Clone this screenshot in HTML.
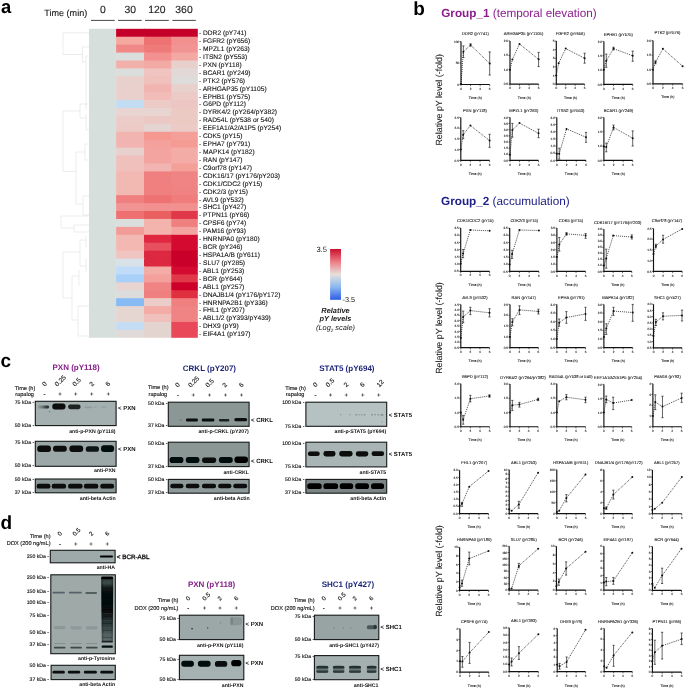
<!DOCTYPE html>
<html><head><meta charset="utf-8"><title>Figure</title>
<style>
html,body{margin:0;padding:0;background:#fff;}
body{width:685px;height:689px;overflow:hidden;}
svg{display:block;font-family:'Liberation Sans', Arial, sans-serif;text-rendering:geometricPrecision;}
</style></head>
<body>
<svg width="685" height="689" viewBox="0 0 685 689">
<defs><filter id="bl" x="-30%" y="-80%" width="160%" height="260%"><feGaussianBlur stdDeviation="0.55"/></filter><filter id="bl2" x="-100%" y="-100%" width="300%" height="300%"><feGaussianBlur stdDeviation="0.35"/></filter></defs>
<text x="0.90" y="12.60" font-size="18.4" font-weight="bold">a</text>
<text x="44.30" y="15.90" font-size="9.05" fill="#1a1a1a" stroke="#1a1a1a" stroke-width="0.12">Time (min)</text>
<text x="102.80" y="13.00" font-size="10.4" text-anchor="middle" fill="#1a1a1a" stroke="#1a1a1a" stroke-width="0.12">0</text>
<text x="130.30" y="13.00" font-size="10.4" text-anchor="middle" fill="#1a1a1a" stroke="#1a1a1a" stroke-width="0.12">30</text>
<text x="156.90" y="13.00" font-size="10.4" text-anchor="middle" fill="#1a1a1a" stroke="#1a1a1a" stroke-width="0.12">120</text>
<text x="184.00" y="13.00" font-size="10.4" text-anchor="middle" fill="#1a1a1a" stroke="#1a1a1a" stroke-width="0.12">360</text>
<rect x="91" y="19.9" width="23.7" height="0.9" fill="#333"/>
<rect x="118" y="19.9" width="23.7" height="0.9" fill="#333"/>
<rect x="145" y="19.9" width="23.8" height="0.9" fill="#333"/>
<rect x="172.4" y="19.9" width="23.4" height="0.9" fill="#333"/>
<rect x="89" y="28.8" width="27.1" height="309.0" fill="#d6dfdc"/>
<rect x="116.1" y="28.80" width="28.90" height="8.92" fill="#c4002a"/>
<rect x="144.0" y="28.80" width="28.30" height="8.92" fill="#c4002a"/>
<rect x="171.3" y="28.80" width="26.50" height="8.92" fill="#c4002a"/>
<text x="199.00" y="35.11" font-size="6.63" fill="#111" stroke="#111" stroke-width="0.1">- DDR2 (pY741)</text>
<rect x="116.1" y="36.72" width="28.90" height="8.92" fill="#f4a8a0"/>
<rect x="144.0" y="36.72" width="28.30" height="8.92" fill="#ee7272"/>
<rect x="171.3" y="36.72" width="26.50" height="8.92" fill="#f29090"/>
<text x="199.00" y="43.03" font-size="6.63" fill="#111" stroke="#111" stroke-width="0.1">- FGFR2 (pY656)</text>
<rect x="116.1" y="44.65" width="28.90" height="8.92" fill="#f08888"/>
<rect x="144.0" y="44.65" width="28.30" height="8.92" fill="#ef7a7a"/>
<rect x="171.3" y="44.65" width="26.50" height="8.92" fill="#f29494"/>
<text x="199.00" y="50.96" font-size="6.63" fill="#111" stroke="#111" stroke-width="0.1">- MPZL1 (pY263)</text>
<rect x="116.1" y="52.57" width="28.90" height="8.92" fill="#dadedc"/>
<rect x="144.0" y="52.57" width="28.30" height="8.92" fill="#f39090"/>
<rect x="171.3" y="52.57" width="26.50" height="8.92" fill="#f4a8a4"/>
<text x="199.00" y="58.88" font-size="6.63" fill="#111" stroke="#111" stroke-width="0.1">- ITSN2 (pY553)</text>
<rect x="116.1" y="60.49" width="28.90" height="8.92" fill="#f2b0aa"/>
<rect x="144.0" y="60.49" width="28.30" height="8.92" fill="#f2aaa4"/>
<rect x="171.3" y="60.49" width="26.50" height="8.92" fill="#e8d0cc"/>
<text x="199.00" y="66.80" font-size="6.63" fill="#111" stroke="#111" stroke-width="0.1">- PXN (pY118)</text>
<rect x="116.1" y="68.42" width="28.90" height="8.92" fill="#dcdedc"/>
<rect x="144.0" y="68.42" width="28.30" height="8.92" fill="#f0c4c0"/>
<rect x="171.3" y="68.42" width="26.50" height="8.92" fill="#e2d8d6"/>
<text x="199.00" y="74.73" font-size="6.63" fill="#111" stroke="#111" stroke-width="0.1">- BCAR1 (pY249)</text>
<rect x="116.1" y="76.34" width="28.90" height="8.92" fill="#e8d0cc"/>
<rect x="144.0" y="76.34" width="28.30" height="8.92" fill="#f0c0bc"/>
<rect x="171.3" y="76.34" width="26.50" height="8.92" fill="#dedcda"/>
<text x="199.00" y="82.65" font-size="6.63" fill="#111" stroke="#111" stroke-width="0.1">- PTK2 (pY576)</text>
<rect x="116.1" y="84.26" width="28.90" height="8.92" fill="#ead0cc"/>
<rect x="144.0" y="84.26" width="28.30" height="8.92" fill="#f2b4b0"/>
<rect x="171.3" y="84.26" width="26.50" height="8.92" fill="#e8d0cc"/>
<text x="199.00" y="90.57" font-size="6.63" fill="#111" stroke="#111" stroke-width="0.1">- ARHGAP35 (pY1105)</text>
<rect x="116.1" y="92.18" width="28.90" height="8.92" fill="#ead0cc"/>
<rect x="144.0" y="92.18" width="28.30" height="8.92" fill="#f2bcb8"/>
<rect x="171.3" y="92.18" width="26.50" height="8.92" fill="#eccac6"/>
<text x="199.00" y="98.50" font-size="6.63" fill="#111" stroke="#111" stroke-width="0.1">- EPHB1 (pY575)</text>
<rect x="116.1" y="100.11" width="28.90" height="8.92" fill="#c2dcf4"/>
<rect x="144.0" y="100.11" width="28.30" height="8.92" fill="#eccac6"/>
<rect x="171.3" y="100.11" width="26.50" height="8.92" fill="#ecc6c2"/>
<text x="199.00" y="106.42" font-size="6.63" fill="#111" stroke="#111" stroke-width="0.1">- G6PD (pY112)</text>
<rect x="116.1" y="108.03" width="28.90" height="8.92" fill="#e8d4d0"/>
<rect x="144.0" y="108.03" width="28.30" height="8.92" fill="#e8d4d0"/>
<rect x="171.3" y="108.03" width="26.50" height="8.92" fill="#eccac4"/>
<text x="199.00" y="114.34" font-size="6.63" fill="#111" stroke="#111" stroke-width="0.1">- DYRK4/2 (pY264/pY382)</text>
<rect x="116.1" y="115.95" width="28.90" height="8.92" fill="#ecccc8"/>
<rect x="144.0" y="115.95" width="28.30" height="8.92" fill="#ecc8c4"/>
<rect x="171.3" y="115.95" width="26.50" height="8.92" fill="#eccac4"/>
<text x="199.00" y="122.27" font-size="6.63" fill="#111" stroke="#111" stroke-width="0.1">- RAD54L (pY538 or 540)</text>
<rect x="116.1" y="123.88" width="28.90" height="8.92" fill="#eccac6"/>
<rect x="144.0" y="123.88" width="28.30" height="8.92" fill="#e4d4d2"/>
<rect x="171.3" y="123.88" width="26.50" height="8.92" fill="#eccac6"/>
<text x="199.00" y="130.19" font-size="6.63" fill="#111" stroke="#111" stroke-width="0.1">- EEF1A1/A2/A1P5 (pY254)</text>
<rect x="116.1" y="131.80" width="28.90" height="8.92" fill="#f2b4b0"/>
<rect x="144.0" y="131.80" width="28.30" height="8.92" fill="#f49890"/>
<rect x="171.3" y="131.80" width="26.50" height="8.92" fill="#f4a098"/>
<text x="199.00" y="138.11" font-size="6.63" fill="#111" stroke="#111" stroke-width="0.1">- CDK5 (pY15)</text>
<rect x="116.1" y="139.72" width="28.90" height="8.92" fill="#f2b4b0"/>
<rect x="144.0" y="139.72" width="28.30" height="8.92" fill="#f4a09c"/>
<rect x="171.3" y="139.72" width="26.50" height="8.92" fill="#f49c94"/>
<text x="199.00" y="146.03" font-size="6.63" fill="#111" stroke="#111" stroke-width="0.1">- EPHA7 (pY791)</text>
<rect x="116.1" y="147.65" width="28.90" height="8.92" fill="#e8d0cc"/>
<rect x="144.0" y="147.65" width="28.30" height="8.92" fill="#f4a4a0"/>
<rect x="171.3" y="147.65" width="26.50" height="8.92" fill="#f4aca6"/>
<text x="199.00" y="153.96" font-size="6.63" fill="#111" stroke="#111" stroke-width="0.1">- MAPK14 (pY182)</text>
<rect x="116.1" y="155.57" width="28.90" height="8.92" fill="#f0c0bc"/>
<rect x="144.0" y="155.57" width="28.30" height="8.92" fill="#f4a4a0"/>
<rect x="171.3" y="155.57" width="26.50" height="8.92" fill="#f4aca6"/>
<text x="199.00" y="161.88" font-size="6.63" fill="#111" stroke="#111" stroke-width="0.1">- RAN (pY147)</text>
<rect x="116.1" y="163.49" width="28.90" height="8.92" fill="#f0c0bc"/>
<rect x="144.0" y="163.49" width="28.30" height="8.92" fill="#f2b4b0"/>
<rect x="171.3" y="163.49" width="26.50" height="8.92" fill="#f4a098"/>
<text x="199.00" y="169.80" font-size="6.63" fill="#111" stroke="#111" stroke-width="0.1">- C9orf78 (pY147)</text>
<rect x="116.1" y="171.42" width="28.90" height="8.92" fill="#f2b8b2"/>
<rect x="144.0" y="171.42" width="28.30" height="8.92" fill="#f08080"/>
<rect x="171.3" y="171.42" width="26.50" height="8.92" fill="#f08484"/>
<text x="199.00" y="177.73" font-size="6.63" fill="#111" stroke="#111" stroke-width="0.1">- CDK16/17 (pY176/pY203)</text>
<rect x="116.1" y="179.34" width="28.90" height="8.92" fill="#f2b8b2"/>
<rect x="144.0" y="179.34" width="28.30" height="8.92" fill="#f08080"/>
<rect x="171.3" y="179.34" width="26.50" height="8.92" fill="#f08484"/>
<text x="199.00" y="185.65" font-size="6.63" fill="#111" stroke="#111" stroke-width="0.1">- CDK1/CDC2 (pY15)</text>
<rect x="116.1" y="187.26" width="28.90" height="8.92" fill="#f2b8b2"/>
<rect x="144.0" y="187.26" width="28.30" height="8.92" fill="#f08080"/>
<rect x="171.3" y="187.26" width="26.50" height="8.92" fill="#f08282"/>
<text x="199.00" y="193.57" font-size="6.63" fill="#111" stroke="#111" stroke-width="0.1">- CDK2/3 (pY15)</text>
<rect x="116.1" y="195.18" width="28.90" height="8.92" fill="#f08080"/>
<rect x="144.0" y="195.18" width="28.30" height="8.92" fill="#ee7272"/>
<rect x="171.3" y="195.18" width="26.50" height="8.92" fill="#f07c7c"/>
<text x="199.00" y="201.50" font-size="6.63" fill="#111" stroke="#111" stroke-width="0.1">- AVL9 (pY532)</text>
<rect x="116.1" y="203.11" width="28.90" height="8.92" fill="#f29494"/>
<rect x="144.0" y="203.11" width="28.30" height="8.92" fill="#f29090"/>
<rect x="171.3" y="203.11" width="26.50" height="8.92" fill="#f29090"/>
<text x="199.00" y="209.42" font-size="6.63" fill="#111" stroke="#111" stroke-width="0.1">- SHC1 (pY427)</text>
<rect x="116.1" y="211.03" width="28.90" height="8.92" fill="#ee7070"/>
<rect x="144.0" y="211.03" width="28.30" height="8.92" fill="#ea6060"/>
<rect x="171.3" y="211.03" width="26.50" height="8.92" fill="#e03848"/>
<text x="199.00" y="217.34" font-size="6.63" fill="#111" stroke="#111" stroke-width="0.1">- PTPN11 (pY66)</text>
<rect x="116.1" y="218.95" width="28.90" height="8.92" fill="#dadedc"/>
<rect x="144.0" y="218.95" width="28.30" height="8.92" fill="#f4b4ae"/>
<rect x="171.3" y="218.95" width="26.50" height="8.92" fill="#f08080"/>
<text x="199.00" y="225.27" font-size="6.63" fill="#111" stroke="#111" stroke-width="0.1">- CPSF6 (pY74)</text>
<rect x="116.1" y="226.88" width="28.90" height="8.92" fill="#f29c98"/>
<rect x="144.0" y="226.88" width="28.30" height="8.92" fill="#f4b4ae"/>
<rect x="171.3" y="226.88" width="26.50" height="8.92" fill="#f4a4a0"/>
<text x="199.00" y="233.19" font-size="6.63" fill="#111" stroke="#111" stroke-width="0.1">- PAM16 (pY93)</text>
<rect x="116.1" y="234.80" width="28.90" height="8.92" fill="#f2b8b2"/>
<rect x="144.0" y="234.80" width="28.30" height="8.92" fill="#e02840"/>
<rect x="171.3" y="234.80" width="26.50" height="8.92" fill="#d40a30"/>
<text x="199.00" y="241.11" font-size="6.63" fill="#111" stroke="#111" stroke-width="0.1">- HNRNPA0 (pY180)</text>
<rect x="116.1" y="242.72" width="28.90" height="8.92" fill="#f4b8b2"/>
<rect x="144.0" y="242.72" width="28.30" height="8.92" fill="#e85060"/>
<rect x="171.3" y="242.72" width="26.50" height="8.92" fill="#d40a30"/>
<text x="199.00" y="249.03" font-size="6.63" fill="#111" stroke="#111" stroke-width="0.1">- BCR (pY246)</text>
<rect x="116.1" y="250.65" width="28.90" height="8.92" fill="#f0c4c0"/>
<rect x="144.0" y="250.65" width="28.30" height="8.92" fill="#dc2840"/>
<rect x="171.3" y="250.65" width="26.50" height="8.92" fill="#c8002a"/>
<text x="199.00" y="256.96" font-size="6.63" fill="#111" stroke="#111" stroke-width="0.1">- HSPA1A/B (pY611)</text>
<rect x="116.1" y="258.57" width="28.90" height="8.92" fill="#d8e0e8"/>
<rect x="144.0" y="258.57" width="28.30" height="8.92" fill="#dc2840"/>
<rect x="171.3" y="258.57" width="26.50" height="8.92" fill="#c8002a"/>
<text x="199.00" y="264.88" font-size="6.63" fill="#111" stroke="#111" stroke-width="0.1">- SLU7 (pY285)</text>
<rect x="116.1" y="266.49" width="28.90" height="8.92" fill="#c0dcf8"/>
<rect x="144.0" y="266.49" width="28.30" height="8.92" fill="#f4aca6"/>
<rect x="171.3" y="266.49" width="26.50" height="8.92" fill="#d40a30"/>
<text x="199.00" y="272.80" font-size="6.63" fill="#111" stroke="#111" stroke-width="0.1">- ABL1 (pY253)</text>
<rect x="116.1" y="274.42" width="28.90" height="8.92" fill="#a8d0f8"/>
<rect x="144.0" y="274.42" width="28.30" height="8.92" fill="#f4a09c"/>
<rect x="171.3" y="274.42" width="26.50" height="8.92" fill="#e03848"/>
<text x="199.00" y="280.73" font-size="6.63" fill="#111" stroke="#111" stroke-width="0.1">- BCR (pY644)</text>
<rect x="116.1" y="282.34" width="28.90" height="8.92" fill="#e8d4d0"/>
<rect x="144.0" y="282.34" width="28.30" height="8.92" fill="#f08484"/>
<rect x="171.3" y="282.34" width="26.50" height="8.92" fill="#cc0028"/>
<text x="199.00" y="288.65" font-size="6.63" fill="#111" stroke="#111" stroke-width="0.1">- ABL1 (pY257)</text>
<rect x="116.1" y="290.26" width="28.90" height="8.92" fill="#dcdcdc"/>
<rect x="144.0" y="290.26" width="28.30" height="8.92" fill="#f08080"/>
<rect x="171.3" y="290.26" width="26.50" height="8.92" fill="#e03040"/>
<text x="199.00" y="296.57" font-size="6.63" fill="#111" stroke="#111" stroke-width="0.1">- DNAJB1/4 (pY176/pY172)</text>
<rect x="116.1" y="298.18" width="28.90" height="8.92" fill="#88bbf4"/>
<rect x="144.0" y="298.18" width="28.30" height="8.92" fill="#ecccc8"/>
<rect x="171.3" y="298.18" width="26.50" height="8.92" fill="#f08080"/>
<text x="199.00" y="304.50" font-size="6.63" fill="#111" stroke="#111" stroke-width="0.1">- HNRNPA2B1 (pY336)</text>
<rect x="116.1" y="306.11" width="28.90" height="8.92" fill="#e6d6d2"/>
<rect x="144.0" y="306.11" width="28.30" height="8.92" fill="#f4aca6"/>
<rect x="171.3" y="306.11" width="26.50" height="8.92" fill="#f08484"/>
<text x="199.00" y="312.42" font-size="6.63" fill="#111" stroke="#111" stroke-width="0.1">- FHL1 (pY207)</text>
<rect x="116.1" y="314.03" width="28.90" height="8.92" fill="#e6d6d2"/>
<rect x="144.0" y="314.03" width="28.30" height="8.92" fill="#f0c0bc"/>
<rect x="171.3" y="314.03" width="26.50" height="8.92" fill="#f08484"/>
<text x="199.00" y="320.34" font-size="6.63" fill="#111" stroke="#111" stroke-width="0.1">- ABL1/2 (pY393/pY439)</text>
<rect x="116.1" y="321.95" width="28.90" height="8.92" fill="#c4dcf4"/>
<rect x="144.0" y="321.95" width="28.30" height="8.92" fill="#e4d4d0"/>
<rect x="171.3" y="321.95" width="26.50" height="8.92" fill="#e84858"/>
<text x="199.00" y="328.27" font-size="6.63" fill="#111" stroke="#111" stroke-width="0.1">- DHX9 (pY9)</text>
<rect x="116.1" y="329.88" width="28.90" height="7.92" fill="#e0dad8"/>
<rect x="144.0" y="329.88" width="28.30" height="7.92" fill="#e4d4d0"/>
<rect x="171.3" y="329.88" width="26.50" height="7.92" fill="#e84858"/>
<text x="199.00" y="336.19" font-size="6.63" fill="#111" stroke="#111" stroke-width="0.1">- EIF4A1 (pY197)</text>
<path d="M63,32.8 V54.5 M63,32.8 H89 M63,54.5 H82.4 M82.4,47 V62 M82.4,47 H89 M82.4,62 H86 M86,56 V110 M86,56 H89 M63,111 V171.5 M63,111 H80 M80,104 V118 M80,104 H89 M80,118 H86 M86,114 V130 M86,130 H89 M63,171.5 H76 M76,152 V204 M76,152 H85 M85,144 V160 M85,144 H89 M85,160 H89 M76,204 H83 M83,196 V215 M83,196 H89 M83,215 H89 M61,216 V228 M61,216 H89 M61,228 H74 M74,225 V232 M74,225 H89 M74,232 H89 M63,252 V298 M63,252 H80 M80,240 V266 M80,240 H86 M86,236 V247 M80,266 H86 M86,258 V272 M63,298 H72 M72,276 V320 M72,276 H79 M79,270 V286 M72,320 H78 M78,306 V336 M78,336 H89 M78,306 H89" stroke="#d4d8d8" stroke-width="0.5" fill="none"/>
<defs><linearGradient id="lg" x1="0" y1="0" x2="0" y2="1"><stop offset="0" stop-color="#c8102e"/><stop offset="0.25" stop-color="#ee7c84"/><stop offset="0.5" stop-color="#e6e0dc"/><stop offset="0.75" stop-color="#8ab8f0"/><stop offset="1" stop-color="#2e5ce6"/></linearGradient></defs>
<rect x="330.1" y="249" width="10.9" height="50.8" fill="url(#lg)"/>
<text x="316.40" y="251.80" font-size="7.6" fill="#222">3.5</text>
<text x="342.60" y="302.40" font-size="7.3" fill="#222">-3.5</text>
<text x="335.50" y="312.60" font-size="7.4" text-anchor="middle" font-weight="bold" font-style="italic" fill="#222">Relative</text>
<text x="335.50" y="321.00" font-size="7.4" text-anchor="middle" font-weight="bold" font-style="italic" fill="#222">pY levels</text>
<text x="335.5" y="330" font-size="7.4" text-anchor="middle" font-style="italic" fill="#222">(Log<tspan font-size="4.5" dy="1.5">2</tspan><tspan dy="-1.5"> scale)</tspan></text>
<text x="413.30" y="14.90" font-size="19.0" font-weight="bold">b</text>
<text x="441.2" y="16.9" font-size="11.75" fill="#8b1c8e"><tspan font-weight="bold">Group_1</tspan> (temporal elevation)</text>
<text x="441.0" y="204.9" font-size="11.75" fill="#1f2088"><tspan font-weight="bold">Group_2</tspan> (accumulation)</text>
<text transform="translate(442.3,99.8) rotate(-90)" font-size="8.9" text-anchor="middle" fill="#1a1a1a" stroke="#1a1a1a" stroke-width="0.08">Relative pY level (-fold)</text>
<text transform="translate(442.3,328.0) rotate(-90)" font-size="8.9" text-anchor="middle" fill="#1a1a1a" stroke="#1a1a1a" stroke-width="0.08">Relative pY level (-fold)</text>
<text transform="translate(442.3,571.0) rotate(-90)" font-size="8.9" text-anchor="middle" fill="#1a1a1a" stroke="#1a1a1a" stroke-width="0.08">Relative pY level (-fold)</text>
<text x="475.40" y="35.10" font-size="4.1" text-anchor="middle" fill="#222" stroke="#222" stroke-width="0.1">DDR2 (pY741)</text>
<path d="M461.00,41.60 V84.50 H489.70" stroke="#111" stroke-width="1.15" fill="none"/>
<path d="M459.40,41.60 H461.00" stroke="#111" stroke-width="0.6"/>
<text x="459.10" y="42.70" font-size="3.1" text-anchor="end" fill="#222" stroke="#222" stroke-width="0.1">100</text>
<path d="M459.40,63.05 H461.00" stroke="#111" stroke-width="0.6"/>
<text x="459.10" y="64.15" font-size="3.1" text-anchor="end" fill="#222" stroke="#222" stroke-width="0.1">50</text>
<path d="M459.40,84.50 H461.00" stroke="#111" stroke-width="0.6"/>
<text x="459.10" y="85.60" font-size="3.1" text-anchor="end" fill="#222" stroke="#222" stroke-width="0.1">0</text>
<path d="M461.00,84.50 V86.20" stroke="#111" stroke-width="0.6"/>
<text x="461.00" y="89.60" font-size="3.1" text-anchor="middle" fill="#222" stroke="#222" stroke-width="0.1">0</text>
<path d="M470.57,84.50 V86.20" stroke="#111" stroke-width="0.6"/>
<text x="470.57" y="89.60" font-size="3.1" text-anchor="middle" fill="#222" stroke="#222" stroke-width="0.1">2</text>
<path d="M480.13,84.50 V86.20" stroke="#111" stroke-width="0.6"/>
<text x="480.13" y="89.60" font-size="3.1" text-anchor="middle" fill="#222" stroke="#222" stroke-width="0.1">4</text>
<path d="M489.70,84.50 V86.20" stroke="#111" stroke-width="0.6"/>
<text x="489.70" y="89.60" font-size="3.1" text-anchor="middle" fill="#222" stroke="#222" stroke-width="0.1">6</text>
<text x="475.35" y="98.50" font-size="3.55" text-anchor="middle" fill="#222" stroke="#222" stroke-width="0.1">Time (h)</text>
<path d="M461.00,84.00 L463.39,51.70 L470.57,45.00 L489.70,63.50" stroke="#1a1a1a" stroke-width="0.8" stroke-dasharray="1,1" fill="none"/>
<circle cx="461.00" cy="84.00" r="1.0" fill="#111"/>
<path d="M463.39,45.90 V57.50 M462.29,45.90 H464.49 M462.29,57.50 H464.49" stroke="#222" stroke-width="0.7"/>
<circle cx="463.39" cy="51.70" r="1.0" fill="#111"/>
<path d="M470.57,43.80 V46.20 M469.47,43.80 H471.67 M469.47,46.20 H471.67" stroke="#222" stroke-width="0.7"/>
<circle cx="470.57" cy="45.00" r="1.0" fill="#111"/>
<path d="M489.70,51.90 V75.10 M488.60,51.90 H490.80 M488.60,75.10 H490.80" stroke="#222" stroke-width="0.7"/>
<circle cx="489.70" cy="63.50" r="1.0" fill="#111"/>
<text x="523.50" y="35.20" font-size="4.1" text-anchor="middle" fill="#222" stroke="#222" stroke-width="0.1">ARHGAP35 (pY1105)</text>
<path d="M510.00,40.90 V84.10 H538.60" stroke="#111" stroke-width="1.15" fill="none"/>
<path d="M508.40,40.90 H510.00" stroke="#111" stroke-width="0.6"/>
<text x="508.10" y="42.00" font-size="3.1" text-anchor="end" fill="#222" stroke="#222" stroke-width="0.1">2.0</text>
<path d="M508.40,55.30 H510.00" stroke="#111" stroke-width="0.6"/>
<text x="508.10" y="56.40" font-size="3.1" text-anchor="end" fill="#222" stroke="#222" stroke-width="0.1">1.5</text>
<path d="M508.40,69.70 H510.00" stroke="#111" stroke-width="0.6"/>
<text x="508.10" y="70.80" font-size="3.1" text-anchor="end" fill="#222" stroke="#222" stroke-width="0.1">1.0</text>
<path d="M508.40,84.10 H510.00" stroke="#111" stroke-width="0.6"/>
<text x="508.10" y="85.20" font-size="3.1" text-anchor="end" fill="#222" stroke="#222" stroke-width="0.1">0.5</text>
<path d="M510.00,84.10 V85.80" stroke="#111" stroke-width="0.6"/>
<text x="510.00" y="89.20" font-size="3.1" text-anchor="middle" fill="#222" stroke="#222" stroke-width="0.1">0</text>
<path d="M519.53,84.10 V85.80" stroke="#111" stroke-width="0.6"/>
<text x="519.53" y="89.20" font-size="3.1" text-anchor="middle" fill="#222" stroke="#222" stroke-width="0.1">2</text>
<path d="M529.07,84.10 V85.80" stroke="#111" stroke-width="0.6"/>
<text x="529.07" y="89.20" font-size="3.1" text-anchor="middle" fill="#222" stroke="#222" stroke-width="0.1">4</text>
<path d="M538.60,84.10 V85.80" stroke="#111" stroke-width="0.6"/>
<text x="538.60" y="89.20" font-size="3.1" text-anchor="middle" fill="#222" stroke="#222" stroke-width="0.1">6</text>
<text x="524.30" y="98.50" font-size="3.55" text-anchor="middle" fill="#222" stroke="#222" stroke-width="0.1">Time (h)</text>
<path d="M510.00,69.80 L512.38,59.60 L519.53,44.00 L538.60,59.30" stroke="#1a1a1a" stroke-width="0.8" stroke-dasharray="1,1" fill="none"/>
<circle cx="510.00" cy="69.80" r="1.0" fill="#111"/>
<circle cx="512.38" cy="59.60" r="1.0" fill="#111"/>
<circle cx="519.53" cy="44.00" r="1.0" fill="#111"/>
<path d="M538.60,52.40 V66.60 M537.50,52.40 H539.70 M537.50,66.60 H539.70" stroke="#222" stroke-width="0.7"/>
<circle cx="538.60" cy="59.30" r="1.0" fill="#111"/>
<text x="570.20" y="35.20" font-size="4.1" text-anchor="middle" fill="#222" stroke="#222" stroke-width="0.1">FGFR2 (pY656)</text>
<path d="M556.30,41.00 V84.10 H584.60" stroke="#111" stroke-width="1.15" fill="none"/>
<path d="M554.70,41.00 H556.30" stroke="#111" stroke-width="0.6"/>
<text x="554.40" y="42.10" font-size="3.1" text-anchor="end" fill="#222" stroke="#222" stroke-width="0.1">5</text>
<path d="M554.70,49.62 H556.30" stroke="#111" stroke-width="0.6"/>
<text x="554.40" y="50.72" font-size="3.1" text-anchor="end" fill="#222" stroke="#222" stroke-width="0.1">4</text>
<path d="M554.70,58.24 H556.30" stroke="#111" stroke-width="0.6"/>
<text x="554.40" y="59.34" font-size="3.1" text-anchor="end" fill="#222" stroke="#222" stroke-width="0.1">3</text>
<path d="M554.70,66.86 H556.30" stroke="#111" stroke-width="0.6"/>
<text x="554.40" y="67.96" font-size="3.1" text-anchor="end" fill="#222" stroke="#222" stroke-width="0.1">2</text>
<path d="M554.70,75.48 H556.30" stroke="#111" stroke-width="0.6"/>
<text x="554.40" y="76.58" font-size="3.1" text-anchor="end" fill="#222" stroke="#222" stroke-width="0.1">1</text>
<path d="M554.70,84.10 H556.30" stroke="#111" stroke-width="0.6"/>
<text x="554.40" y="85.20" font-size="3.1" text-anchor="end" fill="#222" stroke="#222" stroke-width="0.1">0</text>
<path d="M556.30,84.10 V85.80" stroke="#111" stroke-width="0.6"/>
<text x="556.30" y="89.20" font-size="3.1" text-anchor="middle" fill="#222" stroke="#222" stroke-width="0.1">0</text>
<path d="M565.73,84.10 V85.80" stroke="#111" stroke-width="0.6"/>
<text x="565.73" y="89.20" font-size="3.1" text-anchor="middle" fill="#222" stroke="#222" stroke-width="0.1">2</text>
<path d="M575.17,84.10 V85.80" stroke="#111" stroke-width="0.6"/>
<text x="575.17" y="89.20" font-size="3.1" text-anchor="middle" fill="#222" stroke="#222" stroke-width="0.1">4</text>
<path d="M584.60,84.10 V85.80" stroke="#111" stroke-width="0.6"/>
<text x="584.60" y="89.20" font-size="3.1" text-anchor="middle" fill="#222" stroke="#222" stroke-width="0.1">6</text>
<text x="570.45" y="98.50" font-size="3.55" text-anchor="middle" fill="#222" stroke="#222" stroke-width="0.1">Time (h)</text>
<path d="M556.30,75.40 L558.66,63.20 L565.73,48.60 L584.60,58.30" stroke="#1a1a1a" stroke-width="0.8" stroke-dasharray="1,1" fill="none"/>
<circle cx="556.30" cy="75.40" r="1.0" fill="#111"/>
<circle cx="558.66" cy="63.20" r="1.0" fill="#111"/>
<circle cx="565.73" cy="48.60" r="1.0" fill="#111"/>
<path d="M584.60,53.20 V63.20 M583.50,53.20 H585.70 M583.50,63.20 H585.70" stroke="#222" stroke-width="0.7"/>
<circle cx="584.60" cy="58.30" r="1.0" fill="#111"/>
<text x="618.40" y="35.60" font-size="4.1" text-anchor="middle" fill="#222" stroke="#222" stroke-width="0.1">EPHB1 (pY575)</text>
<path d="M603.90,41.40 V84.40 H632.70" stroke="#111" stroke-width="1.15" fill="none"/>
<path d="M602.30,41.40 H603.90" stroke="#111" stroke-width="0.6"/>
<text x="602.00" y="42.50" font-size="3.1" text-anchor="end" fill="#222" stroke="#222" stroke-width="0.1">2.0</text>
<path d="M602.30,55.73 H603.90" stroke="#111" stroke-width="0.6"/>
<text x="602.00" y="56.83" font-size="3.1" text-anchor="end" fill="#222" stroke="#222" stroke-width="0.1">1.5</text>
<path d="M602.30,70.07 H603.90" stroke="#111" stroke-width="0.6"/>
<text x="602.00" y="71.17" font-size="3.1" text-anchor="end" fill="#222" stroke="#222" stroke-width="0.1">1.0</text>
<path d="M602.30,84.40 H603.90" stroke="#111" stroke-width="0.6"/>
<text x="602.00" y="85.50" font-size="3.1" text-anchor="end" fill="#222" stroke="#222" stroke-width="0.1">0.5</text>
<path d="M603.90,84.40 V86.10" stroke="#111" stroke-width="0.6"/>
<text x="603.90" y="89.50" font-size="3.1" text-anchor="middle" fill="#222" stroke="#222" stroke-width="0.1">0</text>
<path d="M613.50,84.40 V86.10" stroke="#111" stroke-width="0.6"/>
<text x="613.50" y="89.50" font-size="3.1" text-anchor="middle" fill="#222" stroke="#222" stroke-width="0.1">2</text>
<path d="M623.10,84.40 V86.10" stroke="#111" stroke-width="0.6"/>
<text x="623.10" y="89.50" font-size="3.1" text-anchor="middle" fill="#222" stroke="#222" stroke-width="0.1">4</text>
<path d="M632.70,84.40 V86.10" stroke="#111" stroke-width="0.6"/>
<text x="632.70" y="89.50" font-size="3.1" text-anchor="middle" fill="#222" stroke="#222" stroke-width="0.1">6</text>
<text x="618.30" y="98.50" font-size="3.55" text-anchor="middle" fill="#222" stroke="#222" stroke-width="0.1">Time (h)</text>
<path d="M603.90,69.70 L606.30,60.80 L613.50,48.60 L632.70,55.80" stroke="#1a1a1a" stroke-width="0.8" stroke-dasharray="1,1" fill="none"/>
<circle cx="603.90" cy="69.70" r="1.0" fill="#111"/>
<path d="M606.30,54.10 V67.30 M605.20,54.10 H607.40 M605.20,67.30 H607.40" stroke="#222" stroke-width="0.7"/>
<circle cx="606.30" cy="60.80" r="1.0" fill="#111"/>
<path d="M613.50,47.20 V50.00 M612.40,47.20 H614.60 M612.40,50.00 H614.60" stroke="#222" stroke-width="0.7"/>
<circle cx="613.50" cy="48.60" r="1.0" fill="#111"/>
<path d="M632.70,51.10 V61.30 M631.60,51.10 H633.80 M631.60,61.30 H633.80" stroke="#222" stroke-width="0.7"/>
<circle cx="632.70" cy="55.80" r="1.0" fill="#111"/>
<text x="667.50" y="33.60" font-size="4.1" text-anchor="middle" fill="#222" stroke="#222" stroke-width="0.1">PTK2 (pY576)</text>
<path d="M653.00,40.60 V83.80 H682.60" stroke="#111" stroke-width="1.15" fill="none"/>
<path d="M651.40,40.60 H653.00" stroke="#111" stroke-width="0.6"/>
<text x="651.10" y="41.70" font-size="3.1" text-anchor="end" fill="#222" stroke="#222" stroke-width="0.1">2.0</text>
<path d="M651.40,55.00 H653.00" stroke="#111" stroke-width="0.6"/>
<text x="651.10" y="56.10" font-size="3.1" text-anchor="end" fill="#222" stroke="#222" stroke-width="0.1">1.5</text>
<path d="M651.40,69.40 H653.00" stroke="#111" stroke-width="0.6"/>
<text x="651.10" y="70.50" font-size="3.1" text-anchor="end" fill="#222" stroke="#222" stroke-width="0.1">1.0</text>
<path d="M651.40,83.80 H653.00" stroke="#111" stroke-width="0.6"/>
<text x="651.10" y="84.90" font-size="3.1" text-anchor="end" fill="#222" stroke="#222" stroke-width="0.1">0.5</text>
<path d="M653.00,83.80 V85.50" stroke="#111" stroke-width="0.6"/>
<text x="653.00" y="88.90" font-size="3.1" text-anchor="middle" fill="#222" stroke="#222" stroke-width="0.1">0</text>
<path d="M662.87,83.80 V85.50" stroke="#111" stroke-width="0.6"/>
<text x="662.87" y="88.90" font-size="3.1" text-anchor="middle" fill="#222" stroke="#222" stroke-width="0.1">2</text>
<path d="M672.73,83.80 V85.50" stroke="#111" stroke-width="0.6"/>
<text x="672.73" y="88.90" font-size="3.1" text-anchor="middle" fill="#222" stroke="#222" stroke-width="0.1">4</text>
<path d="M682.60,83.80 V85.50" stroke="#111" stroke-width="0.6"/>
<text x="682.60" y="88.90" font-size="3.1" text-anchor="middle" fill="#222" stroke="#222" stroke-width="0.1">6</text>
<text x="667.80" y="98.30" font-size="3.55" text-anchor="middle" fill="#222" stroke="#222" stroke-width="0.1">Time (h)</text>
<path d="M653.00,69.70 L655.47,62.30 L662.87,48.80 L682.60,66.20" stroke="#1a1a1a" stroke-width="0.8" stroke-dasharray="1,1" fill="none"/>
<circle cx="653.00" cy="69.70" r="1.0" fill="#111"/>
<path d="M655.47,60.80 V63.80 M654.37,60.80 H656.57 M654.37,63.80 H656.57" stroke="#222" stroke-width="0.7"/>
<circle cx="655.47" cy="62.30" r="1.0" fill="#111"/>
<circle cx="662.87" cy="48.80" r="1.0" fill="#111"/>
<circle cx="682.60" cy="66.20" r="1.0" fill="#111"/>
<text x="475.00" y="111.60" font-size="4.1" text-anchor="middle" fill="#222" stroke="#222" stroke-width="0.1">PXN (pY118)</text>
<path d="M460.80,117.40 V160.40 H489.60" stroke="#111" stroke-width="1.15" fill="none"/>
<path d="M459.20,117.40 H460.80" stroke="#111" stroke-width="0.6"/>
<text x="458.90" y="118.50" font-size="3.1" text-anchor="end" fill="#222" stroke="#222" stroke-width="0.1">2.5</text>
<path d="M459.20,128.15 H460.80" stroke="#111" stroke-width="0.6"/>
<text x="458.90" y="129.25" font-size="3.1" text-anchor="end" fill="#222" stroke="#222" stroke-width="0.1">2.0</text>
<path d="M459.20,138.90 H460.80" stroke="#111" stroke-width="0.6"/>
<text x="458.90" y="140.00" font-size="3.1" text-anchor="end" fill="#222" stroke="#222" stroke-width="0.1">1.5</text>
<path d="M459.20,149.65 H460.80" stroke="#111" stroke-width="0.6"/>
<text x="458.90" y="150.75" font-size="3.1" text-anchor="end" fill="#222" stroke="#222" stroke-width="0.1">1.0</text>
<path d="M459.20,160.40 H460.80" stroke="#111" stroke-width="0.6"/>
<text x="458.90" y="161.50" font-size="3.1" text-anchor="end" fill="#222" stroke="#222" stroke-width="0.1">0.5</text>
<path d="M460.80,160.40 V162.10" stroke="#111" stroke-width="0.6"/>
<text x="460.80" y="165.50" font-size="3.1" text-anchor="middle" fill="#222" stroke="#222" stroke-width="0.1">0</text>
<path d="M470.40,160.40 V162.10" stroke="#111" stroke-width="0.6"/>
<text x="470.40" y="165.50" font-size="3.1" text-anchor="middle" fill="#222" stroke="#222" stroke-width="0.1">2</text>
<path d="M480.00,160.40 V162.10" stroke="#111" stroke-width="0.6"/>
<text x="480.00" y="165.50" font-size="3.1" text-anchor="middle" fill="#222" stroke="#222" stroke-width="0.1">4</text>
<path d="M489.60,160.40 V162.10" stroke="#111" stroke-width="0.6"/>
<text x="489.60" y="165.50" font-size="3.1" text-anchor="middle" fill="#222" stroke="#222" stroke-width="0.1">6</text>
<text x="475.20" y="174.80" font-size="3.55" text-anchor="middle" fill="#222" stroke="#222" stroke-width="0.1">Time (h)</text>
<path d="M460.80,149.60 L463.20,134.70 L470.40,125.50 L489.60,140.60" stroke="#1a1a1a" stroke-width="0.8" stroke-dasharray="1,1" fill="none"/>
<circle cx="460.80" cy="149.60" r="1.0" fill="#111"/>
<path d="M463.20,130.70 V138.70 M462.10,130.70 H464.30 M462.10,138.70 H464.30" stroke="#222" stroke-width="0.7"/>
<circle cx="463.20" cy="134.70" r="1.0" fill="#111"/>
<circle cx="470.40" cy="125.50" r="1.0" fill="#111"/>
<path d="M489.60,134.30 V147.40 M488.50,134.30 H490.70 M488.50,147.40 H490.70" stroke="#222" stroke-width="0.7"/>
<circle cx="489.60" cy="140.60" r="1.0" fill="#111"/>
<text x="523.80" y="111.60" font-size="4.1" text-anchor="middle" fill="#222" stroke="#222" stroke-width="0.1">MPZL1 (pY263)</text>
<path d="M510.00,117.40 V160.40 H538.50" stroke="#111" stroke-width="1.15" fill="none"/>
<path d="M508.40,117.40 H510.00" stroke="#111" stroke-width="0.6"/>
<text x="508.10" y="118.50" font-size="3.1" text-anchor="end" fill="#222" stroke="#222" stroke-width="0.1">4.0</text>
<path d="M508.40,123.54 H510.00" stroke="#111" stroke-width="0.6"/>
<text x="508.10" y="124.64" font-size="3.1" text-anchor="end" fill="#222" stroke="#222" stroke-width="0.1">3.5</text>
<path d="M508.40,129.69 H510.00" stroke="#111" stroke-width="0.6"/>
<text x="508.10" y="130.79" font-size="3.1" text-anchor="end" fill="#222" stroke="#222" stroke-width="0.1">3.0</text>
<path d="M508.40,135.83 H510.00" stroke="#111" stroke-width="0.6"/>
<text x="508.10" y="136.93" font-size="3.1" text-anchor="end" fill="#222" stroke="#222" stroke-width="0.1">2.5</text>
<path d="M508.40,141.97 H510.00" stroke="#111" stroke-width="0.6"/>
<text x="508.10" y="143.07" font-size="3.1" text-anchor="end" fill="#222" stroke="#222" stroke-width="0.1">2.0</text>
<path d="M508.40,148.11 H510.00" stroke="#111" stroke-width="0.6"/>
<text x="508.10" y="149.21" font-size="3.1" text-anchor="end" fill="#222" stroke="#222" stroke-width="0.1">1.5</text>
<path d="M508.40,154.26 H510.00" stroke="#111" stroke-width="0.6"/>
<text x="508.10" y="155.36" font-size="3.1" text-anchor="end" fill="#222" stroke="#222" stroke-width="0.1">1.0</text>
<path d="M508.40,160.40 H510.00" stroke="#111" stroke-width="0.6"/>
<text x="508.10" y="161.50" font-size="3.1" text-anchor="end" fill="#222" stroke="#222" stroke-width="0.1">0.5</text>
<path d="M510.00,160.40 V162.10" stroke="#111" stroke-width="0.6"/>
<text x="510.00" y="165.50" font-size="3.1" text-anchor="middle" fill="#222" stroke="#222" stroke-width="0.1">0</text>
<path d="M519.50,160.40 V162.10" stroke="#111" stroke-width="0.6"/>
<text x="519.50" y="165.50" font-size="3.1" text-anchor="middle" fill="#222" stroke="#222" stroke-width="0.1">2</text>
<path d="M529.00,160.40 V162.10" stroke="#111" stroke-width="0.6"/>
<text x="529.00" y="165.50" font-size="3.1" text-anchor="middle" fill="#222" stroke="#222" stroke-width="0.1">4</text>
<path d="M538.50,160.40 V162.10" stroke="#111" stroke-width="0.6"/>
<text x="538.50" y="165.50" font-size="3.1" text-anchor="middle" fill="#222" stroke="#222" stroke-width="0.1">6</text>
<text x="524.25" y="174.80" font-size="3.55" text-anchor="middle" fill="#222" stroke="#222" stroke-width="0.1">Time (h)</text>
<path d="M510.00,154.70 L512.38,129.90 L519.50,123.10 L538.50,133.30" stroke="#1a1a1a" stroke-width="0.8" stroke-dasharray="1,1" fill="none"/>
<circle cx="510.00" cy="154.70" r="1.0" fill="#111"/>
<path d="M512.38,123.40 V137.20 M511.27,123.40 H513.48 M511.27,137.20 H513.48" stroke="#222" stroke-width="0.7"/>
<circle cx="512.38" cy="129.90" r="1.0" fill="#111"/>
<circle cx="519.50" cy="123.10" r="1.0" fill="#111"/>
<path d="M538.50,129.20 V137.70 M537.40,129.20 H539.60 M537.40,137.70 H539.60" stroke="#222" stroke-width="0.7"/>
<circle cx="538.50" cy="133.30" r="1.0" fill="#111"/>
<text x="570.70" y="111.60" font-size="4.1" text-anchor="middle" fill="#222" stroke="#222" stroke-width="0.1">ITSN2 (pY553)</text>
<path d="M556.80,117.40 V160.40 H586.00" stroke="#111" stroke-width="1.15" fill="none"/>
<path d="M555.20,117.40 H556.80" stroke="#111" stroke-width="0.6"/>
<text x="554.90" y="118.50" font-size="3.1" text-anchor="end" fill="#222" stroke="#222" stroke-width="0.1">3.0</text>
<path d="M555.20,124.57 H556.80" stroke="#111" stroke-width="0.6"/>
<text x="554.90" y="125.67" font-size="3.1" text-anchor="end" fill="#222" stroke="#222" stroke-width="0.1">2.5</text>
<path d="M555.20,131.73 H556.80" stroke="#111" stroke-width="0.6"/>
<text x="554.90" y="132.83" font-size="3.1" text-anchor="end" fill="#222" stroke="#222" stroke-width="0.1">2.0</text>
<path d="M555.20,138.90 H556.80" stroke="#111" stroke-width="0.6"/>
<text x="554.90" y="140.00" font-size="3.1" text-anchor="end" fill="#222" stroke="#222" stroke-width="0.1">1.5</text>
<path d="M555.20,146.07 H556.80" stroke="#111" stroke-width="0.6"/>
<text x="554.90" y="147.17" font-size="3.1" text-anchor="end" fill="#222" stroke="#222" stroke-width="0.1">1.0</text>
<path d="M555.20,153.23 H556.80" stroke="#111" stroke-width="0.6"/>
<text x="554.90" y="154.33" font-size="3.1" text-anchor="end" fill="#222" stroke="#222" stroke-width="0.1">0.5</text>
<path d="M555.20,160.40 H556.80" stroke="#111" stroke-width="0.6"/>
<text x="554.90" y="161.50" font-size="3.1" text-anchor="end" fill="#222" stroke="#222" stroke-width="0.1">0.0</text>
<path d="M556.80,160.40 V162.10" stroke="#111" stroke-width="0.6"/>
<text x="556.80" y="165.50" font-size="3.1" text-anchor="middle" fill="#222" stroke="#222" stroke-width="0.1">0</text>
<path d="M566.53,160.40 V162.10" stroke="#111" stroke-width="0.6"/>
<text x="566.53" y="165.50" font-size="3.1" text-anchor="middle" fill="#222" stroke="#222" stroke-width="0.1">2</text>
<path d="M576.27,160.40 V162.10" stroke="#111" stroke-width="0.6"/>
<text x="576.27" y="165.50" font-size="3.1" text-anchor="middle" fill="#222" stroke="#222" stroke-width="0.1">4</text>
<path d="M586.00,160.40 V162.10" stroke="#111" stroke-width="0.6"/>
<text x="586.00" y="165.50" font-size="3.1" text-anchor="middle" fill="#222" stroke="#222" stroke-width="0.1">6</text>
<text x="571.40" y="174.80" font-size="3.55" text-anchor="middle" fill="#222" stroke="#222" stroke-width="0.1">Time (h)</text>
<path d="M556.80,153.70 L559.23,153.70 L566.53,128.90 L586.00,137.20" stroke="#1a1a1a" stroke-width="0.8" stroke-dasharray="1,1" fill="none"/>
<circle cx="556.80" cy="153.70" r="1.0" fill="#111"/>
<path d="M559.23,148.20 V159.10 M558.13,148.20 H560.33 M558.13,159.10 H560.33" stroke="#222" stroke-width="0.7"/>
<circle cx="559.23" cy="153.70" r="1.0" fill="#111"/>
<circle cx="566.53" cy="128.90" r="1.0" fill="#111"/>
<path d="M586.00,132.40 V142.30 M584.90,132.40 H587.10 M584.90,142.30 H587.10" stroke="#222" stroke-width="0.7"/>
<circle cx="586.00" cy="137.20" r="1.0" fill="#111"/>
<text x="618.50" y="111.60" font-size="4.1" text-anchor="middle" fill="#222" stroke="#222" stroke-width="0.1">BCAR1 (pY249)</text>
<path d="M603.90,117.40 V160.40 H632.70" stroke="#111" stroke-width="1.15" fill="none"/>
<path d="M602.30,117.40 H603.90" stroke="#111" stroke-width="0.6"/>
<text x="602.00" y="118.50" font-size="3.1" text-anchor="end" fill="#222" stroke="#222" stroke-width="0.1">2.0</text>
<path d="M602.30,131.73 H603.90" stroke="#111" stroke-width="0.6"/>
<text x="602.00" y="132.83" font-size="3.1" text-anchor="end" fill="#222" stroke="#222" stroke-width="0.1">1.5</text>
<path d="M602.30,146.07 H603.90" stroke="#111" stroke-width="0.6"/>
<text x="602.00" y="147.17" font-size="3.1" text-anchor="end" fill="#222" stroke="#222" stroke-width="0.1">1.0</text>
<path d="M602.30,160.40 H603.90" stroke="#111" stroke-width="0.6"/>
<text x="602.00" y="161.50" font-size="3.1" text-anchor="end" fill="#222" stroke="#222" stroke-width="0.1">0.5</text>
<path d="M603.90,160.40 V162.10" stroke="#111" stroke-width="0.6"/>
<text x="603.90" y="165.50" font-size="3.1" text-anchor="middle" fill="#222" stroke="#222" stroke-width="0.1">0</text>
<path d="M613.50,160.40 V162.10" stroke="#111" stroke-width="0.6"/>
<text x="613.50" y="165.50" font-size="3.1" text-anchor="middle" fill="#222" stroke="#222" stroke-width="0.1">2</text>
<path d="M623.10,160.40 V162.10" stroke="#111" stroke-width="0.6"/>
<text x="623.10" y="165.50" font-size="3.1" text-anchor="middle" fill="#222" stroke="#222" stroke-width="0.1">4</text>
<path d="M632.70,160.40 V162.10" stroke="#111" stroke-width="0.6"/>
<text x="632.70" y="165.50" font-size="3.1" text-anchor="middle" fill="#222" stroke="#222" stroke-width="0.1">6</text>
<text x="618.30" y="174.80" font-size="3.55" text-anchor="middle" fill="#222" stroke="#222" stroke-width="0.1">Time (h)</text>
<path d="M603.90,146.40 L606.30,147.00 L613.50,127.40 L632.70,138.20" stroke="#1a1a1a" stroke-width="0.8" stroke-dasharray="1,1" fill="none"/>
<circle cx="603.90" cy="146.40" r="1.0" fill="#111"/>
<path d="M606.30,143.10 V151.80 M605.20,143.10 H607.40 M605.20,151.80 H607.40" stroke="#222" stroke-width="0.7"/>
<circle cx="606.30" cy="147.00" r="1.0" fill="#111"/>
<path d="M613.50,125.10 V129.90 M612.40,125.10 H614.60 M612.40,129.90 H614.60" stroke="#222" stroke-width="0.7"/>
<circle cx="613.50" cy="127.40" r="1.0" fill="#111"/>
<path d="M632.70,130.90 V146.00 M631.60,130.90 H633.80 M631.60,146.00 H633.80" stroke="#222" stroke-width="0.7"/>
<circle cx="632.70" cy="138.20" r="1.0" fill="#111"/>
<text x="475.40" y="222.20" font-size="4.1" text-anchor="middle" fill="#222" stroke="#222" stroke-width="0.1">CDK1/CDC2 (pY15)</text>
<path d="M460.70,228.00 V271.30 H489.60" stroke="#111" stroke-width="1.15" fill="none"/>
<path d="M459.10,228.00 H460.70" stroke="#111" stroke-width="0.6"/>
<text x="458.80" y="229.10" font-size="3.1" text-anchor="end" fill="#222" stroke="#222" stroke-width="0.1">3.5</text>
<path d="M459.10,235.22 H460.70" stroke="#111" stroke-width="0.6"/>
<text x="458.80" y="236.32" font-size="3.1" text-anchor="end" fill="#222" stroke="#222" stroke-width="0.1">3.0</text>
<path d="M459.10,242.43 H460.70" stroke="#111" stroke-width="0.6"/>
<text x="458.80" y="243.53" font-size="3.1" text-anchor="end" fill="#222" stroke="#222" stroke-width="0.1">2.5</text>
<path d="M459.10,249.65 H460.70" stroke="#111" stroke-width="0.6"/>
<text x="458.80" y="250.75" font-size="3.1" text-anchor="end" fill="#222" stroke="#222" stroke-width="0.1">2.0</text>
<path d="M459.10,256.87 H460.70" stroke="#111" stroke-width="0.6"/>
<text x="458.80" y="257.97" font-size="3.1" text-anchor="end" fill="#222" stroke="#222" stroke-width="0.1">1.5</text>
<path d="M459.10,264.08 H460.70" stroke="#111" stroke-width="0.6"/>
<text x="458.80" y="265.18" font-size="3.1" text-anchor="end" fill="#222" stroke="#222" stroke-width="0.1">1.0</text>
<path d="M459.10,271.30 H460.70" stroke="#111" stroke-width="0.6"/>
<text x="458.80" y="272.40" font-size="3.1" text-anchor="end" fill="#222" stroke="#222" stroke-width="0.1">0.5</text>
<path d="M460.70,271.30 V273.00" stroke="#111" stroke-width="0.6"/>
<text x="460.70" y="276.40" font-size="3.1" text-anchor="middle" fill="#222" stroke="#222" stroke-width="0.1">0</text>
<path d="M470.33,271.30 V273.00" stroke="#111" stroke-width="0.6"/>
<text x="470.33" y="276.40" font-size="3.1" text-anchor="middle" fill="#222" stroke="#222" stroke-width="0.1">2</text>
<path d="M479.97,271.30 V273.00" stroke="#111" stroke-width="0.6"/>
<text x="479.97" y="276.40" font-size="3.1" text-anchor="middle" fill="#222" stroke="#222" stroke-width="0.1">4</text>
<path d="M489.60,271.30 V273.00" stroke="#111" stroke-width="0.6"/>
<text x="489.60" y="276.40" font-size="3.1" text-anchor="middle" fill="#222" stroke="#222" stroke-width="0.1">6</text>
<text x="475.15" y="285.60" font-size="3.55" text-anchor="middle" fill="#222" stroke="#222" stroke-width="0.1">Time (h)</text>
<path d="M460.70,263.80 L463.11,253.60 L470.33,230.00 L489.60,230.80" stroke="#1a1a1a" stroke-width="0.8" stroke-dasharray="1,1" fill="none"/>
<circle cx="460.70" cy="263.80" r="1.0" fill="#111"/>
<path d="M463.11,249.50 V257.70 M462.01,249.50 H464.21 M462.01,257.70 H464.21" stroke="#222" stroke-width="0.7"/>
<circle cx="463.11" cy="253.60" r="1.0" fill="#111"/>
<circle cx="470.33" cy="230.00" r="1.0" fill="#111"/>
<circle cx="489.60" cy="230.80" r="1.0" fill="#111"/>
<text x="524.30" y="222.20" font-size="4.1" text-anchor="middle" fill="#222" stroke="#222" stroke-width="0.1">CDK2/3 (pY15)</text>
<path d="M509.70,228.10 V271.40 H538.90" stroke="#111" stroke-width="1.15" fill="none"/>
<path d="M508.10,228.10 H509.70" stroke="#111" stroke-width="0.6"/>
<text x="507.80" y="229.20" font-size="3.1" text-anchor="end" fill="#222" stroke="#222" stroke-width="0.1">3.5</text>
<path d="M508.10,235.32 H509.70" stroke="#111" stroke-width="0.6"/>
<text x="507.80" y="236.42" font-size="3.1" text-anchor="end" fill="#222" stroke="#222" stroke-width="0.1">3.0</text>
<path d="M508.10,242.53 H509.70" stroke="#111" stroke-width="0.6"/>
<text x="507.80" y="243.63" font-size="3.1" text-anchor="end" fill="#222" stroke="#222" stroke-width="0.1">2.5</text>
<path d="M508.10,249.75 H509.70" stroke="#111" stroke-width="0.6"/>
<text x="507.80" y="250.85" font-size="3.1" text-anchor="end" fill="#222" stroke="#222" stroke-width="0.1">2.0</text>
<path d="M508.10,256.97 H509.70" stroke="#111" stroke-width="0.6"/>
<text x="507.80" y="258.07" font-size="3.1" text-anchor="end" fill="#222" stroke="#222" stroke-width="0.1">1.5</text>
<path d="M508.10,264.18 H509.70" stroke="#111" stroke-width="0.6"/>
<text x="507.80" y="265.28" font-size="3.1" text-anchor="end" fill="#222" stroke="#222" stroke-width="0.1">1.0</text>
<path d="M508.10,271.40 H509.70" stroke="#111" stroke-width="0.6"/>
<text x="507.80" y="272.50" font-size="3.1" text-anchor="end" fill="#222" stroke="#222" stroke-width="0.1">0.5</text>
<path d="M509.70,271.40 V273.10" stroke="#111" stroke-width="0.6"/>
<text x="509.70" y="276.50" font-size="3.1" text-anchor="middle" fill="#222" stroke="#222" stroke-width="0.1">0</text>
<path d="M519.43,271.40 V273.10" stroke="#111" stroke-width="0.6"/>
<text x="519.43" y="276.50" font-size="3.1" text-anchor="middle" fill="#222" stroke="#222" stroke-width="0.1">2</text>
<path d="M529.17,271.40 V273.10" stroke="#111" stroke-width="0.6"/>
<text x="529.17" y="276.50" font-size="3.1" text-anchor="middle" fill="#222" stroke="#222" stroke-width="0.1">4</text>
<path d="M538.90,271.40 V273.10" stroke="#111" stroke-width="0.6"/>
<text x="538.90" y="276.50" font-size="3.1" text-anchor="middle" fill="#222" stroke="#222" stroke-width="0.1">6</text>
<text x="524.30" y="285.60" font-size="3.55" text-anchor="middle" fill="#222" stroke="#222" stroke-width="0.1">Time (h)</text>
<path d="M509.70,264.40 L512.13,254.00 L519.43,230.00 L538.90,230.50" stroke="#1a1a1a" stroke-width="0.8" stroke-dasharray="1,1" fill="none"/>
<circle cx="509.70" cy="264.40" r="1.0" fill="#111"/>
<path d="M512.13,250.20 V258.40 M511.03,250.20 H513.23 M511.03,258.40 H513.23" stroke="#222" stroke-width="0.7"/>
<circle cx="512.13" cy="254.00" r="1.0" fill="#111"/>
<circle cx="519.43" cy="230.00" r="1.0" fill="#111"/>
<circle cx="538.90" cy="230.50" r="1.0" fill="#111"/>
<text x="571.00" y="222.20" font-size="4.1" text-anchor="middle" fill="#222" stroke="#222" stroke-width="0.1">CDK5 (pY15)</text>
<path d="M556.90,228.10 V271.40 H585.60" stroke="#111" stroke-width="1.15" fill="none"/>
<path d="M555.30,228.10 H556.90" stroke="#111" stroke-width="0.6"/>
<text x="555.00" y="229.20" font-size="3.1" text-anchor="end" fill="#222" stroke="#222" stroke-width="0.1">3.5</text>
<path d="M555.30,235.32 H556.90" stroke="#111" stroke-width="0.6"/>
<text x="555.00" y="236.42" font-size="3.1" text-anchor="end" fill="#222" stroke="#222" stroke-width="0.1">3.0</text>
<path d="M555.30,242.53 H556.90" stroke="#111" stroke-width="0.6"/>
<text x="555.00" y="243.63" font-size="3.1" text-anchor="end" fill="#222" stroke="#222" stroke-width="0.1">2.5</text>
<path d="M555.30,249.75 H556.90" stroke="#111" stroke-width="0.6"/>
<text x="555.00" y="250.85" font-size="3.1" text-anchor="end" fill="#222" stroke="#222" stroke-width="0.1">2.0</text>
<path d="M555.30,256.97 H556.90" stroke="#111" stroke-width="0.6"/>
<text x="555.00" y="258.07" font-size="3.1" text-anchor="end" fill="#222" stroke="#222" stroke-width="0.1">1.5</text>
<path d="M555.30,264.18 H556.90" stroke="#111" stroke-width="0.6"/>
<text x="555.00" y="265.28" font-size="3.1" text-anchor="end" fill="#222" stroke="#222" stroke-width="0.1">1.0</text>
<path d="M555.30,271.40 H556.90" stroke="#111" stroke-width="0.6"/>
<text x="555.00" y="272.50" font-size="3.1" text-anchor="end" fill="#222" stroke="#222" stroke-width="0.1">0.5</text>
<path d="M556.90,271.40 V273.10" stroke="#111" stroke-width="0.6"/>
<text x="556.90" y="276.50" font-size="3.1" text-anchor="middle" fill="#222" stroke="#222" stroke-width="0.1">0</text>
<path d="M566.47,271.40 V273.10" stroke="#111" stroke-width="0.6"/>
<text x="566.47" y="276.50" font-size="3.1" text-anchor="middle" fill="#222" stroke="#222" stroke-width="0.1">2</text>
<path d="M576.03,271.40 V273.10" stroke="#111" stroke-width="0.6"/>
<text x="576.03" y="276.50" font-size="3.1" text-anchor="middle" fill="#222" stroke="#222" stroke-width="0.1">4</text>
<path d="M585.60,271.40 V273.10" stroke="#111" stroke-width="0.6"/>
<text x="585.60" y="276.50" font-size="3.1" text-anchor="middle" fill="#222" stroke="#222" stroke-width="0.1">6</text>
<text x="571.25" y="285.60" font-size="3.55" text-anchor="middle" fill="#222" stroke="#222" stroke-width="0.1">Time (h)</text>
<path d="M556.90,257.00 L559.29,244.40 L566.47,233.90 L585.60,235.40" stroke="#1a1a1a" stroke-width="0.8" stroke-dasharray="1,1" fill="none"/>
<circle cx="556.90" cy="257.00" r="1.0" fill="#111"/>
<path d="M559.29,237.50 V251.10 M558.19,237.50 H560.39 M558.19,251.10 H560.39" stroke="#222" stroke-width="0.7"/>
<circle cx="559.29" cy="244.40" r="1.0" fill="#111"/>
<path d="M566.47,232.60 V235.20 M565.37,232.60 H567.57 M565.37,235.20 H567.57" stroke="#222" stroke-width="0.7"/>
<circle cx="566.47" cy="233.90" r="1.0" fill="#111"/>
<path d="M585.60,233.60 V238.30 M584.50,233.60 H586.70 M584.50,238.30 H586.70" stroke="#222" stroke-width="0.7"/>
<circle cx="585.60" cy="235.40" r="1.0" fill="#111"/>
<text x="617.70" y="223.80" font-size="4.1" text-anchor="middle" fill="#222" stroke="#222" stroke-width="0.1">CDK16/17 (pY176/pY203)</text>
<path d="M603.90,229.30 V271.40 H631.80" stroke="#111" stroke-width="1.15" fill="none"/>
<path d="M602.30,229.30 H603.90" stroke="#111" stroke-width="0.6"/>
<text x="602.00" y="230.40" font-size="3.1" text-anchor="end" fill="#222" stroke="#222" stroke-width="0.1">4.0</text>
<path d="M602.30,235.31 H603.90" stroke="#111" stroke-width="0.6"/>
<text x="602.00" y="236.41" font-size="3.1" text-anchor="end" fill="#222" stroke="#222" stroke-width="0.1">3.5</text>
<path d="M602.30,241.33 H603.90" stroke="#111" stroke-width="0.6"/>
<text x="602.00" y="242.43" font-size="3.1" text-anchor="end" fill="#222" stroke="#222" stroke-width="0.1">3.0</text>
<path d="M602.30,247.34 H603.90" stroke="#111" stroke-width="0.6"/>
<text x="602.00" y="248.44" font-size="3.1" text-anchor="end" fill="#222" stroke="#222" stroke-width="0.1">2.5</text>
<path d="M602.30,253.36 H603.90" stroke="#111" stroke-width="0.6"/>
<text x="602.00" y="254.46" font-size="3.1" text-anchor="end" fill="#222" stroke="#222" stroke-width="0.1">2.0</text>
<path d="M602.30,259.37 H603.90" stroke="#111" stroke-width="0.6"/>
<text x="602.00" y="260.47" font-size="3.1" text-anchor="end" fill="#222" stroke="#222" stroke-width="0.1">1.5</text>
<path d="M602.30,265.39 H603.90" stroke="#111" stroke-width="0.6"/>
<text x="602.00" y="266.49" font-size="3.1" text-anchor="end" fill="#222" stroke="#222" stroke-width="0.1">1.0</text>
<path d="M602.30,271.40 H603.90" stroke="#111" stroke-width="0.6"/>
<text x="602.00" y="272.50" font-size="3.1" text-anchor="end" fill="#222" stroke="#222" stroke-width="0.1">0.5</text>
<path d="M603.90,271.40 V273.10" stroke="#111" stroke-width="0.6"/>
<text x="603.90" y="276.50" font-size="3.1" text-anchor="middle" fill="#222" stroke="#222" stroke-width="0.1">0</text>
<path d="M613.20,271.40 V273.10" stroke="#111" stroke-width="0.6"/>
<text x="613.20" y="276.50" font-size="3.1" text-anchor="middle" fill="#222" stroke="#222" stroke-width="0.1">2</text>
<path d="M622.50,271.40 V273.10" stroke="#111" stroke-width="0.6"/>
<text x="622.50" y="276.50" font-size="3.1" text-anchor="middle" fill="#222" stroke="#222" stroke-width="0.1">4</text>
<path d="M631.80,271.40 V273.10" stroke="#111" stroke-width="0.6"/>
<text x="631.80" y="276.50" font-size="3.1" text-anchor="middle" fill="#222" stroke="#222" stroke-width="0.1">6</text>
<text x="617.85" y="285.60" font-size="3.55" text-anchor="middle" fill="#222" stroke="#222" stroke-width="0.1">Time (h)</text>
<path d="M603.90,265.40 L606.23,258.50 L613.20,235.60 L631.80,237.00" stroke="#1a1a1a" stroke-width="0.8" stroke-dasharray="1,1" fill="none"/>
<circle cx="603.90" cy="265.40" r="1.0" fill="#111"/>
<path d="M606.23,249.20 V268.20 M605.12,249.20 H607.33 M605.12,268.20 H607.33" stroke="#222" stroke-width="0.7"/>
<circle cx="606.23" cy="258.50" r="1.0" fill="#111"/>
<circle cx="613.20" cy="235.60" r="1.0" fill="#111"/>
<path d="M631.80,234.90 V239.00 M630.70,234.90 H632.90 M630.70,239.00 H632.90" stroke="#222" stroke-width="0.7"/>
<circle cx="631.80" cy="237.00" r="1.0" fill="#111"/>
<text x="667.00" y="222.00" font-size="4.1" text-anchor="middle" fill="#222" stroke="#222" stroke-width="0.1">C9orf78 (pY147)</text>
<path d="M653.50,228.40 V271.40 H682.20" stroke="#111" stroke-width="1.15" fill="none"/>
<path d="M651.90,228.40 H653.50" stroke="#111" stroke-width="0.6"/>
<text x="651.60" y="229.50" font-size="3.1" text-anchor="end" fill="#222" stroke="#222" stroke-width="0.1">2.5</text>
<path d="M651.90,239.15 H653.50" stroke="#111" stroke-width="0.6"/>
<text x="651.60" y="240.25" font-size="3.1" text-anchor="end" fill="#222" stroke="#222" stroke-width="0.1">2.0</text>
<path d="M651.90,249.90 H653.50" stroke="#111" stroke-width="0.6"/>
<text x="651.60" y="251.00" font-size="3.1" text-anchor="end" fill="#222" stroke="#222" stroke-width="0.1">1.5</text>
<path d="M651.90,260.65 H653.50" stroke="#111" stroke-width="0.6"/>
<text x="651.60" y="261.75" font-size="3.1" text-anchor="end" fill="#222" stroke="#222" stroke-width="0.1">1.0</text>
<path d="M651.90,271.40 H653.50" stroke="#111" stroke-width="0.6"/>
<text x="651.60" y="272.50" font-size="3.1" text-anchor="end" fill="#222" stroke="#222" stroke-width="0.1">0.5</text>
<path d="M653.50,271.40 V273.10" stroke="#111" stroke-width="0.6"/>
<text x="653.50" y="276.50" font-size="3.1" text-anchor="middle" fill="#222" stroke="#222" stroke-width="0.1">0</text>
<path d="M663.07,271.40 V273.10" stroke="#111" stroke-width="0.6"/>
<text x="663.07" y="276.50" font-size="3.1" text-anchor="middle" fill="#222" stroke="#222" stroke-width="0.1">2</text>
<path d="M672.63,271.40 V273.10" stroke="#111" stroke-width="0.6"/>
<text x="672.63" y="276.50" font-size="3.1" text-anchor="middle" fill="#222" stroke="#222" stroke-width="0.1">4</text>
<path d="M682.20,271.40 V273.10" stroke="#111" stroke-width="0.6"/>
<text x="682.20" y="276.50" font-size="3.1" text-anchor="middle" fill="#222" stroke="#222" stroke-width="0.1">6</text>
<text x="667.85" y="285.60" font-size="3.55" text-anchor="middle" fill="#222" stroke="#222" stroke-width="0.1">Time (h)</text>
<path d="M653.50,254.00 L655.89,246.00 L663.07,239.50 L682.20,228.90" stroke="#1a1a1a" stroke-width="0.8" stroke-dasharray="1,1" fill="none"/>
<circle cx="653.50" cy="254.00" r="1.0" fill="#111"/>
<path d="M655.89,244.20 V247.80 M654.79,244.20 H656.99 M654.79,247.80 H656.99" stroke="#222" stroke-width="0.7"/>
<circle cx="655.89" cy="246.00" r="1.0" fill="#111"/>
<path d="M663.07,235.30 V243.20 M661.97,235.30 H664.17 M661.97,243.20 H664.17" stroke="#222" stroke-width="0.7"/>
<circle cx="663.07" cy="239.50" r="1.0" fill="#111"/>
<circle cx="682.20" cy="228.90" r="1.0" fill="#111"/>
<text x="474.90" y="298.90" font-size="4.1" text-anchor="middle" fill="#222" stroke="#222" stroke-width="0.1">AVL9 (pY532)</text>
<path d="M460.80,304.40 V347.60 H489.50" stroke="#111" stroke-width="1.15" fill="none"/>
<path d="M459.20,304.40 H460.80" stroke="#111" stroke-width="0.6"/>
<text x="458.90" y="305.50" font-size="3.1" text-anchor="end" fill="#222" stroke="#222" stroke-width="0.1">4.5</text>
<path d="M459.20,309.80 H460.80" stroke="#111" stroke-width="0.6"/>
<text x="458.90" y="310.90" font-size="3.1" text-anchor="end" fill="#222" stroke="#222" stroke-width="0.1">4.0</text>
<path d="M459.20,315.20 H460.80" stroke="#111" stroke-width="0.6"/>
<text x="458.90" y="316.30" font-size="3.1" text-anchor="end" fill="#222" stroke="#222" stroke-width="0.1">3.5</text>
<path d="M459.20,320.60 H460.80" stroke="#111" stroke-width="0.6"/>
<text x="458.90" y="321.70" font-size="3.1" text-anchor="end" fill="#222" stroke="#222" stroke-width="0.1">3.0</text>
<path d="M459.20,326.00 H460.80" stroke="#111" stroke-width="0.6"/>
<text x="458.90" y="327.10" font-size="3.1" text-anchor="end" fill="#222" stroke="#222" stroke-width="0.1">2.5</text>
<path d="M459.20,331.40 H460.80" stroke="#111" stroke-width="0.6"/>
<text x="458.90" y="332.50" font-size="3.1" text-anchor="end" fill="#222" stroke="#222" stroke-width="0.1">2.0</text>
<path d="M459.20,336.80 H460.80" stroke="#111" stroke-width="0.6"/>
<text x="458.90" y="337.90" font-size="3.1" text-anchor="end" fill="#222" stroke="#222" stroke-width="0.1">1.5</text>
<path d="M459.20,342.20 H460.80" stroke="#111" stroke-width="0.6"/>
<text x="458.90" y="343.30" font-size="3.1" text-anchor="end" fill="#222" stroke="#222" stroke-width="0.1">1.0</text>
<path d="M459.20,347.60 H460.80" stroke="#111" stroke-width="0.6"/>
<text x="458.90" y="348.70" font-size="3.1" text-anchor="end" fill="#222" stroke="#222" stroke-width="0.1">0.5</text>
<path d="M460.80,347.60 V349.30" stroke="#111" stroke-width="0.6"/>
<text x="460.80" y="352.70" font-size="3.1" text-anchor="middle" fill="#222" stroke="#222" stroke-width="0.1">0</text>
<path d="M470.37,347.60 V349.30" stroke="#111" stroke-width="0.6"/>
<text x="470.37" y="352.70" font-size="3.1" text-anchor="middle" fill="#222" stroke="#222" stroke-width="0.1">2</text>
<path d="M479.93,347.60 V349.30" stroke="#111" stroke-width="0.6"/>
<text x="479.93" y="352.70" font-size="3.1" text-anchor="middle" fill="#222" stroke="#222" stroke-width="0.1">4</text>
<path d="M489.50,347.60 V349.30" stroke="#111" stroke-width="0.6"/>
<text x="489.50" y="352.70" font-size="3.1" text-anchor="middle" fill="#222" stroke="#222" stroke-width="0.1">6</text>
<text x="475.15" y="362.20" font-size="3.55" text-anchor="middle" fill="#222" stroke="#222" stroke-width="0.1">Time (h)</text>
<path d="M460.80,337.90 L463.19,316.90 L470.37,310.60 L489.50,312.80" stroke="#1a1a1a" stroke-width="0.8" stroke-dasharray="1,1" fill="none"/>
<circle cx="460.80" cy="337.90" r="1.0" fill="#111"/>
<path d="M463.19,311.10 V322.70 M462.09,311.10 H464.29 M462.09,322.70 H464.29" stroke="#222" stroke-width="0.7"/>
<circle cx="463.19" cy="316.90" r="1.0" fill="#111"/>
<path d="M470.37,307.30 V314.60 M469.27,307.30 H471.47 M469.27,314.60 H471.47" stroke="#222" stroke-width="0.7"/>
<circle cx="470.37" cy="310.60" r="1.0" fill="#111"/>
<path d="M489.50,308.70 V316.90 M488.40,308.70 H490.60 M488.40,316.90 H490.60" stroke="#222" stroke-width="0.7"/>
<circle cx="489.50" cy="312.80" r="1.0" fill="#111"/>
<text x="523.80" y="298.90" font-size="4.1" text-anchor="middle" fill="#222" stroke="#222" stroke-width="0.1">RAN (pY147)</text>
<path d="M510.00,304.40 V347.60 H538.40" stroke="#111" stroke-width="1.15" fill="none"/>
<path d="M508.40,304.40 H510.00" stroke="#111" stroke-width="0.6"/>
<text x="508.10" y="305.50" font-size="3.1" text-anchor="end" fill="#222" stroke="#222" stroke-width="0.1">2.5</text>
<path d="M508.40,315.20 H510.00" stroke="#111" stroke-width="0.6"/>
<text x="508.10" y="316.30" font-size="3.1" text-anchor="end" fill="#222" stroke="#222" stroke-width="0.1">2.0</text>
<path d="M508.40,326.00 H510.00" stroke="#111" stroke-width="0.6"/>
<text x="508.10" y="327.10" font-size="3.1" text-anchor="end" fill="#222" stroke="#222" stroke-width="0.1">1.5</text>
<path d="M508.40,336.80 H510.00" stroke="#111" stroke-width="0.6"/>
<text x="508.10" y="337.90" font-size="3.1" text-anchor="end" fill="#222" stroke="#222" stroke-width="0.1">1.0</text>
<path d="M508.40,347.60 H510.00" stroke="#111" stroke-width="0.6"/>
<text x="508.10" y="348.70" font-size="3.1" text-anchor="end" fill="#222" stroke="#222" stroke-width="0.1">0.5</text>
<path d="M510.00,347.60 V349.30" stroke="#111" stroke-width="0.6"/>
<text x="510.00" y="352.70" font-size="3.1" text-anchor="middle" fill="#222" stroke="#222" stroke-width="0.1">0</text>
<path d="M519.47,347.60 V349.30" stroke="#111" stroke-width="0.6"/>
<text x="519.47" y="352.70" font-size="3.1" text-anchor="middle" fill="#222" stroke="#222" stroke-width="0.1">2</text>
<path d="M528.93,347.60 V349.30" stroke="#111" stroke-width="0.6"/>
<text x="528.93" y="352.70" font-size="3.1" text-anchor="middle" fill="#222" stroke="#222" stroke-width="0.1">4</text>
<path d="M538.40,347.60 V349.30" stroke="#111" stroke-width="0.6"/>
<text x="538.40" y="352.70" font-size="3.1" text-anchor="middle" fill="#222" stroke="#222" stroke-width="0.1">6</text>
<text x="524.20" y="362.20" font-size="3.55" text-anchor="middle" fill="#222" stroke="#222" stroke-width="0.1">Time (h)</text>
<path d="M510.00,336.90 L512.37,321.90 L519.47,309.90 L538.40,311.40" stroke="#1a1a1a" stroke-width="0.8" stroke-dasharray="1,1" fill="none"/>
<circle cx="510.00" cy="336.90" r="1.0" fill="#111"/>
<path d="M512.37,318.70 V325.70 M511.27,318.70 H513.47 M511.27,325.70 H513.47" stroke="#222" stroke-width="0.7"/>
<circle cx="512.37" cy="321.90" r="1.0" fill="#111"/>
<path d="M519.47,305.80 V314.60 M518.37,305.80 H520.57 M518.37,314.60 H520.57" stroke="#222" stroke-width="0.7"/>
<circle cx="519.47" cy="309.90" r="1.0" fill="#111"/>
<path d="M538.40,309.20 V314.00 M537.30,309.20 H539.50 M537.30,314.00 H539.50" stroke="#222" stroke-width="0.7"/>
<circle cx="538.40" cy="311.40" r="1.0" fill="#111"/>
<text x="571.40" y="298.90" font-size="4.1" text-anchor="middle" fill="#222" stroke="#222" stroke-width="0.1">EPHA (pY791)</text>
<path d="M556.80,304.40 V347.60 H585.50" stroke="#111" stroke-width="1.15" fill="none"/>
<path d="M555.20,304.40 H556.80" stroke="#111" stroke-width="0.6"/>
<text x="554.90" y="305.50" font-size="3.1" text-anchor="end" fill="#222" stroke="#222" stroke-width="0.1">3.0</text>
<path d="M555.20,313.04 H556.80" stroke="#111" stroke-width="0.6"/>
<text x="554.90" y="314.14" font-size="3.1" text-anchor="end" fill="#222" stroke="#222" stroke-width="0.1">2.5</text>
<path d="M555.20,321.68 H556.80" stroke="#111" stroke-width="0.6"/>
<text x="554.90" y="322.78" font-size="3.1" text-anchor="end" fill="#222" stroke="#222" stroke-width="0.1">2.0</text>
<path d="M555.20,330.32 H556.80" stroke="#111" stroke-width="0.6"/>
<text x="554.90" y="331.42" font-size="3.1" text-anchor="end" fill="#222" stroke="#222" stroke-width="0.1">1.5</text>
<path d="M555.20,338.96 H556.80" stroke="#111" stroke-width="0.6"/>
<text x="554.90" y="340.06" font-size="3.1" text-anchor="end" fill="#222" stroke="#222" stroke-width="0.1">1.0</text>
<path d="M555.20,347.60 H556.80" stroke="#111" stroke-width="0.6"/>
<text x="554.90" y="348.70" font-size="3.1" text-anchor="end" fill="#222" stroke="#222" stroke-width="0.1">0.5</text>
<path d="M556.80,347.60 V349.30" stroke="#111" stroke-width="0.6"/>
<text x="556.80" y="352.70" font-size="3.1" text-anchor="middle" fill="#222" stroke="#222" stroke-width="0.1">0</text>
<path d="M566.37,347.60 V349.30" stroke="#111" stroke-width="0.6"/>
<text x="566.37" y="352.70" font-size="3.1" text-anchor="middle" fill="#222" stroke="#222" stroke-width="0.1">2</text>
<path d="M575.93,347.60 V349.30" stroke="#111" stroke-width="0.6"/>
<text x="575.93" y="352.70" font-size="3.1" text-anchor="middle" fill="#222" stroke="#222" stroke-width="0.1">4</text>
<path d="M585.50,347.60 V349.30" stroke="#111" stroke-width="0.6"/>
<text x="585.50" y="352.70" font-size="3.1" text-anchor="middle" fill="#222" stroke="#222" stroke-width="0.1">6</text>
<text x="571.15" y="362.20" font-size="3.55" text-anchor="middle" fill="#222" stroke="#222" stroke-width="0.1">Time (h)</text>
<path d="M556.80,339.10 L559.19,322.70 L566.37,317.50 L585.50,314.00" stroke="#1a1a1a" stroke-width="0.8" stroke-dasharray="1,1" fill="none"/>
<circle cx="556.80" cy="339.10" r="1.0" fill="#111"/>
<path d="M559.19,319.00 V326.20 M558.09,319.00 H560.29 M558.09,326.20 H560.29" stroke="#222" stroke-width="0.7"/>
<circle cx="559.19" cy="322.70" r="1.0" fill="#111"/>
<path d="M566.37,311.60 V323.30 M565.27,311.60 H567.47 M565.27,323.30 H567.47" stroke="#222" stroke-width="0.7"/>
<circle cx="566.37" cy="317.50" r="1.0" fill="#111"/>
<path d="M585.50,307.30 V320.40 M584.40,307.30 H586.60 M584.40,320.40 H586.60" stroke="#222" stroke-width="0.7"/>
<circle cx="585.50" cy="314.00" r="1.0" fill="#111"/>
<text x="618.10" y="298.90" font-size="4.1" text-anchor="middle" fill="#222" stroke="#222" stroke-width="0.1">MAPK14 (pY182)</text>
<path d="M603.90,304.40 V347.60 H632.70" stroke="#111" stroke-width="1.15" fill="none"/>
<path d="M602.30,304.40 H603.90" stroke="#111" stroke-width="0.6"/>
<text x="602.00" y="305.50" font-size="3.1" text-anchor="end" fill="#222" stroke="#222" stroke-width="0.1">3.0</text>
<path d="M602.30,313.04 H603.90" stroke="#111" stroke-width="0.6"/>
<text x="602.00" y="314.14" font-size="3.1" text-anchor="end" fill="#222" stroke="#222" stroke-width="0.1">2.5</text>
<path d="M602.30,321.68 H603.90" stroke="#111" stroke-width="0.6"/>
<text x="602.00" y="322.78" font-size="3.1" text-anchor="end" fill="#222" stroke="#222" stroke-width="0.1">2.0</text>
<path d="M602.30,330.32 H603.90" stroke="#111" stroke-width="0.6"/>
<text x="602.00" y="331.42" font-size="3.1" text-anchor="end" fill="#222" stroke="#222" stroke-width="0.1">1.5</text>
<path d="M602.30,338.96 H603.90" stroke="#111" stroke-width="0.6"/>
<text x="602.00" y="340.06" font-size="3.1" text-anchor="end" fill="#222" stroke="#222" stroke-width="0.1">1.0</text>
<path d="M602.30,347.60 H603.90" stroke="#111" stroke-width="0.6"/>
<text x="602.00" y="348.70" font-size="3.1" text-anchor="end" fill="#222" stroke="#222" stroke-width="0.1">0.5</text>
<path d="M603.90,347.60 V349.30" stroke="#111" stroke-width="0.6"/>
<text x="603.90" y="352.70" font-size="3.1" text-anchor="middle" fill="#222" stroke="#222" stroke-width="0.1">0</text>
<path d="M613.50,347.60 V349.30" stroke="#111" stroke-width="0.6"/>
<text x="613.50" y="352.70" font-size="3.1" text-anchor="middle" fill="#222" stroke="#222" stroke-width="0.1">2</text>
<path d="M623.10,347.60 V349.30" stroke="#111" stroke-width="0.6"/>
<text x="623.10" y="352.70" font-size="3.1" text-anchor="middle" fill="#222" stroke="#222" stroke-width="0.1">4</text>
<path d="M632.70,347.60 V349.30" stroke="#111" stroke-width="0.6"/>
<text x="632.70" y="352.70" font-size="3.1" text-anchor="middle" fill="#222" stroke="#222" stroke-width="0.1">6</text>
<text x="618.30" y="362.20" font-size="3.55" text-anchor="middle" fill="#222" stroke="#222" stroke-width="0.1">Time (h)</text>
<path d="M603.90,336.90 L606.30,328.60 L613.50,311.10 L632.70,312.50" stroke="#1a1a1a" stroke-width="0.8" stroke-dasharray="1,1" fill="none"/>
<circle cx="603.90" cy="336.90" r="1.0" fill="#111"/>
<path d="M606.30,323.80 V334.40 M605.20,323.80 H607.40 M605.20,334.40 H607.40" stroke="#222" stroke-width="0.7"/>
<circle cx="606.30" cy="328.60" r="1.0" fill="#111"/>
<path d="M613.50,307.30 V315.40 M612.40,307.30 H614.60 M612.40,315.40 H614.60" stroke="#222" stroke-width="0.7"/>
<circle cx="613.50" cy="311.10" r="1.0" fill="#111"/>
<path d="M632.70,304.40 V321.30 M631.60,304.40 H633.80 M631.60,321.30 H633.80" stroke="#222" stroke-width="0.7"/>
<circle cx="632.70" cy="312.50" r="1.0" fill="#111"/>
<text x="667.50" y="298.90" font-size="4.1" text-anchor="middle" fill="#222" stroke="#222" stroke-width="0.1">SHC1 (pY427)</text>
<path d="M653.50,304.20 V347.80 H682.00" stroke="#111" stroke-width="1.15" fill="none"/>
<path d="M651.90,304.20 H653.50" stroke="#111" stroke-width="0.6"/>
<text x="651.60" y="305.30" font-size="3.1" text-anchor="end" fill="#222" stroke="#222" stroke-width="0.1">4.0</text>
<path d="M651.90,310.43 H653.50" stroke="#111" stroke-width="0.6"/>
<text x="651.60" y="311.53" font-size="3.1" text-anchor="end" fill="#222" stroke="#222" stroke-width="0.1">3.5</text>
<path d="M651.90,316.66 H653.50" stroke="#111" stroke-width="0.6"/>
<text x="651.60" y="317.76" font-size="3.1" text-anchor="end" fill="#222" stroke="#222" stroke-width="0.1">3.0</text>
<path d="M651.90,322.89 H653.50" stroke="#111" stroke-width="0.6"/>
<text x="651.60" y="323.99" font-size="3.1" text-anchor="end" fill="#222" stroke="#222" stroke-width="0.1">2.5</text>
<path d="M651.90,329.11 H653.50" stroke="#111" stroke-width="0.6"/>
<text x="651.60" y="330.21" font-size="3.1" text-anchor="end" fill="#222" stroke="#222" stroke-width="0.1">2.0</text>
<path d="M651.90,335.34 H653.50" stroke="#111" stroke-width="0.6"/>
<text x="651.60" y="336.44" font-size="3.1" text-anchor="end" fill="#222" stroke="#222" stroke-width="0.1">1.5</text>
<path d="M651.90,341.57 H653.50" stroke="#111" stroke-width="0.6"/>
<text x="651.60" y="342.67" font-size="3.1" text-anchor="end" fill="#222" stroke="#222" stroke-width="0.1">1.0</text>
<path d="M651.90,347.80 H653.50" stroke="#111" stroke-width="0.6"/>
<text x="651.60" y="348.90" font-size="3.1" text-anchor="end" fill="#222" stroke="#222" stroke-width="0.1">0.5</text>
<path d="M653.50,347.80 V349.50" stroke="#111" stroke-width="0.6"/>
<text x="653.50" y="352.90" font-size="3.1" text-anchor="middle" fill="#222" stroke="#222" stroke-width="0.1">0</text>
<path d="M663.00,347.80 V349.50" stroke="#111" stroke-width="0.6"/>
<text x="663.00" y="352.90" font-size="3.1" text-anchor="middle" fill="#222" stroke="#222" stroke-width="0.1">2</text>
<path d="M672.50,347.80 V349.50" stroke="#111" stroke-width="0.6"/>
<text x="672.50" y="352.90" font-size="3.1" text-anchor="middle" fill="#222" stroke="#222" stroke-width="0.1">4</text>
<path d="M682.00,347.80 V349.50" stroke="#111" stroke-width="0.6"/>
<text x="682.00" y="352.90" font-size="3.1" text-anchor="middle" fill="#222" stroke="#222" stroke-width="0.1">6</text>
<text x="667.75" y="362.20" font-size="3.55" text-anchor="middle" fill="#222" stroke="#222" stroke-width="0.1">Time (h)</text>
<path d="M653.50,336.00 L655.88,322.10 L663.00,316.20 L682.00,315.40" stroke="#1a1a1a" stroke-width="0.8" stroke-dasharray="1,1" fill="none"/>
<circle cx="653.50" cy="336.00" r="1.0" fill="#111"/>
<path d="M655.88,319.30 V325.50 M654.77,319.30 H656.98 M654.77,325.50 H656.98" stroke="#222" stroke-width="0.7"/>
<circle cx="655.88" cy="322.10" r="1.0" fill="#111"/>
<path d="M663.00,312.80 V319.90 M661.90,312.80 H664.10 M661.90,319.90 H664.10" stroke="#222" stroke-width="0.7"/>
<circle cx="663.00" cy="316.20" r="1.0" fill="#111"/>
<path d="M682.00,310.10 V321.00 M680.90,310.10 H683.10 M680.90,321.00 H683.10" stroke="#222" stroke-width="0.7"/>
<circle cx="682.00" cy="315.40" r="1.0" fill="#111"/>
<text x="474.90" y="378.20" font-size="4.1" text-anchor="middle" fill="#222" stroke="#222" stroke-width="0.1">G6PD (pY112)</text>
<path d="M460.80,383.80 V426.70 H489.50" stroke="#111" stroke-width="1.15" fill="none"/>
<path d="M459.20,383.80 H460.80" stroke="#111" stroke-width="0.6"/>
<text x="458.90" y="384.90" font-size="3.1" text-anchor="end" fill="#222" stroke="#222" stroke-width="0.1">2.0</text>
<path d="M459.20,398.10 H460.80" stroke="#111" stroke-width="0.6"/>
<text x="458.90" y="399.20" font-size="3.1" text-anchor="end" fill="#222" stroke="#222" stroke-width="0.1">1.5</text>
<path d="M459.20,412.40 H460.80" stroke="#111" stroke-width="0.6"/>
<text x="458.90" y="413.50" font-size="3.1" text-anchor="end" fill="#222" stroke="#222" stroke-width="0.1">1.0</text>
<path d="M459.20,426.70 H460.80" stroke="#111" stroke-width="0.6"/>
<text x="458.90" y="427.80" font-size="3.1" text-anchor="end" fill="#222" stroke="#222" stroke-width="0.1">0.5</text>
<path d="M460.80,426.70 V428.40" stroke="#111" stroke-width="0.6"/>
<text x="460.80" y="431.80" font-size="3.1" text-anchor="middle" fill="#222" stroke="#222" stroke-width="0.1">0</text>
<path d="M470.37,426.70 V428.40" stroke="#111" stroke-width="0.6"/>
<text x="470.37" y="431.80" font-size="3.1" text-anchor="middle" fill="#222" stroke="#222" stroke-width="0.1">2</text>
<path d="M479.93,426.70 V428.40" stroke="#111" stroke-width="0.6"/>
<text x="479.93" y="431.80" font-size="3.1" text-anchor="middle" fill="#222" stroke="#222" stroke-width="0.1">4</text>
<path d="M489.50,426.70 V428.40" stroke="#111" stroke-width="0.6"/>
<text x="489.50" y="431.80" font-size="3.1" text-anchor="middle" fill="#222" stroke="#222" stroke-width="0.1">6</text>
<text x="475.15" y="441.10" font-size="3.55" text-anchor="middle" fill="#222" stroke="#222" stroke-width="0.1">Time (h)</text>
<path d="M460.80,412.50 L463.19,419.80 L470.37,398.70 L489.50,396.00" stroke="#1a1a1a" stroke-width="0.8" stroke-dasharray="1,1" fill="none"/>
<circle cx="460.80" cy="412.50" r="1.0" fill="#111"/>
<path d="M463.19,415.40 V424.20 M462.09,415.40 H464.29 M462.09,424.20 H464.29" stroke="#222" stroke-width="0.7"/>
<circle cx="463.19" cy="419.80" r="1.0" fill="#111"/>
<path d="M470.37,395.40 V401.90 M469.27,395.40 H471.47 M469.27,401.90 H471.47" stroke="#222" stroke-width="0.7"/>
<circle cx="470.37" cy="398.70" r="1.0" fill="#111"/>
<path d="M489.50,394.80 V397.20 M488.40,394.80 H490.60 M488.40,397.20 H490.60" stroke="#222" stroke-width="0.7"/>
<circle cx="489.50" cy="396.00" r="1.0" fill="#111"/>
<text x="523.10" y="378.90" font-size="4.1" text-anchor="middle" fill="#222" stroke="#222" stroke-width="0.1">DYRK4/2 (pY264/pY382)</text>
<path d="M510.00,384.10 V426.70 H538.10" stroke="#111" stroke-width="1.15" fill="none"/>
<path d="M508.40,384.10 H510.00" stroke="#111" stroke-width="0.6"/>
<text x="508.10" y="385.20" font-size="3.1" text-anchor="end" fill="#222" stroke="#222" stroke-width="0.1">2.0</text>
<path d="M508.40,398.30 H510.00" stroke="#111" stroke-width="0.6"/>
<text x="508.10" y="399.40" font-size="3.1" text-anchor="end" fill="#222" stroke="#222" stroke-width="0.1">1.5</text>
<path d="M508.40,412.50 H510.00" stroke="#111" stroke-width="0.6"/>
<text x="508.10" y="413.60" font-size="3.1" text-anchor="end" fill="#222" stroke="#222" stroke-width="0.1">1.0</text>
<path d="M508.40,426.70 H510.00" stroke="#111" stroke-width="0.6"/>
<text x="508.10" y="427.80" font-size="3.1" text-anchor="end" fill="#222" stroke="#222" stroke-width="0.1">0.5</text>
<path d="M510.00,426.70 V428.40" stroke="#111" stroke-width="0.6"/>
<text x="510.00" y="431.80" font-size="3.1" text-anchor="middle" fill="#222" stroke="#222" stroke-width="0.1">0</text>
<path d="M519.37,426.70 V428.40" stroke="#111" stroke-width="0.6"/>
<text x="519.37" y="431.80" font-size="3.1" text-anchor="middle" fill="#222" stroke="#222" stroke-width="0.1">2</text>
<path d="M528.73,426.70 V428.40" stroke="#111" stroke-width="0.6"/>
<text x="528.73" y="431.80" font-size="3.1" text-anchor="middle" fill="#222" stroke="#222" stroke-width="0.1">4</text>
<path d="M538.10,426.70 V428.40" stroke="#111" stroke-width="0.6"/>
<text x="538.10" y="431.80" font-size="3.1" text-anchor="middle" fill="#222" stroke="#222" stroke-width="0.1">6</text>
<text x="524.05" y="441.10" font-size="3.55" text-anchor="middle" fill="#222" stroke="#222" stroke-width="0.1">Time (h)</text>
<path d="M510.00,412.50 L512.34,405.20 L519.37,404.50 L538.10,399.40" stroke="#1a1a1a" stroke-width="0.8" stroke-dasharray="1,1" fill="none"/>
<circle cx="510.00" cy="412.50" r="1.0" fill="#111"/>
<path d="M512.34,400.40 V410.60 M511.24,400.40 H513.44 M511.24,410.60 H513.44" stroke="#222" stroke-width="0.7"/>
<circle cx="512.34" cy="405.20" r="1.0" fill="#111"/>
<path d="M519.37,402.30 V407.10 M518.27,402.30 H520.47 M518.27,407.10 H520.47" stroke="#222" stroke-width="0.7"/>
<circle cx="519.37" cy="404.50" r="1.0" fill="#111"/>
<path d="M538.10,398.20 V400.60 M537.00,398.20 H539.20 M537.00,400.60 H539.20" stroke="#222" stroke-width="0.7"/>
<circle cx="538.10" cy="399.40" r="1.0" fill="#111"/>
<text x="570.70" y="377.90" font-size="4.1" text-anchor="middle" fill="#222" stroke="#222" stroke-width="0.1">RAD54L (pY538 or 540)</text>
<path d="M556.80,383.80 V426.70 H585.50" stroke="#111" stroke-width="1.15" fill="none"/>
<path d="M555.20,383.80 H556.80" stroke="#111" stroke-width="0.6"/>
<text x="554.90" y="384.90" font-size="3.1" text-anchor="end" fill="#222" stroke="#222" stroke-width="0.1">2.0</text>
<path d="M555.20,398.10 H556.80" stroke="#111" stroke-width="0.6"/>
<text x="554.90" y="399.20" font-size="3.1" text-anchor="end" fill="#222" stroke="#222" stroke-width="0.1">1.5</text>
<path d="M555.20,412.40 H556.80" stroke="#111" stroke-width="0.6"/>
<text x="554.90" y="413.50" font-size="3.1" text-anchor="end" fill="#222" stroke="#222" stroke-width="0.1">1.0</text>
<path d="M555.20,426.70 H556.80" stroke="#111" stroke-width="0.6"/>
<text x="554.90" y="427.80" font-size="3.1" text-anchor="end" fill="#222" stroke="#222" stroke-width="0.1">0.5</text>
<path d="M556.80,426.70 V428.40" stroke="#111" stroke-width="0.6"/>
<text x="556.80" y="431.80" font-size="3.1" text-anchor="middle" fill="#222" stroke="#222" stroke-width="0.1">0</text>
<path d="M566.37,426.70 V428.40" stroke="#111" stroke-width="0.6"/>
<text x="566.37" y="431.80" font-size="3.1" text-anchor="middle" fill="#222" stroke="#222" stroke-width="0.1">2</text>
<path d="M575.93,426.70 V428.40" stroke="#111" stroke-width="0.6"/>
<text x="575.93" y="431.80" font-size="3.1" text-anchor="middle" fill="#222" stroke="#222" stroke-width="0.1">4</text>
<path d="M585.50,426.70 V428.40" stroke="#111" stroke-width="0.6"/>
<text x="585.50" y="431.80" font-size="3.1" text-anchor="middle" fill="#222" stroke="#222" stroke-width="0.1">6</text>
<text x="571.15" y="441.10" font-size="3.55" text-anchor="middle" fill="#222" stroke="#222" stroke-width="0.1">Time (h)</text>
<path d="M556.80,412.50 L559.19,401.30 L566.37,397.20 L585.50,399.80" stroke="#1a1a1a" stroke-width="0.8" stroke-dasharray="1,1" fill="none"/>
<circle cx="556.80" cy="412.50" r="1.0" fill="#111"/>
<circle cx="559.19" cy="401.30" r="1.0" fill="#111"/>
<path d="M566.37,394.60 V399.80 M565.27,394.60 H567.47 M565.27,399.80 H567.47" stroke="#222" stroke-width="0.7"/>
<circle cx="566.37" cy="397.20" r="1.0" fill="#111"/>
<path d="M585.50,397.20 V402.70 M584.40,397.20 H586.60 M584.40,402.70 H586.60" stroke="#222" stroke-width="0.7"/>
<circle cx="585.50" cy="399.80" r="1.0" fill="#111"/>
<text x="618.10" y="379.30" font-size="4.1" text-anchor="middle" fill="#222" stroke="#222" stroke-width="0.1">EEF1A1/A2/A1P5 (pY254)</text>
<path d="M603.90,384.40 V426.70 H631.70" stroke="#111" stroke-width="1.15" fill="none"/>
<path d="M602.30,384.40 H603.90" stroke="#111" stroke-width="0.6"/>
<text x="602.00" y="385.50" font-size="3.1" text-anchor="end" fill="#222" stroke="#222" stroke-width="0.1">2.0</text>
<path d="M602.30,398.50 H603.90" stroke="#111" stroke-width="0.6"/>
<text x="602.00" y="399.60" font-size="3.1" text-anchor="end" fill="#222" stroke="#222" stroke-width="0.1">1.5</text>
<path d="M602.30,412.60 H603.90" stroke="#111" stroke-width="0.6"/>
<text x="602.00" y="413.70" font-size="3.1" text-anchor="end" fill="#222" stroke="#222" stroke-width="0.1">1.0</text>
<path d="M602.30,426.70 H603.90" stroke="#111" stroke-width="0.6"/>
<text x="602.00" y="427.80" font-size="3.1" text-anchor="end" fill="#222" stroke="#222" stroke-width="0.1">0.5</text>
<path d="M603.90,426.70 V428.40" stroke="#111" stroke-width="0.6"/>
<text x="603.90" y="431.80" font-size="3.1" text-anchor="middle" fill="#222" stroke="#222" stroke-width="0.1">0</text>
<path d="M613.17,426.70 V428.40" stroke="#111" stroke-width="0.6"/>
<text x="613.17" y="431.80" font-size="3.1" text-anchor="middle" fill="#222" stroke="#222" stroke-width="0.1">2</text>
<path d="M622.43,426.70 V428.40" stroke="#111" stroke-width="0.6"/>
<text x="622.43" y="431.80" font-size="3.1" text-anchor="middle" fill="#222" stroke="#222" stroke-width="0.1">4</text>
<path d="M631.70,426.70 V428.40" stroke="#111" stroke-width="0.6"/>
<text x="631.70" y="431.80" font-size="3.1" text-anchor="middle" fill="#222" stroke="#222" stroke-width="0.1">6</text>
<text x="617.80" y="441.10" font-size="3.55" text-anchor="middle" fill="#222" stroke="#222" stroke-width="0.1">Time (h)</text>
<path d="M603.90,412.50 L606.22,399.40 L613.17,403.00 L631.70,400.10" stroke="#1a1a1a" stroke-width="0.8" stroke-dasharray="1,1" fill="none"/>
<circle cx="603.90" cy="412.50" r="1.0" fill="#111"/>
<path d="M606.22,396.00 V402.70 M605.12,396.00 H607.32 M605.12,402.70 H607.32" stroke="#222" stroke-width="0.7"/>
<circle cx="606.22" cy="399.40" r="1.0" fill="#111"/>
<path d="M613.17,397.20 V409.60 M612.07,397.20 H614.27 M612.07,409.60 H614.27" stroke="#222" stroke-width="0.7"/>
<circle cx="613.17" cy="403.00" r="1.0" fill="#111"/>
<circle cx="631.70" cy="400.10" r="1.0" fill="#111"/>
<text x="667.50" y="378.10" font-size="4.1" text-anchor="middle" fill="#222" stroke="#222" stroke-width="0.1">PAM16 (pY93)</text>
<path d="M652.90,383.70 V426.70 H681.60" stroke="#111" stroke-width="1.15" fill="none"/>
<path d="M651.30,383.70 H652.90" stroke="#111" stroke-width="0.6"/>
<text x="651.00" y="384.80" font-size="3.1" text-anchor="end" fill="#222" stroke="#222" stroke-width="0.1">4</text>
<path d="M651.30,394.45 H652.90" stroke="#111" stroke-width="0.6"/>
<text x="651.00" y="395.55" font-size="3.1" text-anchor="end" fill="#222" stroke="#222" stroke-width="0.1">3</text>
<path d="M651.30,405.20 H652.90" stroke="#111" stroke-width="0.6"/>
<text x="651.00" y="406.30" font-size="3.1" text-anchor="end" fill="#222" stroke="#222" stroke-width="0.1">2</text>
<path d="M651.30,415.95 H652.90" stroke="#111" stroke-width="0.6"/>
<text x="651.00" y="417.05" font-size="3.1" text-anchor="end" fill="#222" stroke="#222" stroke-width="0.1">1</text>
<path d="M651.30,426.70 H652.90" stroke="#111" stroke-width="0.6"/>
<text x="651.00" y="427.80" font-size="3.1" text-anchor="end" fill="#222" stroke="#222" stroke-width="0.1">0</text>
<path d="M652.90,426.70 V428.40" stroke="#111" stroke-width="0.6"/>
<text x="652.90" y="431.80" font-size="3.1" text-anchor="middle" fill="#222" stroke="#222" stroke-width="0.1">0</text>
<path d="M662.47,426.70 V428.40" stroke="#111" stroke-width="0.6"/>
<text x="662.47" y="431.80" font-size="3.1" text-anchor="middle" fill="#222" stroke="#222" stroke-width="0.1">2</text>
<path d="M672.03,426.70 V428.40" stroke="#111" stroke-width="0.6"/>
<text x="672.03" y="431.80" font-size="3.1" text-anchor="middle" fill="#222" stroke="#222" stroke-width="0.1">4</text>
<path d="M681.60,426.70 V428.40" stroke="#111" stroke-width="0.6"/>
<text x="681.60" y="431.80" font-size="3.1" text-anchor="middle" fill="#222" stroke="#222" stroke-width="0.1">6</text>
<text x="667.25" y="441.10" font-size="3.55" text-anchor="middle" fill="#222" stroke="#222" stroke-width="0.1">Time (h)</text>
<path d="M652.90,416.10 L655.29,402.10 L662.47,406.60 L681.60,398.00" stroke="#1a1a1a" stroke-width="0.8" stroke-dasharray="1,1" fill="none"/>
<circle cx="652.90" cy="416.10" r="1.0" fill="#111"/>
<path d="M655.29,394.80 V409.60 M654.19,394.80 H656.39 M654.19,409.60 H656.39" stroke="#222" stroke-width="0.7"/>
<circle cx="655.29" cy="402.10" r="1.0" fill="#111"/>
<path d="M662.47,396.20 V417.70 M661.37,396.20 H663.57 M661.37,417.70 H663.57" stroke="#222" stroke-width="0.7"/>
<circle cx="662.47" cy="406.60" r="1.0" fill="#111"/>
<path d="M681.60,393.20 V402.40 M680.50,393.20 H682.70 M680.50,402.40 H682.70" stroke="#222" stroke-width="0.7"/>
<circle cx="681.60" cy="398.00" r="1.0" fill="#111"/>
<text x="474.20" y="464.40" font-size="4.1" text-anchor="middle" fill="#222" stroke="#222" stroke-width="0.1">FHL1 (pY207)</text>
<path d="M459.60,470.20 V513.60 H488.50" stroke="#111" stroke-width="1.15" fill="none"/>
<path d="M458.00,470.20 H459.60" stroke="#111" stroke-width="0.6"/>
<text x="457.70" y="471.30" font-size="3.1" text-anchor="end" fill="#222" stroke="#222" stroke-width="0.1">3.0</text>
<path d="M458.00,477.43 H459.60" stroke="#111" stroke-width="0.6"/>
<text x="457.70" y="478.53" font-size="3.1" text-anchor="end" fill="#222" stroke="#222" stroke-width="0.1">2.5</text>
<path d="M458.00,484.67 H459.60" stroke="#111" stroke-width="0.6"/>
<text x="457.70" y="485.77" font-size="3.1" text-anchor="end" fill="#222" stroke="#222" stroke-width="0.1">2.0</text>
<path d="M458.00,491.90 H459.60" stroke="#111" stroke-width="0.6"/>
<text x="457.70" y="493.00" font-size="3.1" text-anchor="end" fill="#222" stroke="#222" stroke-width="0.1">1.5</text>
<path d="M458.00,499.13 H459.60" stroke="#111" stroke-width="0.6"/>
<text x="457.70" y="500.23" font-size="3.1" text-anchor="end" fill="#222" stroke="#222" stroke-width="0.1">1.0</text>
<path d="M458.00,506.37 H459.60" stroke="#111" stroke-width="0.6"/>
<text x="457.70" y="507.47" font-size="3.1" text-anchor="end" fill="#222" stroke="#222" stroke-width="0.1">0.5</text>
<path d="M458.00,513.60 H459.60" stroke="#111" stroke-width="0.6"/>
<text x="457.70" y="514.70" font-size="3.1" text-anchor="end" fill="#222" stroke="#222" stroke-width="0.1">0.0</text>
<path d="M459.60,513.60 V515.30" stroke="#111" stroke-width="0.6"/>
<text x="459.60" y="518.70" font-size="3.1" text-anchor="middle" fill="#222" stroke="#222" stroke-width="0.1">0</text>
<path d="M469.23,513.60 V515.30" stroke="#111" stroke-width="0.6"/>
<text x="469.23" y="518.70" font-size="3.1" text-anchor="middle" fill="#222" stroke="#222" stroke-width="0.1">2</text>
<path d="M478.87,513.60 V515.30" stroke="#111" stroke-width="0.6"/>
<text x="478.87" y="518.70" font-size="3.1" text-anchor="middle" fill="#222" stroke="#222" stroke-width="0.1">4</text>
<path d="M488.50,513.60 V515.30" stroke="#111" stroke-width="0.6"/>
<text x="488.50" y="518.70" font-size="3.1" text-anchor="middle" fill="#222" stroke="#222" stroke-width="0.1">6</text>
<text x="474.05" y="527.80" font-size="3.55" text-anchor="middle" fill="#222" stroke="#222" stroke-width="0.1">Time (h)</text>
<path d="M459.60,506.00 L462.01,503.80 L469.23,486.70 L488.50,471.00" stroke="#1a1a1a" stroke-width="0.8" stroke-dasharray="1,1" fill="none"/>
<circle cx="459.60" cy="506.00" r="1.0" fill="#111"/>
<path d="M462.01,502.40 V506.30 M460.91,502.40 H463.11 M460.91,506.30 H463.11" stroke="#222" stroke-width="0.7"/>
<circle cx="462.01" cy="503.80" r="1.0" fill="#111"/>
<circle cx="469.23" cy="486.70" r="1.0" fill="#111"/>
<circle cx="488.50" cy="471.00" r="1.0" fill="#111"/>
<text x="523.80" y="464.40" font-size="4.1" text-anchor="middle" fill="#222" stroke="#222" stroke-width="0.1">ABL1 (pY253)</text>
<path d="M509.20,469.80 V513.60 H538.10" stroke="#111" stroke-width="1.15" fill="none"/>
<path d="M507.60,469.80 H509.20" stroke="#111" stroke-width="0.6"/>
<text x="507.30" y="470.90" font-size="3.1" text-anchor="end" fill="#222" stroke="#222" stroke-width="0.1">10</text>
<path d="M507.60,474.18 H509.20" stroke="#111" stroke-width="0.6"/>
<text x="507.30" y="475.28" font-size="3.1" text-anchor="end" fill="#222" stroke="#222" stroke-width="0.1">9</text>
<path d="M507.60,478.56 H509.20" stroke="#111" stroke-width="0.6"/>
<text x="507.30" y="479.66" font-size="3.1" text-anchor="end" fill="#222" stroke="#222" stroke-width="0.1">8</text>
<path d="M507.60,482.94 H509.20" stroke="#111" stroke-width="0.6"/>
<text x="507.30" y="484.04" font-size="3.1" text-anchor="end" fill="#222" stroke="#222" stroke-width="0.1">7</text>
<path d="M507.60,487.32 H509.20" stroke="#111" stroke-width="0.6"/>
<text x="507.30" y="488.42" font-size="3.1" text-anchor="end" fill="#222" stroke="#222" stroke-width="0.1">6</text>
<path d="M507.60,491.70 H509.20" stroke="#111" stroke-width="0.6"/>
<text x="507.30" y="492.80" font-size="3.1" text-anchor="end" fill="#222" stroke="#222" stroke-width="0.1">5</text>
<path d="M507.60,496.08 H509.20" stroke="#111" stroke-width="0.6"/>
<text x="507.30" y="497.18" font-size="3.1" text-anchor="end" fill="#222" stroke="#222" stroke-width="0.1">4</text>
<path d="M507.60,500.46 H509.20" stroke="#111" stroke-width="0.6"/>
<text x="507.30" y="501.56" font-size="3.1" text-anchor="end" fill="#222" stroke="#222" stroke-width="0.1">3</text>
<path d="M507.60,504.84 H509.20" stroke="#111" stroke-width="0.6"/>
<text x="507.30" y="505.94" font-size="3.1" text-anchor="end" fill="#222" stroke="#222" stroke-width="0.1">2</text>
<path d="M507.60,509.22 H509.20" stroke="#111" stroke-width="0.6"/>
<text x="507.30" y="510.32" font-size="3.1" text-anchor="end" fill="#222" stroke="#222" stroke-width="0.1">1</text>
<path d="M507.60,513.60 H509.20" stroke="#111" stroke-width="0.6"/>
<text x="507.30" y="514.70" font-size="3.1" text-anchor="end" fill="#222" stroke="#222" stroke-width="0.1">0</text>
<path d="M509.20,513.60 V515.30" stroke="#111" stroke-width="0.6"/>
<text x="509.20" y="518.70" font-size="3.1" text-anchor="middle" fill="#222" stroke="#222" stroke-width="0.1">0</text>
<path d="M518.83,513.60 V515.30" stroke="#111" stroke-width="0.6"/>
<text x="518.83" y="518.70" font-size="3.1" text-anchor="middle" fill="#222" stroke="#222" stroke-width="0.1">2</text>
<path d="M528.47,513.60 V515.30" stroke="#111" stroke-width="0.6"/>
<text x="528.47" y="518.70" font-size="3.1" text-anchor="middle" fill="#222" stroke="#222" stroke-width="0.1">4</text>
<path d="M538.10,513.60 V515.30" stroke="#111" stroke-width="0.6"/>
<text x="538.10" y="518.70" font-size="3.1" text-anchor="middle" fill="#222" stroke="#222" stroke-width="0.1">6</text>
<text x="523.65" y="527.80" font-size="3.55" text-anchor="middle" fill="#222" stroke="#222" stroke-width="0.1">Time (h)</text>
<path d="M509.20,509.20 L511.61,510.70 L518.83,504.60 L538.10,472.70" stroke="#1a1a1a" stroke-width="0.8" stroke-dasharray="1,1" fill="none"/>
<circle cx="509.20" cy="509.20" r="1.0" fill="#111"/>
<circle cx="511.61" cy="510.70" r="1.0" fill="#111"/>
<path d="M518.83,501.30 V508.20 M517.73,501.30 H519.93 M517.73,508.20 H519.93" stroke="#222" stroke-width="0.7"/>
<circle cx="518.83" cy="504.60" r="1.0" fill="#111"/>
<circle cx="538.10" cy="472.70" r="1.0" fill="#111"/>
<text x="570.70" y="463.90" font-size="4.1" text-anchor="middle" fill="#222" stroke="#222" stroke-width="0.1">HSPA1A/B (pY611)</text>
<path d="M556.80,469.80 V513.60 H585.50" stroke="#111" stroke-width="1.15" fill="none"/>
<path d="M555.20,469.80 H556.80" stroke="#111" stroke-width="0.6"/>
<text x="554.90" y="470.90" font-size="3.1" text-anchor="end" fill="#222" stroke="#222" stroke-width="0.1">200</text>
<path d="M555.20,480.75 H556.80" stroke="#111" stroke-width="0.6"/>
<text x="554.90" y="481.85" font-size="3.1" text-anchor="end" fill="#222" stroke="#222" stroke-width="0.1">150</text>
<path d="M555.20,491.70 H556.80" stroke="#111" stroke-width="0.6"/>
<text x="554.90" y="492.80" font-size="3.1" text-anchor="end" fill="#222" stroke="#222" stroke-width="0.1">100</text>
<path d="M555.20,502.65 H556.80" stroke="#111" stroke-width="0.6"/>
<text x="554.90" y="503.75" font-size="3.1" text-anchor="end" fill="#222" stroke="#222" stroke-width="0.1">50</text>
<path d="M555.20,513.60 H556.80" stroke="#111" stroke-width="0.6"/>
<text x="554.90" y="514.70" font-size="3.1" text-anchor="end" fill="#222" stroke="#222" stroke-width="0.1">0</text>
<path d="M556.80,513.60 V515.30" stroke="#111" stroke-width="0.6"/>
<text x="556.80" y="518.70" font-size="3.1" text-anchor="middle" fill="#222" stroke="#222" stroke-width="0.1">0</text>
<path d="M566.37,513.60 V515.30" stroke="#111" stroke-width="0.6"/>
<text x="566.37" y="518.70" font-size="3.1" text-anchor="middle" fill="#222" stroke="#222" stroke-width="0.1">2</text>
<path d="M575.93,513.60 V515.30" stroke="#111" stroke-width="0.6"/>
<text x="575.93" y="518.70" font-size="3.1" text-anchor="middle" fill="#222" stroke="#222" stroke-width="0.1">4</text>
<path d="M585.50,513.60 V515.30" stroke="#111" stroke-width="0.6"/>
<text x="585.50" y="518.70" font-size="3.1" text-anchor="middle" fill="#222" stroke="#222" stroke-width="0.1">6</text>
<text x="571.15" y="527.80" font-size="3.55" text-anchor="middle" fill="#222" stroke="#222" stroke-width="0.1">Time (h)</text>
<path d="M556.80,512.00 L559.19,510.70 L566.37,498.00 L585.50,474.60" stroke="#1a1a1a" stroke-width="0.8" stroke-dasharray="1,1" fill="none"/>
<circle cx="556.80" cy="512.00" r="1.0" fill="#111"/>
<circle cx="559.19" cy="510.70" r="1.0" fill="#111"/>
<path d="M566.37,494.60 V501.90 M565.27,494.60 H567.47 M565.27,501.90 H567.47" stroke="#222" stroke-width="0.7"/>
<circle cx="566.37" cy="498.00" r="1.0" fill="#111"/>
<circle cx="585.50" cy="474.60" r="1.0" fill="#111"/>
<text x="618.80" y="463.90" font-size="4.1" text-anchor="middle" fill="#222" stroke="#222" stroke-width="0.1">DNAJB1/4 (pY176/pY172)</text>
<path d="M603.90,469.80 V513.60 H632.30" stroke="#111" stroke-width="1.15" fill="none"/>
<path d="M602.30,469.80 H603.90" stroke="#111" stroke-width="0.6"/>
<text x="602.00" y="470.90" font-size="3.1" text-anchor="end" fill="#222" stroke="#222" stroke-width="0.1">8</text>
<path d="M602.30,480.75 H603.90" stroke="#111" stroke-width="0.6"/>
<text x="602.00" y="481.85" font-size="3.1" text-anchor="end" fill="#222" stroke="#222" stroke-width="0.1">6</text>
<path d="M602.30,491.70 H603.90" stroke="#111" stroke-width="0.6"/>
<text x="602.00" y="492.80" font-size="3.1" text-anchor="end" fill="#222" stroke="#222" stroke-width="0.1">4</text>
<path d="M602.30,502.65 H603.90" stroke="#111" stroke-width="0.6"/>
<text x="602.00" y="503.75" font-size="3.1" text-anchor="end" fill="#222" stroke="#222" stroke-width="0.1">2</text>
<path d="M602.30,513.60 H603.90" stroke="#111" stroke-width="0.6"/>
<text x="602.00" y="514.70" font-size="3.1" text-anchor="end" fill="#222" stroke="#222" stroke-width="0.1">0</text>
<path d="M603.90,513.60 V515.30" stroke="#111" stroke-width="0.6"/>
<text x="603.90" y="518.70" font-size="3.1" text-anchor="middle" fill="#222" stroke="#222" stroke-width="0.1">0</text>
<path d="M613.37,513.60 V515.30" stroke="#111" stroke-width="0.6"/>
<text x="613.37" y="518.70" font-size="3.1" text-anchor="middle" fill="#222" stroke="#222" stroke-width="0.1">2</text>
<path d="M622.83,513.60 V515.30" stroke="#111" stroke-width="0.6"/>
<text x="622.83" y="518.70" font-size="3.1" text-anchor="middle" fill="#222" stroke="#222" stroke-width="0.1">4</text>
<path d="M632.30,513.60 V515.30" stroke="#111" stroke-width="0.6"/>
<text x="632.30" y="518.70" font-size="3.1" text-anchor="middle" fill="#222" stroke="#222" stroke-width="0.1">6</text>
<text x="618.10" y="527.80" font-size="3.55" text-anchor="middle" fill="#222" stroke="#222" stroke-width="0.1">Time (h)</text>
<path d="M603.90,508.20 L606.27,508.20 L613.37,494.60 L632.30,477.10" stroke="#1a1a1a" stroke-width="0.8" stroke-dasharray="1,1" fill="none"/>
<circle cx="603.90" cy="508.20" r="1.0" fill="#111"/>
<path d="M606.27,507.00 V509.40 M605.17,507.00 H607.37 M605.17,509.40 H607.37" stroke="#222" stroke-width="0.7"/>
<circle cx="606.27" cy="508.20" r="1.0" fill="#111"/>
<path d="M613.37,490.20 V499.00 M612.27,490.20 H614.47 M612.27,499.00 H614.47" stroke="#222" stroke-width="0.7"/>
<circle cx="613.37" cy="494.60" r="1.0" fill="#111"/>
<circle cx="632.30" cy="477.10" r="1.0" fill="#111"/>
<text x="666.80" y="464.20" font-size="4.1" text-anchor="middle" fill="#222" stroke="#222" stroke-width="0.1">ABL1 (pY257)</text>
<path d="M652.40,469.90 V513.70 H681.80" stroke="#111" stroke-width="1.15" fill="none"/>
<path d="M650.80,469.90 H652.40" stroke="#111" stroke-width="0.6"/>
<text x="650.50" y="471.00" font-size="3.1" text-anchor="end" fill="#222" stroke="#222" stroke-width="0.1">12</text>
<path d="M650.80,477.20 H652.40" stroke="#111" stroke-width="0.6"/>
<text x="650.50" y="478.30" font-size="3.1" text-anchor="end" fill="#222" stroke="#222" stroke-width="0.1">10</text>
<path d="M650.80,484.50 H652.40" stroke="#111" stroke-width="0.6"/>
<text x="650.50" y="485.60" font-size="3.1" text-anchor="end" fill="#222" stroke="#222" stroke-width="0.1">8</text>
<path d="M650.80,491.80 H652.40" stroke="#111" stroke-width="0.6"/>
<text x="650.50" y="492.90" font-size="3.1" text-anchor="end" fill="#222" stroke="#222" stroke-width="0.1">6</text>
<path d="M650.80,499.10 H652.40" stroke="#111" stroke-width="0.6"/>
<text x="650.50" y="500.20" font-size="3.1" text-anchor="end" fill="#222" stroke="#222" stroke-width="0.1">4</text>
<path d="M650.80,506.40 H652.40" stroke="#111" stroke-width="0.6"/>
<text x="650.50" y="507.50" font-size="3.1" text-anchor="end" fill="#222" stroke="#222" stroke-width="0.1">2</text>
<path d="M650.80,513.70 H652.40" stroke="#111" stroke-width="0.6"/>
<text x="650.50" y="514.80" font-size="3.1" text-anchor="end" fill="#222" stroke="#222" stroke-width="0.1">0</text>
<path d="M652.40,513.70 V515.40" stroke="#111" stroke-width="0.6"/>
<text x="652.40" y="518.80" font-size="3.1" text-anchor="middle" fill="#222" stroke="#222" stroke-width="0.1">0</text>
<path d="M662.20,513.70 V515.40" stroke="#111" stroke-width="0.6"/>
<text x="662.20" y="518.80" font-size="3.1" text-anchor="middle" fill="#222" stroke="#222" stroke-width="0.1">2</text>
<path d="M672.00,513.70 V515.40" stroke="#111" stroke-width="0.6"/>
<text x="672.00" y="518.80" font-size="3.1" text-anchor="middle" fill="#222" stroke="#222" stroke-width="0.1">4</text>
<path d="M681.80,513.70 V515.40" stroke="#111" stroke-width="0.6"/>
<text x="681.80" y="518.80" font-size="3.1" text-anchor="middle" fill="#222" stroke="#222" stroke-width="0.1">6</text>
<text x="667.10" y="527.80" font-size="3.55" text-anchor="middle" fill="#222" stroke="#222" stroke-width="0.1">Time (h)</text>
<path d="M652.40,510.00 L654.85,508.80 L662.20,502.70 L681.80,477.10" stroke="#1a1a1a" stroke-width="0.8" stroke-dasharray="1,1" fill="none"/>
<circle cx="652.40" cy="510.00" r="1.0" fill="#111"/>
<circle cx="654.85" cy="508.80" r="1.0" fill="#111"/>
<circle cx="662.20" cy="502.70" r="1.0" fill="#111"/>
<circle cx="681.80" cy="477.10" r="1.0" fill="#111"/>
<text x="474.20" y="541.40" font-size="4.1" text-anchor="middle" fill="#222" stroke="#222" stroke-width="0.1">HNRNPA0 (pY180)</text>
<path d="M459.60,547.30 V590.40 H488.50" stroke="#111" stroke-width="1.15" fill="none"/>
<path d="M458.00,547.30 H459.60" stroke="#111" stroke-width="0.6"/>
<text x="457.70" y="548.40" font-size="3.1" text-anchor="end" fill="#222" stroke="#222" stroke-width="0.1">10</text>
<path d="M458.00,555.92 H459.60" stroke="#111" stroke-width="0.6"/>
<text x="457.70" y="557.02" font-size="3.1" text-anchor="end" fill="#222" stroke="#222" stroke-width="0.1">8</text>
<path d="M458.00,564.54 H459.60" stroke="#111" stroke-width="0.6"/>
<text x="457.70" y="565.64" font-size="3.1" text-anchor="end" fill="#222" stroke="#222" stroke-width="0.1">6</text>
<path d="M458.00,573.16 H459.60" stroke="#111" stroke-width="0.6"/>
<text x="457.70" y="574.26" font-size="3.1" text-anchor="end" fill="#222" stroke="#222" stroke-width="0.1">4</text>
<path d="M458.00,581.78 H459.60" stroke="#111" stroke-width="0.6"/>
<text x="457.70" y="582.88" font-size="3.1" text-anchor="end" fill="#222" stroke="#222" stroke-width="0.1">2</text>
<path d="M458.00,590.40 H459.60" stroke="#111" stroke-width="0.6"/>
<text x="457.70" y="591.50" font-size="3.1" text-anchor="end" fill="#222" stroke="#222" stroke-width="0.1">0</text>
<path d="M459.60,590.40 V592.10" stroke="#111" stroke-width="0.6"/>
<text x="459.60" y="595.50" font-size="3.1" text-anchor="middle" fill="#222" stroke="#222" stroke-width="0.1">0</text>
<path d="M469.23,590.40 V592.10" stroke="#111" stroke-width="0.6"/>
<text x="469.23" y="595.50" font-size="3.1" text-anchor="middle" fill="#222" stroke="#222" stroke-width="0.1">2</text>
<path d="M478.87,590.40 V592.10" stroke="#111" stroke-width="0.6"/>
<text x="478.87" y="595.50" font-size="3.1" text-anchor="middle" fill="#222" stroke="#222" stroke-width="0.1">4</text>
<path d="M488.50,590.40 V592.10" stroke="#111" stroke-width="0.6"/>
<text x="488.50" y="595.50" font-size="3.1" text-anchor="middle" fill="#222" stroke="#222" stroke-width="0.1">6</text>
<text x="474.05" y="604.90" font-size="3.55" text-anchor="middle" fill="#222" stroke="#222" stroke-width="0.1">Time (h)</text>
<path d="M459.60,587.50 L462.01,583.40 L469.23,558.60 L488.50,551.00" stroke="#1a1a1a" stroke-width="0.8" stroke-dasharray="1,1" fill="none"/>
<circle cx="459.60" cy="587.50" r="1.0" fill="#111"/>
<path d="M462.01,580.20 V586.30 M460.91,580.20 H463.11 M460.91,586.30 H463.11" stroke="#222" stroke-width="0.7"/>
<circle cx="462.01" cy="583.40" r="1.0" fill="#111"/>
<path d="M469.23,552.10 V564.80 M468.13,552.10 H470.33 M468.13,564.80 H470.33" stroke="#222" stroke-width="0.7"/>
<circle cx="469.23" cy="558.60" r="1.0" fill="#111"/>
<circle cx="488.50" cy="551.00" r="1.0" fill="#111"/>
<text x="523.80" y="540.70" font-size="4.1" text-anchor="middle" fill="#222" stroke="#222" stroke-width="0.1">SLU7 (pY285)</text>
<path d="M509.20,546.30 V590.10 H538.10" stroke="#111" stroke-width="1.15" fill="none"/>
<path d="M507.60,546.30 H509.20" stroke="#111" stroke-width="0.6"/>
<text x="507.30" y="547.40" font-size="3.1" text-anchor="end" fill="#222" stroke="#222" stroke-width="0.1">210</text>
<path d="M507.60,552.56 H509.20" stroke="#111" stroke-width="0.6"/>
<text x="507.30" y="553.66" font-size="3.1" text-anchor="end" fill="#222" stroke="#222" stroke-width="0.1">180</text>
<path d="M507.60,558.81 H509.20" stroke="#111" stroke-width="0.6"/>
<text x="507.30" y="559.91" font-size="3.1" text-anchor="end" fill="#222" stroke="#222" stroke-width="0.1">150</text>
<path d="M507.60,565.07 H509.20" stroke="#111" stroke-width="0.6"/>
<text x="507.30" y="566.17" font-size="3.1" text-anchor="end" fill="#222" stroke="#222" stroke-width="0.1">120</text>
<path d="M507.60,571.33 H509.20" stroke="#111" stroke-width="0.6"/>
<text x="507.30" y="572.43" font-size="3.1" text-anchor="end" fill="#222" stroke="#222" stroke-width="0.1">90</text>
<path d="M507.60,577.59 H509.20" stroke="#111" stroke-width="0.6"/>
<text x="507.30" y="578.69" font-size="3.1" text-anchor="end" fill="#222" stroke="#222" stroke-width="0.1">60</text>
<path d="M507.60,583.84 H509.20" stroke="#111" stroke-width="0.6"/>
<text x="507.30" y="584.94" font-size="3.1" text-anchor="end" fill="#222" stroke="#222" stroke-width="0.1">30</text>
<path d="M507.60,590.10 H509.20" stroke="#111" stroke-width="0.6"/>
<text x="507.30" y="591.20" font-size="3.1" text-anchor="end" fill="#222" stroke="#222" stroke-width="0.1">0</text>
<path d="M509.20,590.10 V591.80" stroke="#111" stroke-width="0.6"/>
<text x="509.20" y="595.20" font-size="3.1" text-anchor="middle" fill="#222" stroke="#222" stroke-width="0.1">0</text>
<path d="M518.83,590.10 V591.80" stroke="#111" stroke-width="0.6"/>
<text x="518.83" y="595.20" font-size="3.1" text-anchor="middle" fill="#222" stroke="#222" stroke-width="0.1">2</text>
<path d="M528.47,590.10 V591.80" stroke="#111" stroke-width="0.6"/>
<text x="528.47" y="595.20" font-size="3.1" text-anchor="middle" fill="#222" stroke="#222" stroke-width="0.1">4</text>
<path d="M538.10,590.10 V591.80" stroke="#111" stroke-width="0.6"/>
<text x="538.10" y="595.20" font-size="3.1" text-anchor="middle" fill="#222" stroke="#222" stroke-width="0.1">6</text>
<text x="523.65" y="604.90" font-size="3.55" text-anchor="middle" fill="#222" stroke="#222" stroke-width="0.1">Time (h)</text>
<path d="M509.20,589.00 L511.61,588.60 L518.83,565.90 L538.10,548.80" stroke="#1a1a1a" stroke-width="0.8" stroke-dasharray="1,1" fill="none"/>
<circle cx="509.20" cy="589.00" r="1.0" fill="#111"/>
<circle cx="511.61" cy="588.60" r="1.0" fill="#111"/>
<path d="M518.83,563.40 V567.80 M517.73,563.40 H519.93 M517.73,567.80 H519.93" stroke="#222" stroke-width="0.7"/>
<circle cx="518.83" cy="565.90" r="1.0" fill="#111"/>
<circle cx="538.10" cy="548.80" r="1.0" fill="#111"/>
<text x="570.70" y="541.00" font-size="4.1" text-anchor="middle" fill="#222" stroke="#222" stroke-width="0.1">BCR (pY246)</text>
<path d="M556.40,546.30 V590.10 H585.50" stroke="#111" stroke-width="1.15" fill="none"/>
<path d="M554.80,546.30 H556.40" stroke="#111" stroke-width="0.6"/>
<text x="554.50" y="547.40" font-size="3.1" text-anchor="end" fill="#222" stroke="#222" stroke-width="0.1">10</text>
<path d="M554.80,555.06 H556.40" stroke="#111" stroke-width="0.6"/>
<text x="554.50" y="556.16" font-size="3.1" text-anchor="end" fill="#222" stroke="#222" stroke-width="0.1">8</text>
<path d="M554.80,563.82 H556.40" stroke="#111" stroke-width="0.6"/>
<text x="554.50" y="564.92" font-size="3.1" text-anchor="end" fill="#222" stroke="#222" stroke-width="0.1">6</text>
<path d="M554.80,572.58 H556.40" stroke="#111" stroke-width="0.6"/>
<text x="554.50" y="573.68" font-size="3.1" text-anchor="end" fill="#222" stroke="#222" stroke-width="0.1">4</text>
<path d="M554.80,581.34 H556.40" stroke="#111" stroke-width="0.6"/>
<text x="554.50" y="582.44" font-size="3.1" text-anchor="end" fill="#222" stroke="#222" stroke-width="0.1">2</text>
<path d="M554.80,590.10 H556.40" stroke="#111" stroke-width="0.6"/>
<text x="554.50" y="591.20" font-size="3.1" text-anchor="end" fill="#222" stroke="#222" stroke-width="0.1">0</text>
<path d="M556.40,590.10 V591.80" stroke="#111" stroke-width="0.6"/>
<text x="556.40" y="595.20" font-size="3.1" text-anchor="middle" fill="#222" stroke="#222" stroke-width="0.1">0</text>
<path d="M566.10,590.10 V591.80" stroke="#111" stroke-width="0.6"/>
<text x="566.10" y="595.20" font-size="3.1" text-anchor="middle" fill="#222" stroke="#222" stroke-width="0.1">2</text>
<path d="M575.80,590.10 V591.80" stroke="#111" stroke-width="0.6"/>
<text x="575.80" y="595.20" font-size="3.1" text-anchor="middle" fill="#222" stroke="#222" stroke-width="0.1">4</text>
<path d="M585.50,590.10 V591.80" stroke="#111" stroke-width="0.6"/>
<text x="585.50" y="595.20" font-size="3.1" text-anchor="middle" fill="#222" stroke="#222" stroke-width="0.1">6</text>
<text x="570.95" y="604.90" font-size="3.55" text-anchor="middle" fill="#222" stroke="#222" stroke-width="0.1">Time (h)</text>
<path d="M556.40,586.30 L558.82,581.90 L566.10,568.50 L585.50,551.70" stroke="#1a1a1a" stroke-width="0.8" stroke-dasharray="1,1" fill="none"/>
<circle cx="556.40" cy="586.30" r="1.0" fill="#111"/>
<path d="M558.82,579.00 V585.30 M557.72,579.00 H559.92 M557.72,585.30 H559.92" stroke="#222" stroke-width="0.7"/>
<circle cx="558.82" cy="581.90" r="1.0" fill="#111"/>
<path d="M566.10,561.90 V575.10 M565.00,561.90 H567.20 M565.00,575.10 H567.20" stroke="#222" stroke-width="0.7"/>
<circle cx="566.10" cy="568.50" r="1.0" fill="#111"/>
<circle cx="585.50" cy="551.70" r="1.0" fill="#111"/>
<text x="618.10" y="541.00" font-size="4.1" text-anchor="middle" fill="#222" stroke="#222" stroke-width="0.1">EIF4A1 (pY197)</text>
<path d="M603.90,546.30 V590.10 H632.30" stroke="#111" stroke-width="1.15" fill="none"/>
<path d="M602.30,546.30 H603.90" stroke="#111" stroke-width="0.6"/>
<text x="602.00" y="547.40" font-size="3.1" text-anchor="end" fill="#222" stroke="#222" stroke-width="0.1">6</text>
<path d="M602.30,553.60 H603.90" stroke="#111" stroke-width="0.6"/>
<text x="602.00" y="554.70" font-size="3.1" text-anchor="end" fill="#222" stroke="#222" stroke-width="0.1">5</text>
<path d="M602.30,560.90 H603.90" stroke="#111" stroke-width="0.6"/>
<text x="602.00" y="562.00" font-size="3.1" text-anchor="end" fill="#222" stroke="#222" stroke-width="0.1">4</text>
<path d="M602.30,568.20 H603.90" stroke="#111" stroke-width="0.6"/>
<text x="602.00" y="569.30" font-size="3.1" text-anchor="end" fill="#222" stroke="#222" stroke-width="0.1">3</text>
<path d="M602.30,575.50 H603.90" stroke="#111" stroke-width="0.6"/>
<text x="602.00" y="576.60" font-size="3.1" text-anchor="end" fill="#222" stroke="#222" stroke-width="0.1">2</text>
<path d="M602.30,582.80 H603.90" stroke="#111" stroke-width="0.6"/>
<text x="602.00" y="583.90" font-size="3.1" text-anchor="end" fill="#222" stroke="#222" stroke-width="0.1">1</text>
<path d="M602.30,590.10 H603.90" stroke="#111" stroke-width="0.6"/>
<text x="602.00" y="591.20" font-size="3.1" text-anchor="end" fill="#222" stroke="#222" stroke-width="0.1">0</text>
<path d="M603.90,590.10 V591.80" stroke="#111" stroke-width="0.6"/>
<text x="603.90" y="595.20" font-size="3.1" text-anchor="middle" fill="#222" stroke="#222" stroke-width="0.1">0</text>
<path d="M613.37,590.10 V591.80" stroke="#111" stroke-width="0.6"/>
<text x="613.37" y="595.20" font-size="3.1" text-anchor="middle" fill="#222" stroke="#222" stroke-width="0.1">2</text>
<path d="M622.83,590.10 V591.80" stroke="#111" stroke-width="0.6"/>
<text x="622.83" y="595.20" font-size="3.1" text-anchor="middle" fill="#222" stroke="#222" stroke-width="0.1">4</text>
<path d="M632.30,590.10 V591.80" stroke="#111" stroke-width="0.6"/>
<text x="632.30" y="595.20" font-size="3.1" text-anchor="middle" fill="#222" stroke="#222" stroke-width="0.1">6</text>
<text x="618.10" y="604.90" font-size="3.55" text-anchor="middle" fill="#222" stroke="#222" stroke-width="0.1">Time (h)</text>
<path d="M603.90,582.40 L606.27,581.60 L613.37,580.90 L632.30,552.70" stroke="#1a1a1a" stroke-width="0.8" stroke-dasharray="1,1" fill="none"/>
<circle cx="603.90" cy="582.40" r="1.0" fill="#111"/>
<path d="M606.27,577.50 V585.70 M605.17,577.50 H607.37 M605.17,585.70 H607.37" stroke="#222" stroke-width="0.7"/>
<circle cx="606.27" cy="581.60" r="1.0" fill="#111"/>
<path d="M613.37,577.50 V584.30 M612.27,577.50 H614.47 M612.27,584.30 H614.47" stroke="#222" stroke-width="0.7"/>
<circle cx="613.37" cy="580.90" r="1.0" fill="#111"/>
<circle cx="632.30" cy="552.70" r="1.0" fill="#111"/>
<text x="666.80" y="541.30" font-size="4.1" text-anchor="middle" fill="#222" stroke="#222" stroke-width="0.1">BCR (pY644)</text>
<path d="M652.40,546.50 V590.30 H681.50" stroke="#111" stroke-width="1.15" fill="none"/>
<path d="M650.80,546.50 H652.40" stroke="#111" stroke-width="0.6"/>
<text x="650.50" y="547.60" font-size="3.1" text-anchor="end" fill="#222" stroke="#222" stroke-width="0.1">7</text>
<path d="M650.80,552.76 H652.40" stroke="#111" stroke-width="0.6"/>
<text x="650.50" y="553.86" font-size="3.1" text-anchor="end" fill="#222" stroke="#222" stroke-width="0.1">6</text>
<path d="M650.80,559.01 H652.40" stroke="#111" stroke-width="0.6"/>
<text x="650.50" y="560.11" font-size="3.1" text-anchor="end" fill="#222" stroke="#222" stroke-width="0.1">5</text>
<path d="M650.80,565.27 H652.40" stroke="#111" stroke-width="0.6"/>
<text x="650.50" y="566.37" font-size="3.1" text-anchor="end" fill="#222" stroke="#222" stroke-width="0.1">4</text>
<path d="M650.80,571.53 H652.40" stroke="#111" stroke-width="0.6"/>
<text x="650.50" y="572.63" font-size="3.1" text-anchor="end" fill="#222" stroke="#222" stroke-width="0.1">3</text>
<path d="M650.80,577.79 H652.40" stroke="#111" stroke-width="0.6"/>
<text x="650.50" y="578.89" font-size="3.1" text-anchor="end" fill="#222" stroke="#222" stroke-width="0.1">2</text>
<path d="M650.80,584.04 H652.40" stroke="#111" stroke-width="0.6"/>
<text x="650.50" y="585.14" font-size="3.1" text-anchor="end" fill="#222" stroke="#222" stroke-width="0.1">1</text>
<path d="M650.80,590.30 H652.40" stroke="#111" stroke-width="0.6"/>
<text x="650.50" y="591.40" font-size="3.1" text-anchor="end" fill="#222" stroke="#222" stroke-width="0.1">0</text>
<path d="M652.40,590.30 V592.00" stroke="#111" stroke-width="0.6"/>
<text x="652.40" y="595.40" font-size="3.1" text-anchor="middle" fill="#222" stroke="#222" stroke-width="0.1">0</text>
<path d="M662.10,590.30 V592.00" stroke="#111" stroke-width="0.6"/>
<text x="662.10" y="595.40" font-size="3.1" text-anchor="middle" fill="#222" stroke="#222" stroke-width="0.1">2</text>
<path d="M671.80,590.30 V592.00" stroke="#111" stroke-width="0.6"/>
<text x="671.80" y="595.40" font-size="3.1" text-anchor="middle" fill="#222" stroke="#222" stroke-width="0.1">4</text>
<path d="M681.50,590.30 V592.00" stroke="#111" stroke-width="0.6"/>
<text x="681.50" y="595.40" font-size="3.1" text-anchor="middle" fill="#222" stroke="#222" stroke-width="0.1">6</text>
<text x="666.95" y="604.90" font-size="3.55" text-anchor="middle" fill="#222" stroke="#222" stroke-width="0.1">Time (h)</text>
<path d="M652.40,583.80 L654.82,587.70 L662.10,575.60 L681.50,548.70" stroke="#1a1a1a" stroke-width="0.8" stroke-dasharray="1,1" fill="none"/>
<circle cx="652.40" cy="583.80" r="1.0" fill="#111"/>
<circle cx="654.82" cy="587.70" r="1.0" fill="#111"/>
<path d="M662.10,568.20 V583.50 M661.00,568.20 H663.20 M661.00,583.50 H663.20" stroke="#222" stroke-width="0.7"/>
<circle cx="662.10" cy="575.60" r="1.0" fill="#111"/>
<circle cx="681.50" cy="548.70" r="1.0" fill="#111"/>
<text x="474.20" y="623.30" font-size="4.1" text-anchor="middle" fill="#222" stroke="#222" stroke-width="0.1">CPSF6 (pY74)</text>
<path d="M460.00,628.80 V672.10 H488.80" stroke="#111" stroke-width="1.15" fill="none"/>
<path d="M458.40,628.80 H460.00" stroke="#111" stroke-width="0.6"/>
<text x="458.10" y="629.90" font-size="3.1" text-anchor="end" fill="#222" stroke="#222" stroke-width="0.1">4</text>
<path d="M458.40,639.62 H460.00" stroke="#111" stroke-width="0.6"/>
<text x="458.10" y="640.73" font-size="3.1" text-anchor="end" fill="#222" stroke="#222" stroke-width="0.1">3</text>
<path d="M458.40,650.45 H460.00" stroke="#111" stroke-width="0.6"/>
<text x="458.10" y="651.55" font-size="3.1" text-anchor="end" fill="#222" stroke="#222" stroke-width="0.1">2</text>
<path d="M458.40,661.27 H460.00" stroke="#111" stroke-width="0.6"/>
<text x="458.10" y="662.38" font-size="3.1" text-anchor="end" fill="#222" stroke="#222" stroke-width="0.1">1</text>
<path d="M458.40,672.10 H460.00" stroke="#111" stroke-width="0.6"/>
<text x="458.10" y="673.20" font-size="3.1" text-anchor="end" fill="#222" stroke="#222" stroke-width="0.1">0</text>
<path d="M460.00,672.10 V673.80" stroke="#111" stroke-width="0.6"/>
<text x="460.00" y="677.20" font-size="3.1" text-anchor="middle" fill="#222" stroke="#222" stroke-width="0.1">0</text>
<path d="M469.60,672.10 V673.80" stroke="#111" stroke-width="0.6"/>
<text x="469.60" y="677.20" font-size="3.1" text-anchor="middle" fill="#222" stroke="#222" stroke-width="0.1">2</text>
<path d="M479.20,672.10 V673.80" stroke="#111" stroke-width="0.6"/>
<text x="479.20" y="677.20" font-size="3.1" text-anchor="middle" fill="#222" stroke="#222" stroke-width="0.1">4</text>
<path d="M488.80,672.10 V673.80" stroke="#111" stroke-width="0.6"/>
<text x="488.80" y="677.20" font-size="3.1" text-anchor="middle" fill="#222" stroke="#222" stroke-width="0.1">6</text>
<text x="474.40" y="686.60" font-size="3.55" text-anchor="middle" fill="#222" stroke="#222" stroke-width="0.1">Time (h)</text>
<path d="M460.00,661.30 L462.40,661.60 L469.60,652.60 L488.80,632.10" stroke="#1a1a1a" stroke-width="0.8" stroke-dasharray="1,1" fill="none"/>
<circle cx="460.00" cy="661.30" r="1.0" fill="#111"/>
<path d="M462.40,656.50 V667.20 M461.30,656.50 H463.50 M461.30,667.20 H463.50" stroke="#222" stroke-width="0.7"/>
<circle cx="462.40" cy="661.60" r="1.0" fill="#111"/>
<path d="M469.60,642.40 V663.40 M468.50,642.40 H470.70 M468.50,663.40 H470.70" stroke="#222" stroke-width="0.7"/>
<circle cx="469.60" cy="652.60" r="1.0" fill="#111"/>
<circle cx="488.80" cy="632.10" r="1.0" fill="#111"/>
<text x="523.80" y="621.90" font-size="4.1" text-anchor="middle" fill="#222" stroke="#222" stroke-width="0.1">ABL1 (pY393)</text>
<path d="M509.20,627.80 V671.60 H538.40" stroke="#111" stroke-width="1.15" fill="none"/>
<path d="M507.60,627.80 H509.20" stroke="#111" stroke-width="0.6"/>
<text x="507.30" y="628.90" font-size="3.1" text-anchor="end" fill="#222" stroke="#222" stroke-width="0.1">3.5</text>
<path d="M507.60,635.10 H509.20" stroke="#111" stroke-width="0.6"/>
<text x="507.30" y="636.20" font-size="3.1" text-anchor="end" fill="#222" stroke="#222" stroke-width="0.1">3.0</text>
<path d="M507.60,642.40 H509.20" stroke="#111" stroke-width="0.6"/>
<text x="507.30" y="643.50" font-size="3.1" text-anchor="end" fill="#222" stroke="#222" stroke-width="0.1">2.5</text>
<path d="M507.60,649.70 H509.20" stroke="#111" stroke-width="0.6"/>
<text x="507.30" y="650.80" font-size="3.1" text-anchor="end" fill="#222" stroke="#222" stroke-width="0.1">2.0</text>
<path d="M507.60,657.00 H509.20" stroke="#111" stroke-width="0.6"/>
<text x="507.30" y="658.10" font-size="3.1" text-anchor="end" fill="#222" stroke="#222" stroke-width="0.1">1.5</text>
<path d="M507.60,664.30 H509.20" stroke="#111" stroke-width="0.6"/>
<text x="507.30" y="665.40" font-size="3.1" text-anchor="end" fill="#222" stroke="#222" stroke-width="0.1">1.0</text>
<path d="M507.60,671.60 H509.20" stroke="#111" stroke-width="0.6"/>
<text x="507.30" y="672.70" font-size="3.1" text-anchor="end" fill="#222" stroke="#222" stroke-width="0.1">0.5</text>
<path d="M509.20,671.60 V673.30" stroke="#111" stroke-width="0.6"/>
<text x="509.20" y="676.70" font-size="3.1" text-anchor="middle" fill="#222" stroke="#222" stroke-width="0.1">0</text>
<path d="M518.93,671.60 V673.30" stroke="#111" stroke-width="0.6"/>
<text x="518.93" y="676.70" font-size="3.1" text-anchor="middle" fill="#222" stroke="#222" stroke-width="0.1">2</text>
<path d="M528.67,671.60 V673.30" stroke="#111" stroke-width="0.6"/>
<text x="528.67" y="676.70" font-size="3.1" text-anchor="middle" fill="#222" stroke="#222" stroke-width="0.1">4</text>
<path d="M538.40,671.60 V673.30" stroke="#111" stroke-width="0.6"/>
<text x="538.40" y="676.70" font-size="3.1" text-anchor="middle" fill="#222" stroke="#222" stroke-width="0.1">6</text>
<text x="523.80" y="686.60" font-size="3.55" text-anchor="middle" fill="#222" stroke="#222" stroke-width="0.1">Time (h)</text>
<path d="M509.20,664.60 L511.63,661.60 L518.93,653.20 L538.40,634.20" stroke="#1a1a1a" stroke-width="0.8" stroke-dasharray="1,1" fill="none"/>
<circle cx="509.20" cy="664.60" r="1.0" fill="#111"/>
<path d="M511.63,658.00 V666.00 M510.53,658.00 H512.73 M510.53,666.00 H512.73" stroke="#222" stroke-width="0.7"/>
<circle cx="511.63" cy="661.60" r="1.0" fill="#111"/>
<path d="M518.93,646.70 V659.40 M517.83,646.70 H520.03 M517.83,659.40 H520.03" stroke="#222" stroke-width="0.7"/>
<circle cx="518.93" cy="653.20" r="1.0" fill="#111"/>
<circle cx="538.40" cy="634.20" r="1.0" fill="#111"/>
<text x="571.00" y="622.90" font-size="4.1" text-anchor="middle" fill="#222" stroke="#222" stroke-width="0.1">DHX9 (pY9)</text>
<path d="M557.20,628.40 V671.60 H585.50" stroke="#111" stroke-width="1.15" fill="none"/>
<path d="M555.60,628.40 H557.20" stroke="#111" stroke-width="0.6"/>
<text x="555.30" y="629.50" font-size="3.1" text-anchor="end" fill="#222" stroke="#222" stroke-width="0.1">6</text>
<path d="M555.60,635.60 H557.20" stroke="#111" stroke-width="0.6"/>
<text x="555.30" y="636.70" font-size="3.1" text-anchor="end" fill="#222" stroke="#222" stroke-width="0.1">5</text>
<path d="M555.60,642.80 H557.20" stroke="#111" stroke-width="0.6"/>
<text x="555.30" y="643.90" font-size="3.1" text-anchor="end" fill="#222" stroke="#222" stroke-width="0.1">4</text>
<path d="M555.60,650.00 H557.20" stroke="#111" stroke-width="0.6"/>
<text x="555.30" y="651.10" font-size="3.1" text-anchor="end" fill="#222" stroke="#222" stroke-width="0.1">3</text>
<path d="M555.60,657.20 H557.20" stroke="#111" stroke-width="0.6"/>
<text x="555.30" y="658.30" font-size="3.1" text-anchor="end" fill="#222" stroke="#222" stroke-width="0.1">2</text>
<path d="M555.60,664.40 H557.20" stroke="#111" stroke-width="0.6"/>
<text x="555.30" y="665.50" font-size="3.1" text-anchor="end" fill="#222" stroke="#222" stroke-width="0.1">1</text>
<path d="M555.60,671.60 H557.20" stroke="#111" stroke-width="0.6"/>
<text x="555.30" y="672.70" font-size="3.1" text-anchor="end" fill="#222" stroke="#222" stroke-width="0.1">0</text>
<path d="M557.20,671.60 V673.30" stroke="#111" stroke-width="0.6"/>
<text x="557.20" y="676.70" font-size="3.1" text-anchor="middle" fill="#222" stroke="#222" stroke-width="0.1">0</text>
<path d="M566.63,671.60 V673.30" stroke="#111" stroke-width="0.6"/>
<text x="566.63" y="676.70" font-size="3.1" text-anchor="middle" fill="#222" stroke="#222" stroke-width="0.1">2</text>
<path d="M576.07,671.60 V673.30" stroke="#111" stroke-width="0.6"/>
<text x="576.07" y="676.70" font-size="3.1" text-anchor="middle" fill="#222" stroke="#222" stroke-width="0.1">4</text>
<path d="M585.50,671.60 V673.30" stroke="#111" stroke-width="0.6"/>
<text x="585.50" y="676.70" font-size="3.1" text-anchor="middle" fill="#222" stroke="#222" stroke-width="0.1">6</text>
<text x="571.35" y="686.60" font-size="3.55" text-anchor="middle" fill="#222" stroke="#222" stroke-width="0.1">Time (h)</text>
<path d="M557.20,664.80 L559.56,666.30 L566.63,661.90 L585.50,629.80" stroke="#1a1a1a" stroke-width="0.8" stroke-dasharray="1,1" fill="none"/>
<circle cx="557.20" cy="664.80" r="1.0" fill="#111"/>
<path d="M559.56,663.40 V669.20 M558.46,663.40 H560.66 M558.46,669.20 H560.66" stroke="#222" stroke-width="0.7"/>
<circle cx="559.56" cy="666.30" r="1.0" fill="#111"/>
<path d="M566.63,657.00 V667.20 M565.53,657.00 H567.73 M565.53,667.20 H567.73" stroke="#222" stroke-width="0.7"/>
<circle cx="566.63" cy="661.90" r="1.0" fill="#111"/>
<circle cx="585.50" cy="629.80" r="1.0" fill="#111"/>
<text x="618.10" y="622.90" font-size="4.1" text-anchor="middle" fill="#222" stroke="#222" stroke-width="0.1">HNRNPA2B1 (pY336)</text>
<path d="M604.20,628.40 V671.60 H632.30" stroke="#111" stroke-width="1.15" fill="none"/>
<path d="M602.60,628.40 H604.20" stroke="#111" stroke-width="0.6"/>
<text x="602.30" y="629.50" font-size="3.1" text-anchor="end" fill="#222" stroke="#222" stroke-width="0.1">8</text>
<path d="M602.60,639.20 H604.20" stroke="#111" stroke-width="0.6"/>
<text x="602.30" y="640.30" font-size="3.1" text-anchor="end" fill="#222" stroke="#222" stroke-width="0.1">6</text>
<path d="M602.60,650.00 H604.20" stroke="#111" stroke-width="0.6"/>
<text x="602.30" y="651.10" font-size="3.1" text-anchor="end" fill="#222" stroke="#222" stroke-width="0.1">4</text>
<path d="M602.60,660.80 H604.20" stroke="#111" stroke-width="0.6"/>
<text x="602.30" y="661.90" font-size="3.1" text-anchor="end" fill="#222" stroke="#222" stroke-width="0.1">2</text>
<path d="M602.60,671.60 H604.20" stroke="#111" stroke-width="0.6"/>
<text x="602.30" y="672.70" font-size="3.1" text-anchor="end" fill="#222" stroke="#222" stroke-width="0.1">0</text>
<path d="M604.20,671.60 V673.30" stroke="#111" stroke-width="0.6"/>
<text x="604.20" y="676.70" font-size="3.1" text-anchor="middle" fill="#222" stroke="#222" stroke-width="0.1">0</text>
<path d="M613.57,671.60 V673.30" stroke="#111" stroke-width="0.6"/>
<text x="613.57" y="676.70" font-size="3.1" text-anchor="middle" fill="#222" stroke="#222" stroke-width="0.1">2</text>
<path d="M622.93,671.60 V673.30" stroke="#111" stroke-width="0.6"/>
<text x="622.93" y="676.70" font-size="3.1" text-anchor="middle" fill="#222" stroke="#222" stroke-width="0.1">4</text>
<path d="M632.30,671.60 V673.30" stroke="#111" stroke-width="0.6"/>
<text x="632.30" y="676.70" font-size="3.1" text-anchor="middle" fill="#222" stroke="#222" stroke-width="0.1">6</text>
<text x="618.25" y="686.60" font-size="3.55" text-anchor="middle" fill="#222" stroke="#222" stroke-width="0.1">Time (h)</text>
<path d="M604.20,666.30 L606.54,667.80 L613.57,655.50 L632.30,632.40" stroke="#1a1a1a" stroke-width="0.8" stroke-dasharray="1,1" fill="none"/>
<circle cx="604.20" cy="666.30" r="1.0" fill="#111"/>
<circle cx="606.54" cy="667.80" r="1.0" fill="#111"/>
<path d="M613.57,645.30 V666.30 M612.47,645.30 H614.67 M612.47,666.30 H614.67" stroke="#222" stroke-width="0.7"/>
<circle cx="613.57" cy="655.50" r="1.0" fill="#111"/>
<circle cx="632.30" cy="632.40" r="1.0" fill="#111"/>
<text x="666.90" y="623.20" font-size="4.1" text-anchor="middle" fill="#222" stroke="#222" stroke-width="0.1">PTPN11 (pY66)</text>
<path d="M652.40,628.50 V672.10 H681.60" stroke="#111" stroke-width="1.15" fill="none"/>
<path d="M650.80,628.50 H652.40" stroke="#111" stroke-width="0.6"/>
<text x="650.50" y="629.60" font-size="3.1" text-anchor="end" fill="#222" stroke="#222" stroke-width="0.1">8</text>
<path d="M650.80,633.95 H652.40" stroke="#111" stroke-width="0.6"/>
<text x="650.50" y="635.05" font-size="3.1" text-anchor="end" fill="#222" stroke="#222" stroke-width="0.1">7</text>
<path d="M650.80,639.40 H652.40" stroke="#111" stroke-width="0.6"/>
<text x="650.50" y="640.50" font-size="3.1" text-anchor="end" fill="#222" stroke="#222" stroke-width="0.1">6</text>
<path d="M650.80,644.85 H652.40" stroke="#111" stroke-width="0.6"/>
<text x="650.50" y="645.95" font-size="3.1" text-anchor="end" fill="#222" stroke="#222" stroke-width="0.1">5</text>
<path d="M650.80,650.30 H652.40" stroke="#111" stroke-width="0.6"/>
<text x="650.50" y="651.40" font-size="3.1" text-anchor="end" fill="#222" stroke="#222" stroke-width="0.1">4</text>
<path d="M650.80,655.75 H652.40" stroke="#111" stroke-width="0.6"/>
<text x="650.50" y="656.85" font-size="3.1" text-anchor="end" fill="#222" stroke="#222" stroke-width="0.1">3</text>
<path d="M650.80,661.20 H652.40" stroke="#111" stroke-width="0.6"/>
<text x="650.50" y="662.30" font-size="3.1" text-anchor="end" fill="#222" stroke="#222" stroke-width="0.1">2</text>
<path d="M650.80,666.65 H652.40" stroke="#111" stroke-width="0.6"/>
<text x="650.50" y="667.75" font-size="3.1" text-anchor="end" fill="#222" stroke="#222" stroke-width="0.1">1</text>
<path d="M650.80,672.10 H652.40" stroke="#111" stroke-width="0.6"/>
<text x="650.50" y="673.20" font-size="3.1" text-anchor="end" fill="#222" stroke="#222" stroke-width="0.1">0</text>
<path d="M652.40,672.10 V673.80" stroke="#111" stroke-width="0.6"/>
<text x="652.40" y="677.20" font-size="3.1" text-anchor="middle" fill="#222" stroke="#222" stroke-width="0.1">0</text>
<path d="M662.13,672.10 V673.80" stroke="#111" stroke-width="0.6"/>
<text x="662.13" y="677.20" font-size="3.1" text-anchor="middle" fill="#222" stroke="#222" stroke-width="0.1">2</text>
<path d="M671.87,672.10 V673.80" stroke="#111" stroke-width="0.6"/>
<text x="671.87" y="677.20" font-size="3.1" text-anchor="middle" fill="#222" stroke="#222" stroke-width="0.1">4</text>
<path d="M681.60,672.10 V673.80" stroke="#111" stroke-width="0.6"/>
<text x="681.60" y="677.20" font-size="3.1" text-anchor="middle" fill="#222" stroke="#222" stroke-width="0.1">6</text>
<text x="667.00" y="686.60" font-size="3.55" text-anchor="middle" fill="#222" stroke="#222" stroke-width="0.1">Time (h)</text>
<path d="M652.40,661.20 L654.83,652.20 L662.13,645.80 L681.60,639.10" stroke="#1a1a1a" stroke-width="0.8" stroke-dasharray="1,1" fill="none"/>
<circle cx="652.40" cy="661.20" r="1.0" fill="#111"/>
<path d="M654.83,640.20 V664.30 M653.73,640.20 H655.93 M653.73,664.30 H655.93" stroke="#222" stroke-width="0.7"/>
<circle cx="654.83" cy="652.20" r="1.0" fill="#111"/>
<path d="M662.13,632.30 V659.00 M661.03,632.30 H663.23 M661.03,659.00 H663.23" stroke="#222" stroke-width="0.7"/>
<circle cx="662.13" cy="645.80" r="1.0" fill="#111"/>
<path d="M681.60,633.00 V644.60 M680.50,633.00 H682.70 M680.50,644.60 H682.70" stroke="#222" stroke-width="0.7"/>
<circle cx="681.60" cy="639.10" r="1.0" fill="#111"/>
<text x="0.60" y="366.80" font-size="19.0" font-weight="bold">c</text>
<defs><linearGradient id="l1g" x1="0" y1="0" x2="1" y2="0"><stop offset="0" stop-color="#9aa6a6"/><stop offset="0.45" stop-color="#6a7676"/><stop offset="0.8" stop-color="#2a3434"/><stop offset="1" stop-color="#3a4444"/></linearGradient></defs>
<text x="76.10" y="370.30" font-size="8.0" text-anchor="middle" font-weight="bold" fill="#86208a">PXN (pY118)</text>
<text x="25.00" y="389.90" font-size="5.6" text-anchor="middle" fill="#1a1a1a" stroke="#1a1a1a" stroke-width="0.15">Time (h)</text>
<text x="24.60" y="396.20" font-size="5.6" text-anchor="middle" fill="#1a1a1a" stroke="#1a1a1a" stroke-width="0.15">rapalog</text>
<text transform="translate(44.80,386.80) rotate(-45)" font-size="6.5" fill="#1a1a1a" stroke="#1a1a1a" stroke-width="0.15">0</text>
<text x="44.50" y="395.60" font-size="6.0" text-anchor="middle" fill="#1a1a1a" stroke="#1a1a1a" stroke-width="0.15">-</text>
<text transform="translate(57.30,386.80) rotate(-45)" font-size="6.5" fill="#1a1a1a" stroke="#1a1a1a" stroke-width="0.15">0.25</text>
<text x="60.00" y="395.60" font-size="6.0" text-anchor="middle" fill="#1a1a1a" stroke="#1a1a1a" stroke-width="0.15">+</text>
<text transform="translate(75.00,386.80) rotate(-45)" font-size="6.5" fill="#1a1a1a" stroke="#1a1a1a" stroke-width="0.15">0.5</text>
<text x="75.70" y="395.60" font-size="6.0" text-anchor="middle" fill="#1a1a1a" stroke="#1a1a1a" stroke-width="0.15">+</text>
<text transform="translate(92.10,386.80) rotate(-45)" font-size="6.5" fill="#1a1a1a" stroke="#1a1a1a" stroke-width="0.15">2</text>
<text x="91.80" y="395.60" font-size="6.0" text-anchor="middle" fill="#1a1a1a" stroke="#1a1a1a" stroke-width="0.15">+</text>
<text transform="translate(107.90,386.80) rotate(-45)" font-size="6.5" fill="#1a1a1a" stroke="#1a1a1a" stroke-width="0.15">6</text>
<text x="108.20" y="395.60" font-size="6.0" text-anchor="middle" fill="#1a1a1a" stroke="#1a1a1a" stroke-width="0.15">+</text>
<rect x="35.30" y="401.30" width="80.80" height="24.30" fill="#a3b0af" stroke="#151818" stroke-width="1.1"/>
<rect x="37.30" y="405.40" width="11.90" height="3.00" rx="1.36" fill="url(#l1g)" filter="url(#bl)"/>
<rect x="52.30" y="403.50" width="13.20" height="6.00" rx="2.73" fill="#0a0c0c" filter="url(#bl)"/>
<rect x="68.10" y="404.60" width="12.50" height="4.60" rx="2.09" fill="#1c2222" filter="url(#bl)"/>
<rect x="84.50" y="406.40" width="7.30" height="1.80" rx="0.82" fill="#8e9a9a" filter="url(#bl)"/>
<rect x="93.00" y="406.60" width="4.00" height="1.40" rx="0.64" fill="#98a4a4" filter="url(#bl)"/>
<rect x="101.00" y="406.60" width="5.00" height="1.40" rx="0.64" fill="#96a2a2" filter="url(#bl)"/>
<rect x="49.20" y="411.30" width="1.00" height="1.00" rx="0.45" fill="#333" filter="url(#bl2)"/>
<text x="34.20" y="404.40" font-size="5.15" text-anchor="end" fill="#1a1a1a" stroke="#1a1a1a" stroke-width="0.15">75 kDa -</text>
<text x="34.20" y="426.80" font-size="5.15" text-anchor="end" fill="#1a1a1a" stroke="#1a1a1a" stroke-width="0.15">50 kDa -</text>
<text x="118.00" y="409.80" font-size="6.0" font-weight="bold" fill="#111">&lt; PXN</text>
<text x="115.60" y="432.60" font-size="5.2" text-anchor="end" font-weight="bold" fill="#111">anti-p-PXN (pY118)</text>
<rect x="35.30" y="441.30" width="80.80" height="25.00" fill="#9ca8a7" stroke="#151818" stroke-width="1.1"/>
<rect x="37.20" y="445.60" width="13.80" height="6.40" rx="2.91" fill="#080a0a" filter="url(#bl)"/>
<rect x="53.00" y="445.80" width="13.80" height="6.00" rx="2.73" fill="#0c0e0e" filter="url(#bl)"/>
<rect x="69.40" y="445.60" width="13.80" height="6.40" rx="2.91" fill="#080a0a" filter="url(#bl)"/>
<rect x="85.80" y="446.20" width="13.20" height="5.60" rx="2.55" fill="#101414" filter="url(#bl)"/>
<rect x="101.00" y="445.30" width="13.10" height="6.60" rx="3.00" fill="#060808" filter="url(#bl)"/>
<text x="34.20" y="444.30" font-size="5.15" text-anchor="end" fill="#1a1a1a" stroke="#1a1a1a" stroke-width="0.15">75 kDa -</text>
<text x="34.20" y="467.20" font-size="5.15" text-anchor="end" fill="#1a1a1a" stroke="#1a1a1a" stroke-width="0.15">50 kDa -</text>
<text x="118.00" y="451.40" font-size="6.0" font-weight="bold" fill="#111">&lt; PXN</text>
<text x="115.60" y="472.30" font-size="5.2" text-anchor="end" font-weight="bold" fill="#111">anti-PXN</text>
<rect x="35.30" y="479.00" width="80.80" height="13.80" fill="#8a9595" stroke="#151818" stroke-width="1.1"/>
<rect x="36.60" y="483.80" width="13.80" height="4.80" rx="2.18" fill="#070909" filter="url(#bl)"/>
<rect x="51.70" y="483.80" width="14.40" height="4.80" rx="2.18" fill="#070909" filter="url(#bl)"/>
<rect x="68.10" y="483.80" width="14.50" height="4.80" rx="2.18" fill="#070909" filter="url(#bl)"/>
<rect x="83.90" y="483.80" width="14.40" height="4.80" rx="2.18" fill="#070909" filter="url(#bl)"/>
<rect x="100.30" y="483.80" width="13.80" height="4.80" rx="2.18" fill="#070909" filter="url(#bl)"/>
<text x="34.20" y="480.70" font-size="5.15" text-anchor="end" fill="#1a1a1a" stroke="#1a1a1a" stroke-width="0.15">50 kDa -</text>
<text x="34.20" y="494.40" font-size="5.15" text-anchor="end" fill="#1a1a1a" stroke="#1a1a1a" stroke-width="0.15">37 kDa -</text>
<text x="115.60" y="499.90" font-size="5.2" text-anchor="end" font-weight="bold" fill="#111">anti-beta Actin</text>
<text x="209.40" y="370.80" font-size="8.0" text-anchor="middle" font-weight="bold" fill="#1f2678">CRKL (pY207)</text>
<text x="158.30" y="389.40" font-size="5.6" text-anchor="middle" fill="#1a1a1a" stroke="#1a1a1a" stroke-width="0.15">Time (h)</text>
<text x="157.90" y="396.40" font-size="5.6" text-anchor="middle" fill="#1a1a1a" stroke="#1a1a1a" stroke-width="0.15">rapalog</text>
<text transform="translate(177.80,387.80) rotate(-45)" font-size="6.5" fill="#1a1a1a" stroke="#1a1a1a" stroke-width="0.15">0</text>
<text x="177.90" y="396.80" font-size="6.0" text-anchor="middle" fill="#1a1a1a" stroke="#1a1a1a" stroke-width="0.15">-</text>
<text transform="translate(190.70,387.80) rotate(-45)" font-size="6.5" fill="#1a1a1a" stroke="#1a1a1a" stroke-width="0.15">0.25</text>
<text x="193.30" y="396.80" font-size="6.0" text-anchor="middle" fill="#1a1a1a" stroke="#1a1a1a" stroke-width="0.15">+</text>
<text transform="translate(208.00,387.80) rotate(-45)" font-size="6.5" fill="#1a1a1a" stroke="#1a1a1a" stroke-width="0.15">0.5</text>
<text x="209.40" y="396.80" font-size="6.0" text-anchor="middle" fill="#1a1a1a" stroke="#1a1a1a" stroke-width="0.15">+</text>
<text transform="translate(224.90,387.80) rotate(-45)" font-size="6.5" fill="#1a1a1a" stroke="#1a1a1a" stroke-width="0.15">2</text>
<text x="225.40" y="396.80" font-size="6.0" text-anchor="middle" fill="#1a1a1a" stroke="#1a1a1a" stroke-width="0.15">+</text>
<text transform="translate(241.50,387.80) rotate(-45)" font-size="6.5" fill="#1a1a1a" stroke="#1a1a1a" stroke-width="0.15">6</text>
<text x="241.50" y="396.80" font-size="6.0" text-anchor="middle" fill="#1a1a1a" stroke="#1a1a1a" stroke-width="0.15">+</text>
<rect x="168.30" y="402.20" width="80.80" height="24.10" fill="#8b9795" stroke="#151818" stroke-width="1.1"/>
<rect x="178.80" y="419.40" width="3.30" height="1.20" rx="0.55" fill="#6e7a78" filter="url(#bl)"/>
<rect x="186.00" y="418.60" width="11.90" height="2.80" rx="1.27" fill="#0c1010" filter="url(#bl)"/>
<rect x="201.80" y="418.60" width="12.50" height="2.80" rx="1.27" fill="#0c1010" filter="url(#bl)"/>
<rect x="218.90" y="419.00" width="10.50" height="2.40" rx="1.09" fill="#1c2222" filter="url(#bl)"/>
<rect x="234.40" y="417.90" width="12.70" height="3.40" rx="1.55" fill="#080b0b" filter="url(#bl)"/>
<text x="167.50" y="404.60" font-size="5.15" text-anchor="end" fill="#1a1a1a" stroke="#1a1a1a" stroke-width="0.15">50 kDa -</text>
<text x="167.50" y="427.40" font-size="5.15" text-anchor="end" fill="#1a1a1a" stroke="#1a1a1a" stroke-width="0.15">37 kDa -</text>
<text x="251.00" y="422.40" font-size="6.0" font-weight="bold" fill="#111">&lt; CRKL</text>
<text x="248.80" y="433.30" font-size="5.2" text-anchor="end" font-weight="bold" fill="#111">anti-p-CRKL (pY207)</text>
<rect x="168.30" y="442.20" width="80.80" height="24.40" fill="#8b9795" stroke="#151818" stroke-width="1.1"/>
<rect x="169.60" y="456.90" width="13.80" height="6.20" rx="2.82" fill="#050707" filter="url(#bl)"/>
<rect x="185.80" y="457.10" width="13.60" height="5.80" rx="2.64" fill="#060808" filter="url(#bl)"/>
<rect x="202.00" y="457.50" width="14.20" height="5.40" rx="2.45" fill="#070909" filter="url(#bl)"/>
<rect x="218.90" y="457.10" width="13.80" height="5.80" rx="2.64" fill="#060808" filter="url(#bl)"/>
<rect x="234.40" y="456.50" width="13.60" height="6.60" rx="3.00" fill="#040606" filter="url(#bl)"/>
<text x="167.50" y="445.10" font-size="5.15" text-anchor="end" fill="#1a1a1a" stroke="#1a1a1a" stroke-width="0.15">50 kDa -</text>
<text x="167.50" y="468.20" font-size="5.15" text-anchor="end" fill="#1a1a1a" stroke="#1a1a1a" stroke-width="0.15">37 kDa -</text>
<text x="251.00" y="463.30" font-size="6.0" font-weight="bold" fill="#111">&lt; CRKL</text>
<text x="248.80" y="473.50" font-size="5.2" text-anchor="end" font-weight="bold" fill="#111">anti-CRKL</text>
<rect x="168.30" y="479.40" width="80.80" height="13.80" fill="#8e9a9a" stroke="#151818" stroke-width="1.1"/>
<rect x="170.30" y="483.70" width="13.10" height="4.60" rx="2.09" fill="#070909" filter="url(#bl)"/>
<rect x="185.80" y="483.70" width="13.60" height="4.60" rx="2.09" fill="#070909" filter="url(#bl)"/>
<rect x="202.00" y="483.70" width="14.00" height="4.60" rx="2.09" fill="#070909" filter="url(#bl)"/>
<rect x="218.20" y="483.70" width="13.20" height="4.60" rx="2.09" fill="#070909" filter="url(#bl)"/>
<rect x="233.30" y="483.70" width="13.80" height="4.60" rx="2.09" fill="#070909" filter="url(#bl)"/>
<text x="167.50" y="481.10" font-size="5.15" text-anchor="end" fill="#1a1a1a" stroke="#1a1a1a" stroke-width="0.15">50 kDa -</text>
<text x="167.50" y="494.40" font-size="5.15" text-anchor="end" fill="#1a1a1a" stroke="#1a1a1a" stroke-width="0.15">37 kDa -</text>
<text x="249.70" y="499.60" font-size="5.2" text-anchor="end" font-weight="bold" fill="#111">anti-beta Actin</text>
<text x="346.90" y="370.80" font-size="8.0" text-anchor="middle" font-weight="bold" fill="#1f2678">STAT5 (pY694)</text>
<text x="295.50" y="390.00" font-size="5.6" text-anchor="middle" fill="#1a1a1a" stroke="#1a1a1a" stroke-width="0.15">Time (h)</text>
<text x="295.10" y="396.40" font-size="5.6" text-anchor="middle" fill="#1a1a1a" stroke="#1a1a1a" stroke-width="0.15">rapalog</text>
<text transform="translate(315.40,387.40) rotate(-45)" font-size="6.5" fill="#1a1a1a" stroke="#1a1a1a" stroke-width="0.15">0</text>
<text x="315.50" y="397.20" font-size="6.0" text-anchor="middle" fill="#1a1a1a" stroke="#1a1a1a" stroke-width="0.15">-</text>
<text transform="translate(328.30,387.40) rotate(-45)" font-size="6.5" fill="#1a1a1a" stroke="#1a1a1a" stroke-width="0.15">0.5</text>
<text x="330.50" y="397.20" font-size="6.0" text-anchor="middle" fill="#1a1a1a" stroke="#1a1a1a" stroke-width="0.15">+</text>
<text transform="translate(346.30,387.40) rotate(-45)" font-size="6.5" fill="#1a1a1a" stroke="#1a1a1a" stroke-width="0.15">2</text>
<text x="346.30" y="397.20" font-size="6.0" text-anchor="middle" fill="#1a1a1a" stroke="#1a1a1a" stroke-width="0.15">+</text>
<text transform="translate(362.50,387.40) rotate(-45)" font-size="6.5" fill="#1a1a1a" stroke="#1a1a1a" stroke-width="0.15">6</text>
<text x="362.80" y="397.20" font-size="6.0" text-anchor="middle" fill="#1a1a1a" stroke="#1a1a1a" stroke-width="0.15">+</text>
<text transform="translate(379.20,387.40) rotate(-45)" font-size="6.5" fill="#1a1a1a" stroke="#1a1a1a" stroke-width="0.15">12</text>
<text x="378.80" y="397.20" font-size="6.0" text-anchor="middle" fill="#1a1a1a" stroke="#1a1a1a" stroke-width="0.15">+</text>
<rect x="305.90" y="402.20" width="80.80" height="24.10" fill="#b6c2c2" stroke="#151818" stroke-width="1.1"/>
<rect x="340.00" y="414.05" width="1.40" height="1.50" rx="0.68" fill="#8a9696" filter="url(#bl2)"/>
<rect x="349.20" y="414.05" width="1.40" height="1.50" rx="0.68" fill="#8a9696" filter="url(#bl2)"/>
<rect x="355.20" y="414.00" width="2.40" height="1.60" rx="0.73" fill="#8a9696" filter="url(#bl2)"/>
<rect x="358.40" y="414.15" width="2.00" height="1.30" rx="0.59" fill="#98a4a4" filter="url(#bl2)"/>
<rect x="361.00" y="414.05" width="1.60" height="1.50" rx="0.68" fill="#8a9696" filter="url(#bl2)"/>
<rect x="363.60" y="414.00" width="2.00" height="1.60" rx="0.73" fill="#889494" filter="url(#bl2)"/>
<rect x="371.00" y="414.00" width="2.20" height="1.60" rx="0.73" fill="#889494" filter="url(#bl2)"/>
<rect x="374.20" y="414.05" width="1.80" height="1.50" rx="0.68" fill="#8e9a9a" filter="url(#bl2)"/>
<rect x="377.40" y="414.00" width="2.00" height="1.60" rx="0.73" fill="#889494" filter="url(#bl2)"/>
<rect x="380.60" y="413.95" width="2.80" height="1.70" rx="0.77" fill="#849090" filter="url(#bl2)"/>
<rect x="381.50" y="421.45" width="1.10" height="1.10" rx="0.50" fill="#7a8686" filter="url(#bl2)"/>
<text x="304.50" y="404.30" font-size="5.15" text-anchor="end" fill="#1a1a1a" stroke="#1a1a1a" stroke-width="0.15">100 kDa -</text>
<text x="304.50" y="427.80" font-size="5.15" text-anchor="end" fill="#1a1a1a" stroke="#1a1a1a" stroke-width="0.15">75 kDa -</text>
<text x="388.70" y="417.30" font-size="6.0" font-weight="bold" fill="#111">&lt; STAT5</text>
<text x="386.20" y="433.30" font-size="5.2" text-anchor="end" font-weight="bold" fill="#111">anti-p-STAT5 (pY694)</text>
<rect x="305.90" y="442.20" width="80.80" height="24.70" fill="#a9b5b4" stroke="#151818" stroke-width="1.1"/>
<rect x="307.90" y="451.40" width="11.80" height="4.60" rx="2.09" fill="#0a0d0d" filter="url(#bl)"/>
<rect x="323.40" y="451.10" width="12.10" height="5.40" rx="2.45" fill="#080b0b" filter="url(#bl)"/>
<rect x="339.20" y="451.10" width="13.40" height="5.40" rx="2.45" fill="#080b0b" filter="url(#bl)"/>
<rect x="355.80" y="451.20" width="12.50" height="5.20" rx="2.36" fill="#0a0d0d" filter="url(#bl)"/>
<rect x="371.60" y="451.20" width="12.50" height="4.80" rx="2.18" fill="#0a0d0d" filter="url(#bl)"/>
<text x="304.50" y="445.10" font-size="5.15" text-anchor="end" fill="#1a1a1a" stroke="#1a1a1a" stroke-width="0.15">100 kDa -</text>
<text x="304.50" y="468.20" font-size="5.15" text-anchor="end" fill="#1a1a1a" stroke="#1a1a1a" stroke-width="0.15">75 kDa -</text>
<text x="388.70" y="455.90" font-size="6.0" font-weight="bold" fill="#111">&lt; STAT5</text>
<text x="386.20" y="473.70" font-size="5.2" text-anchor="end" font-weight="bold" fill="#111">anti-STAT5</text>
<rect x="305.90" y="479.40" width="80.80" height="13.80" fill="#7b8585" stroke="#151818" stroke-width="1.1"/>
<rect x="307.20" y="483.30" width="14.50" height="5.80" rx="2.64" fill="#040606" filter="url(#bl)"/>
<rect x="323.40" y="483.30" width="14.70" height="5.80" rx="2.64" fill="#040606" filter="url(#bl)"/>
<rect x="339.70" y="483.30" width="13.50" height="5.80" rx="2.64" fill="#040606" filter="url(#bl)"/>
<rect x="355.20" y="483.30" width="13.80" height="5.80" rx="2.64" fill="#040606" filter="url(#bl)"/>
<rect x="371.00" y="483.30" width="13.10" height="5.80" rx="2.64" fill="#040606" filter="url(#bl)"/>
<text x="304.50" y="481.10" font-size="5.15" text-anchor="end" fill="#1a1a1a" stroke="#1a1a1a" stroke-width="0.15">50 kDa -</text>
<text x="304.50" y="494.40" font-size="5.15" text-anchor="end" fill="#1a1a1a" stroke="#1a1a1a" stroke-width="0.15">37 kDa -</text>
<text x="386.20" y="499.90" font-size="5.2" text-anchor="end" font-weight="bold" fill="#111">anti-beta Actin</text>
<text x="0.60" y="528.60" font-size="19.0" font-weight="bold">d</text>
<text x="50.50" y="537.60" font-size="5.6" text-anchor="end" fill="#1a1a1a" stroke="#1a1a1a" stroke-width="0.15">Time (h)</text>
<text x="50.50" y="545.30" font-size="5.6" text-anchor="end" fill="#1a1a1a" stroke="#1a1a1a" stroke-width="0.15">DOX (200 ng/mL)</text>
<text transform="translate(60.10,536.20) rotate(-45)" font-size="6.0" fill="#1a1a1a" stroke="#1a1a1a" stroke-width="0.15">0</text>
<text x="59.90" y="545.60" font-size="6.0" text-anchor="middle" fill="#1a1a1a" stroke="#1a1a1a" stroke-width="0.15">-</text>
<text transform="translate(75.00,536.20) rotate(-45)" font-size="6.0" fill="#1a1a1a" stroke="#1a1a1a" stroke-width="0.15">0.5</text>
<text x="75.70" y="545.60" font-size="6.0" text-anchor="middle" fill="#1a1a1a" stroke="#1a1a1a" stroke-width="0.15">+</text>
<text transform="translate(91.60,536.20) rotate(-45)" font-size="6.0" fill="#1a1a1a" stroke="#1a1a1a" stroke-width="0.15">2</text>
<text x="91.10" y="545.60" font-size="6.0" text-anchor="middle" fill="#1a1a1a" stroke="#1a1a1a" stroke-width="0.15">+</text>
<text transform="translate(107.40,536.20) rotate(-45)" font-size="6.0" fill="#1a1a1a" stroke="#1a1a1a" stroke-width="0.15">6</text>
<text x="107.20" y="545.60" font-size="6.0" text-anchor="middle" fill="#1a1a1a" stroke="#1a1a1a" stroke-width="0.15">+</text>
<rect x="50.30" y="550.30" width="64.80" height="12.50" fill="#9eaaaa" stroke="#151818" stroke-width="1.1"/>
<rect x="99.90" y="555.55" width="13.10" height="1.90" rx="0.86" fill="#040606" filter="url(#bl)"/>
<text x="49.00" y="558.00" font-size="5.15" text-anchor="end" fill="#1a1a1a" stroke="#1a1a1a" stroke-width="0.15">250 kDa -</text>
<text x="116.80" y="559.00" font-size="6.3" fill="#111" stroke="#111" stroke-width="0.3">&lt; BCR-ABL</text>
<text x="115.10" y="569.30" font-size="5.2" text-anchor="end" font-weight="bold" fill="#111">anti-HA</text>
<defs><linearGradient id="sm" x1="0" y1="0" x2="0" y2="1"><stop offset="0" stop-color="#334040"/><stop offset="0.08" stop-color="#3e4a4a"/><stop offset="0.15" stop-color="#141c1c"/><stop offset="0.25" stop-color="#050808"/><stop offset="0.52" stop-color="#070a0a"/><stop offset="0.64" stop-color="#1e2828"/><stop offset="0.78" stop-color="#364242"/><stop offset="0.9" stop-color="#526060"/><stop offset="1" stop-color="#5e6c6c"/></linearGradient><linearGradient id="smh" x1="0" y1="0" x2="1" y2="0"><stop offset="0" stop-color="#000" stop-opacity="0.35"/><stop offset="0.25" stop-color="#000" stop-opacity="0.0"/><stop offset="0.75" stop-color="#000" stop-opacity="0.0"/><stop offset="1" stop-color="#000" stop-opacity="0.35"/></linearGradient></defs>
<rect x="50.80" y="574.80" width="64.50" height="78.90" fill="#9ea9a8" stroke="#151818" stroke-width="1.1"/>
<rect x="52.60" y="591.80" width="12.30" height="1.60" rx="0.73" fill="#56626a" filter="url(#bl)"/>
<rect x="68.90" y="591.80" width="12.90" height="1.60" rx="0.73" fill="#56626a" filter="url(#bl)"/>
<rect x="85.30" y="592.10" width="11.70" height="1.80" rx="0.82" fill="#526060" filter="url(#bl)"/>
<rect x="53.90" y="626.00" width="11.60" height="3.20" rx="1.45" fill="#8c9898" filter="url(#bl)"/>
<rect x="70.30" y="626.20" width="11.60" height="3.20" rx="1.45" fill="#8e9a9a" filter="url(#bl)"/>
<rect x="86.00" y="626.20" width="11.60" height="3.20" rx="1.45" fill="#8c9898" filter="url(#bl)"/>
<rect x="53.90" y="643.05" width="11.60" height="0.90" rx="0.41" fill="#84908f" filter="url(#bl)"/>
<rect x="70.30" y="643.05" width="11.60" height="0.90" rx="0.41" fill="#84908f" filter="url(#bl)"/>
<rect x="86.00" y="643.05" width="11.60" height="0.90" rx="0.41" fill="#84908f" filter="url(#bl)"/>
<rect x="53.90" y="646.70" width="11.60" height="1.80" rx="0.82" fill="#3e4848" filter="url(#bl)"/>
<rect x="70.30" y="646.70" width="11.60" height="1.80" rx="0.82" fill="#3e4848" filter="url(#bl)"/>
<rect x="86.00" y="646.70" width="11.60" height="1.80" rx="0.82" fill="#3e4848" filter="url(#bl)"/>
<path d="M101.2,578 H113.2 L112.8,641 H101.8 Z" fill="url(#sm)" filter="url(#bl)"/>
<path d="M101.2,578 H113.2 L112.8,641 H101.8 Z" fill="url(#smh)"/>
<rect x="102.5" y="597" width="9.4" height="0.9" fill="#000" opacity="0.6" filter="url(#bl2)"/>
<rect x="102.5" y="603" width="9.4" height="0.9" fill="#000" opacity="0.6" filter="url(#bl2)"/>
<rect x="102.5" y="609" width="9.4" height="0.9" fill="#000" opacity="0.6" filter="url(#bl2)"/>
<rect x="102.5" y="613" width="9.4" height="0.9" fill="#2c3838" opacity="0.6" filter="url(#bl2)"/>
<rect x="102.5" y="616" width="9.4" height="0.9" fill="#0a1010" opacity="0.6" filter="url(#bl2)"/>
<rect x="102.5" y="620" width="9.4" height="0.9" fill="#3a4646" opacity="0.6" filter="url(#bl2)"/>
<rect x="102.5" y="623" width="9.4" height="0.9" fill="#141c1c" opacity="0.6" filter="url(#bl2)"/>
<rect x="102.5" y="627" width="9.4" height="0.9" fill="#44504f" opacity="0.6" filter="url(#bl2)"/>
<rect x="102.5" y="630" width="9.4" height="0.9" fill="#1e2a2a" opacity="0.6" filter="url(#bl2)"/>
<rect x="102.5" y="634" width="9.4" height="0.9" fill="#56626a" opacity="0.6" filter="url(#bl2)"/>
<rect x="102.5" y="637" width="9.4" height="0.9" fill="#2a3636" opacity="0.6" filter="url(#bl2)"/>
<rect x="101.2" y="576.6" width="11.8" height="2.6" rx="1" fill="#000" filter="url(#bl)"/>
<rect x="101.6" y="640.8" width="11.2" height="1.8" rx="0.6" fill="#1a2222" filter="url(#bl)"/>
<rect x="101.6" y="645.6" width="11.2" height="2.1" rx="0.8" fill="#060a0a" filter="url(#bl)"/>
<text x="49.00" y="579.10" font-size="5.15" text-anchor="end" fill="#1a1a1a" stroke="#1a1a1a" stroke-width="0.15">250 kDa -</text>
<text x="49.00" y="593.40" font-size="5.15" text-anchor="end" fill="#1a1a1a" stroke="#1a1a1a" stroke-width="0.15">150 kDa -</text>
<text x="49.00" y="603.80" font-size="5.15" text-anchor="end" fill="#1a1a1a" stroke="#1a1a1a" stroke-width="0.15">100 kDa -</text>
<text x="49.00" y="616.50" font-size="5.15" text-anchor="end" fill="#1a1a1a" stroke="#1a1a1a" stroke-width="0.15">75 kDa -</text>
<text x="49.00" y="634.20" font-size="5.15" text-anchor="end" fill="#1a1a1a" stroke="#1a1a1a" stroke-width="0.15">50 kDa -</text>
<text x="49.00" y="646.10" font-size="5.15" text-anchor="end" fill="#1a1a1a" stroke="#1a1a1a" stroke-width="0.15">37 kDa -</text>
<text x="115.10" y="660.40" font-size="5.2" text-anchor="end" font-weight="bold" fill="#111">anti-p-Tyrosine</text>
<rect x="51.10" y="665.30" width="64.20" height="14.30" fill="#9aa6a6" stroke="#151818" stroke-width="1.1"/>
<rect x="52.50" y="670.80" width="12.30" height="2.80" rx="1.27" fill="#080b0b" filter="url(#bl)"/>
<rect x="67.90" y="670.80" width="12.30" height="2.80" rx="1.27" fill="#080b0b" filter="url(#bl)"/>
<rect x="83.90" y="670.80" width="13.00" height="2.80" rx="1.27" fill="#080b0b" filter="url(#bl)"/>
<rect x="100.30" y="670.80" width="13.00" height="2.80" rx="1.27" fill="#080b0b" filter="url(#bl)"/>
<text x="49.00" y="667.00" font-size="5.15" text-anchor="end" fill="#1a1a1a" stroke="#1a1a1a" stroke-width="0.15">50 kDa -</text>
<text x="49.00" y="680.70" font-size="5.15" text-anchor="end" fill="#1a1a1a" stroke="#1a1a1a" stroke-width="0.15">37 kDa -</text>
<text x="115.10" y="686.20" font-size="5.2" text-anchor="end" font-weight="bold" fill="#111">anti-beta Actin</text>
<text x="211.50" y="586.60" font-size="8.0" text-anchor="middle" font-weight="bold" fill="#86208a">PXN (pY118)</text>
<text x="178.40" y="602.30" font-size="5.6" text-anchor="end" fill="#1a1a1a" stroke="#1a1a1a" stroke-width="0.15">Time (h)</text>
<text x="178.40" y="609.50" font-size="5.6" text-anchor="end" fill="#1a1a1a" stroke="#1a1a1a" stroke-width="0.15">DOX (200 ng/mL)</text>
<text transform="translate(188.30,600.90) rotate(-45)" font-size="6.0" fill="#1a1a1a" stroke="#1a1a1a" stroke-width="0.15">0</text>
<text x="188.20" y="609.80" font-size="6.0" text-anchor="middle" fill="#1a1a1a" stroke="#1a1a1a" stroke-width="0.15">-</text>
<text transform="translate(204.70,600.90) rotate(-45)" font-size="6.0" fill="#1a1a1a" stroke="#1a1a1a" stroke-width="0.15">0.5</text>
<text x="204.60" y="609.80" font-size="6.0" text-anchor="middle" fill="#1a1a1a" stroke="#1a1a1a" stroke-width="0.15">+</text>
<text transform="translate(220.00,600.90) rotate(-45)" font-size="6.0" fill="#1a1a1a" stroke="#1a1a1a" stroke-width="0.15">2</text>
<text x="219.90" y="609.80" font-size="6.0" text-anchor="middle" fill="#1a1a1a" stroke="#1a1a1a" stroke-width="0.15">+</text>
<text transform="translate(236.40,600.90) rotate(-45)" font-size="6.0" fill="#1a1a1a" stroke="#1a1a1a" stroke-width="0.15">6</text>
<text x="236.30" y="609.80" font-size="6.0" text-anchor="middle" fill="#1a1a1a" stroke="#1a1a1a" stroke-width="0.15">+</text>
<rect x="179.40" y="615.20" width="64.40" height="24.40" fill="#9ca8a7" stroke="#151818" stroke-width="1.1"/>
<rect x="191.30" y="627.90" width="1.50" height="1.40" rx="0.64" fill="#111" filter="url(#bl2)"/>
<rect x="207.00" y="627.15" width="1.40" height="1.30" rx="0.59" fill="#2a3030" filter="url(#bl2)"/>
<rect x="220.00" y="622.20" width="1.20" height="1.20" rx="0.55" fill="#6a7676" filter="url(#bl2)"/>
<rect x="230.00" y="617.20" width="12.10" height="8.00" rx="3.64" fill="#8a9595" filter="url(#bl)"/>
<rect x="230.50" y="617.20" width="2.50" height="8.00" rx="1.25" fill="#7a8686" filter="url(#bl)"/>
<text x="179.00" y="619.80" font-size="5.15" text-anchor="end" fill="#1a1a1a" stroke="#1a1a1a" stroke-width="0.15">75 kDa -</text>
<text x="179.00" y="641.30" font-size="5.15" text-anchor="end" fill="#1a1a1a" stroke="#1a1a1a" stroke-width="0.15">50 kDa -</text>
<text x="245.50" y="625.60" font-size="6.0" font-weight="bold" fill="#111">&lt; PXN</text>
<text x="243.40" y="646.60" font-size="5.2" text-anchor="end" font-weight="bold" fill="#111">anti-p-PXN (pY118)</text>
<rect x="179.40" y="655.30" width="64.40" height="24.40" fill="#a6b2b1" stroke="#151818" stroke-width="1.1"/>
<rect x="181.30" y="660.70" width="12.60" height="6.00" rx="2.73" fill="#060808" filter="url(#bl)"/>
<rect x="197.90" y="660.70" width="12.70" height="6.00" rx="2.73" fill="#060808" filter="url(#bl)"/>
<rect x="214.90" y="661.10" width="12.30" height="5.60" rx="2.55" fill="#080a0a" filter="url(#bl)"/>
<rect x="231.20" y="660.00" width="10.10" height="6.20" rx="2.82" fill="#040606" filter="url(#bl)"/>
<text x="179.00" y="660.70" font-size="5.15" text-anchor="end" fill="#1a1a1a" stroke="#1a1a1a" stroke-width="0.15">75 kDa -</text>
<text x="179.00" y="681.10" font-size="5.15" text-anchor="end" fill="#1a1a1a" stroke="#1a1a1a" stroke-width="0.15">50 kDa -</text>
<text x="245.50" y="665.10" font-size="6.0" font-weight="bold" fill="#111">&lt; PXN</text>
<text x="243.40" y="686.50" font-size="5.2" text-anchor="end" font-weight="bold" fill="#111">anti-PXN</text>
<text x="347.90" y="586.60" font-size="8.0" text-anchor="middle" font-weight="bold" fill="#1f2678">SHC1 (pY427)</text>
<text x="314.60" y="602.30" font-size="5.6" text-anchor="end" fill="#1a1a1a" stroke="#1a1a1a" stroke-width="0.15">Time (h)</text>
<text x="314.60" y="609.50" font-size="5.6" text-anchor="end" fill="#1a1a1a" stroke="#1a1a1a" stroke-width="0.15">DOX (200 ng/mL)</text>
<text transform="translate(323.90,600.90) rotate(-45)" font-size="6.0" fill="#1a1a1a" stroke="#1a1a1a" stroke-width="0.15">0</text>
<text x="323.80" y="609.80" font-size="6.0" text-anchor="middle" fill="#1a1a1a" stroke="#1a1a1a" stroke-width="0.15">-</text>
<text transform="translate(340.20,600.90) rotate(-45)" font-size="6.0" fill="#1a1a1a" stroke="#1a1a1a" stroke-width="0.15">0.5</text>
<text x="340.10" y="609.80" font-size="6.0" text-anchor="middle" fill="#1a1a1a" stroke="#1a1a1a" stroke-width="0.15">+</text>
<text transform="translate(355.10,600.90) rotate(-45)" font-size="6.0" fill="#1a1a1a" stroke="#1a1a1a" stroke-width="0.15">2</text>
<text x="355.00" y="609.80" font-size="6.0" text-anchor="middle" fill="#1a1a1a" stroke="#1a1a1a" stroke-width="0.15">+</text>
<text transform="translate(371.50,600.90) rotate(-45)" font-size="6.0" fill="#1a1a1a" stroke="#1a1a1a" stroke-width="0.15">6</text>
<text x="371.40" y="609.80" font-size="6.0" text-anchor="middle" fill="#1a1a1a" stroke="#1a1a1a" stroke-width="0.15">+</text>
<rect x="314.40" y="615.20" width="64.40" height="24.40" fill="#98a4a3" stroke="#151818" stroke-width="1.1"/>
<rect x="333.40" y="627.00" width="1.40" height="1.60" rx="0.70" fill="#7a8686" filter="url(#bl)"/>
<rect x="342.60" y="627.00" width="1.40" height="1.60" rx="0.70" fill="#7a8686" filter="url(#bl)"/>
<rect x="350.00" y="627.00" width="1.40" height="1.60" rx="0.70" fill="#808c8c" filter="url(#bl)"/>
<rect x="366.80" y="625.20" width="9.70" height="4.00" rx="1.82" fill="#4a5858" filter="url(#bl)"/>
<rect x="373.50" y="624.80" width="3.30" height="4.40" rx="1.65" fill="#2a3636" filter="url(#bl)"/>
<text x="314.20" y="618.40" font-size="5.15" text-anchor="end" fill="#1a1a1a" stroke="#1a1a1a" stroke-width="0.15">75 kDa -</text>
<text x="314.20" y="641.30" font-size="5.15" text-anchor="end" fill="#1a1a1a" stroke="#1a1a1a" stroke-width="0.15">50 kDa -</text>
<text x="380.60" y="629.40" font-size="6.0" font-weight="bold" fill="#111">&lt; SHC1</text>
<text x="379.00" y="646.60" font-size="5.2" text-anchor="end" font-weight="bold" fill="#111">anti-p-SHC1 (pY427)</text>
<rect x="314.40" y="655.60" width="64.40" height="24.10" fill="#a4b0af" stroke="#151818" stroke-width="1.1"/>
<rect x="316.30" y="665.60" width="12.00" height="7.40" rx="3.36" fill="#6a7676" filter="url(#bl)"/>
<rect x="316.30" y="665.90" width="12.00" height="2.60" rx="1.18" fill="#223030" filter="url(#bl)"/>
<rect x="316.30" y="670.40" width="12.00" height="2.40" rx="1.09" fill="#2e3a3a" filter="url(#bl)"/>
<rect x="332.90" y="665.60" width="11.50" height="7.40" rx="3.36" fill="#6a7676" filter="url(#bl)"/>
<rect x="332.90" y="665.90" width="11.50" height="2.60" rx="1.18" fill="#223030" filter="url(#bl)"/>
<rect x="332.90" y="670.40" width="11.50" height="2.40" rx="1.09" fill="#2e3a3a" filter="url(#bl)"/>
<rect x="349.00" y="665.60" width="12.00" height="7.40" rx="3.36" fill="#6a7676" filter="url(#bl)"/>
<rect x="349.00" y="665.90" width="12.00" height="2.60" rx="1.18" fill="#223030" filter="url(#bl)"/>
<rect x="349.00" y="670.40" width="12.00" height="2.40" rx="1.09" fill="#2e3a3a" filter="url(#bl)"/>
<rect x="366.80" y="665.60" width="9.70" height="7.40" rx="3.36" fill="#6a7676" filter="url(#bl)"/>
<rect x="366.80" y="665.90" width="9.70" height="2.60" rx="1.18" fill="#223030" filter="url(#bl)"/>
<rect x="366.80" y="670.40" width="9.70" height="2.40" rx="1.09" fill="#2e3a3a" filter="url(#bl)"/>
<text x="314.20" y="658.20" font-size="5.15" text-anchor="end" fill="#1a1a1a" stroke="#1a1a1a" stroke-width="0.15">75 kDa -</text>
<text x="314.20" y="681.10" font-size="5.15" text-anchor="end" fill="#1a1a1a" stroke="#1a1a1a" stroke-width="0.15">50 kDa -</text>
<text x="380.60" y="671.20" font-size="6.0" font-weight="bold" fill="#111">&lt; SHC1</text>
<text x="378.50" y="686.50" font-size="5.2" text-anchor="end" font-weight="bold" fill="#111">anti-SHC1</text>
</svg>
</body></html>
